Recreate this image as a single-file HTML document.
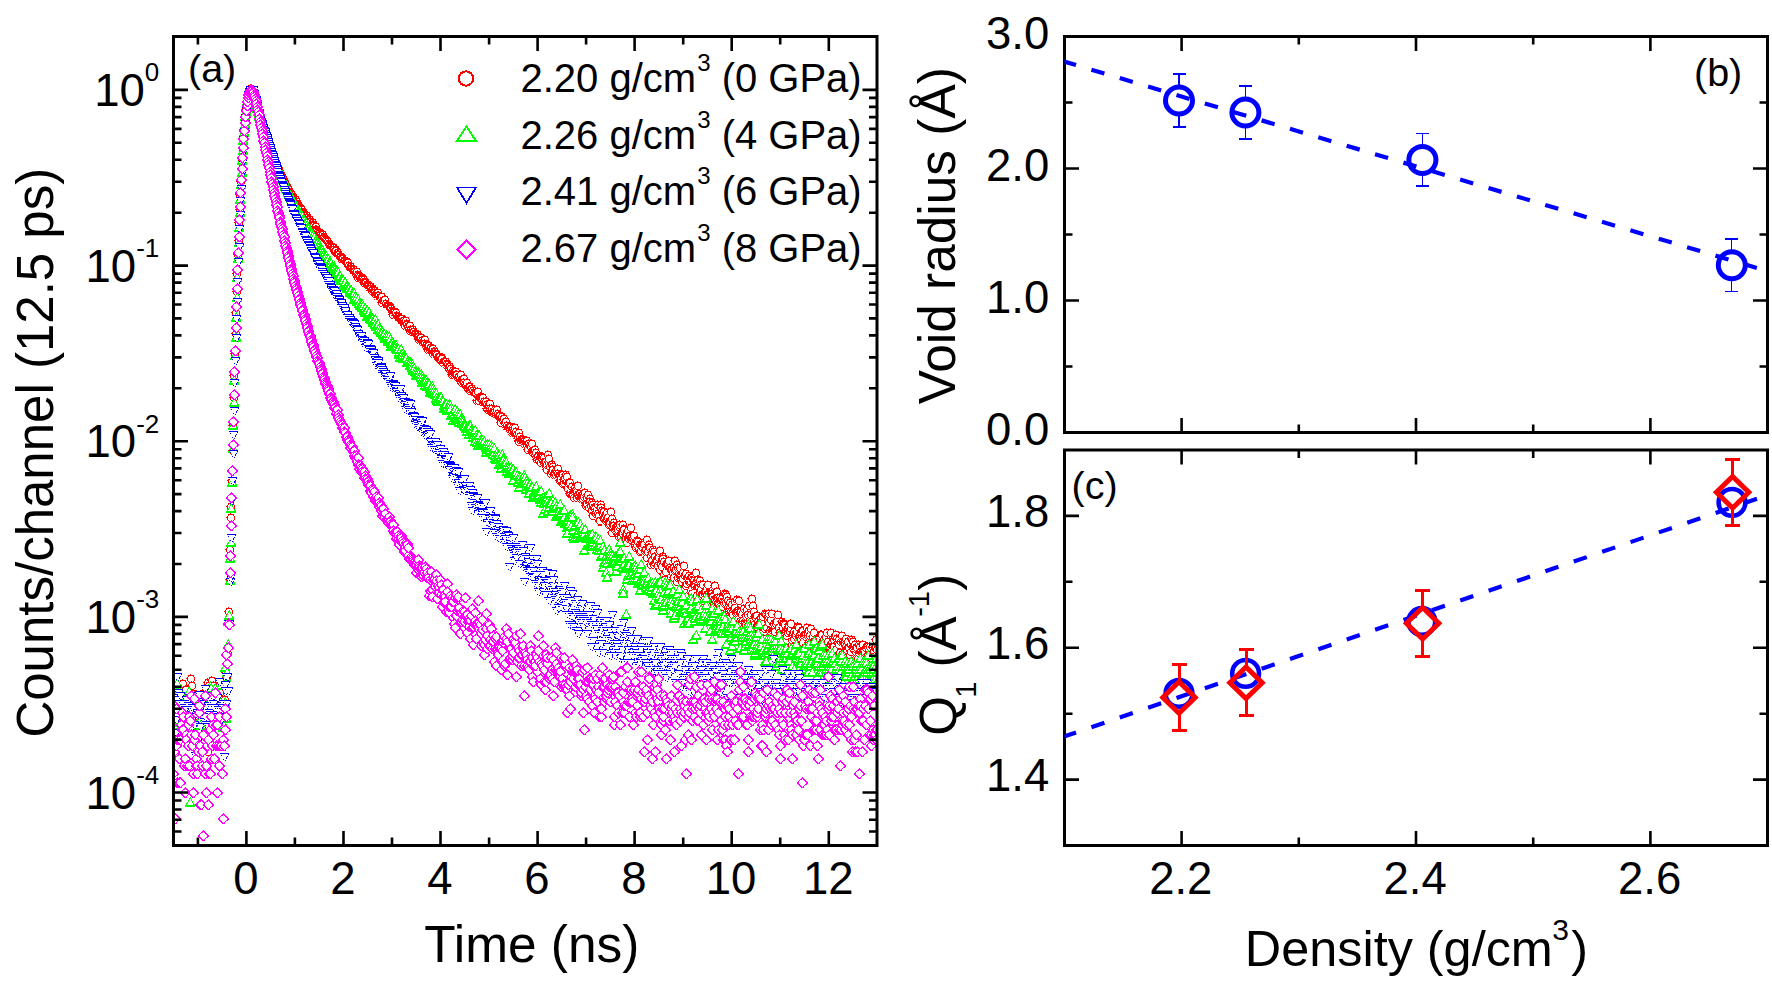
<!DOCTYPE html>
<html><head><meta charset="utf-8"><title>figure</title>
<style>html,body{margin:0;padding:0;background:#fff}svg{display:block}text{font-family:"Liberation Sans", sans-serif;fill:#000}</style>
</head><body>
<svg width="1772" height="983" viewBox="0 0 1772 983">
<defs>
<g id="r"><path fill="#fff" d="M-3-3.5h5l1.5 1.5v4l-1.5 1.5h-5l-1.5-1.5v-4z"/><path d="M-1.5 -5.5h1v1h-1zM-3.5 -4.5h6v1h-6zM-3.5 -3.5h1v1h-1zM1.5 -3.5h1v1h-1zM-4.5 -2.5h1v1h-1zM2.5 -2.5h1v1h-1zM-5.5 -1.5h2v1h-2zM2.5 -1.5h1v1h-1zM-4.5 -0.5h1v1h-1zM2.5 -0.5h1v1h-1zM-4.5 0.5h1v1h-1zM2.5 0.5h1v1h-1zM-3.5 1.5h1v1h-1zM1.5 1.5h1v1h-1zM-2.5 2.5h4v1h-4z"/></g><g id="g"><path fill="#fff" d="M0-4.5L-4.5 3.5h9z"/><path d="M-0.5 -5.5h1v1h-1zM-1.5 -4.5h2v1h-2zM-1.5 -3.5h1v1h-1zM0.5 -3.5h1v1h-1zM-2.5 -2.5h1v1h-1zM0.5 -2.5h1v1h-1zM-2.5 -1.5h1v1h-1zM1.5 -1.5h1v1h-1zM-3.5 -0.5h1v1h-1zM1.5 -0.5h1v1h-1zM-4.5 0.5h2v1h-2zM2.5 0.5h1v1h-1zM-4.5 1.5h1v1h-1zM2.5 1.5h2v1h-2zM-5.5 2.5h10v1h-10zM-5.5 3.5h10v1h-10z"/></g><g id="m"><path fill="#fff" d="M-4.5 0.5L0-4.5L4.5 0.5L0 5z"/><path d="M-0.5 -5.5h1v1h-1zM-1.5 -4.5h3v1h-3zM-2.5 -3.5h2v1h-2zM0.5 -3.5h2v1h-2zM-3.5 -2.5h1v1h-1zM1.5 -2.5h2v1h-2zM-4.5 -1.5h1v1h-1zM2.5 -1.5h2v1h-2zM-5.5 -0.5h2v1h-2zM3.5 -0.5h2v1h-2zM-5.5 0.5h2v1h-2zM3.5 0.5h2v1h-2zM-4.5 1.5h2v1h-2zM2.5 1.5h2v1h-2zM-3.5 2.5h2v1h-2zM1.5 2.5h1v1h-1zM-2.5 3.5h2v1h-2zM0.5 3.5h1v1h-1zM-1.5 4.5h3v1h-3z"/></g><g id="b"><path fill="#fff" d="M-4-3.5h8.5L0.5 3.5z"/><path d="M-4.5 -4.5h9v1h-9zM3.5 -3.5h1v1h-1zM-3.5 -2.5h1v1h-1zM2.5 -1.5h1v1h-1zM1.5 -0.5h1v1h-1zM1.5 0.5h1v1h-1zM-1.5 1.5h1v1h-1zM0.5 2.5h1v1h-1z"/></g>
<clipPath id="clipA"><rect x="173.5" y="36.5" width="703.5" height="809"/></clipPath>
<clipPath id="clipB"><rect x="1064.5" y="36.5" width="703" height="396"/></clipPath>
<clipPath id="clipC"><rect x="1064.5" y="450" width="703" height="395.5"/></clipPath>
</defs>
<rect width="1772" height="983" fill="#fff"/>
<g clip-path="url(#clipA)" stroke="none" shape-rendering="crispEdges"><g fill="#ff0000"><use href="#r" x="173.5" y="705.5"/><use href="#r" x="174.5" y="693.5"/><use href="#r" x="174.5" y="708.5"/><use href="#r" x="175.5" y="707.5"/><use href="#r" x="176.5" y="696.5"/><use href="#r" x="176.5" y="713.5"/><use href="#r" x="177.5" y="703.5"/><use href="#r" x="177.5" y="693.5"/><use href="#r" x="178.5" y="694.5"/><use href="#r" x="179.5" y="712.5"/><use href="#r" x="179.5" y="693.5"/><use href="#r" x="180.5" y="688.5"/><use href="#r" x="180.5" y="694.5"/><use href="#r" x="181.5" y="689.5"/><use href="#r" x="182.5" y="689.5"/><use href="#r" x="182.5" y="703.5"/><use href="#r" x="183.5" y="684.5"/><use href="#r" x="183.5" y="703.5"/><use href="#r" x="184.5" y="697.5"/><use href="#r" x="185.5" y="703.5"/><use href="#r" x="185.5" y="712.5"/><use href="#r" x="186.5" y="705.5"/><use href="#r" x="186.5" y="690.5"/><use href="#r" x="187.5" y="712.5"/><use href="#r" x="188.5" y="700.5"/><use href="#r" x="188.5" y="696.5"/><use href="#r" x="189.5" y="696.5"/><use href="#r" x="189.5" y="705.5"/><use href="#r" x="190.5" y="707.5"/><use href="#r" x="191.5" y="679.5"/><use href="#r" x="191.5" y="725.5"/><use href="#r" x="192.5" y="686.5"/><use href="#r" x="193.5" y="710.5"/><use href="#r" x="193.5" y="702.5"/><use href="#r" x="194.5" y="719.5"/><use href="#r" x="194.5" y="694.5"/><use href="#r" x="195.5" y="696.5"/><use href="#r" x="196.5" y="697.5"/><use href="#r" x="196.5" y="700.5"/><use href="#r" x="197.5" y="702.5"/><use href="#r" x="197.5" y="705.5"/><use href="#r" x="198.5" y="697.5"/><use href="#r" x="199.5" y="697.5"/><use href="#r" x="199.5" y="723.5"/><use href="#r" x="200.5" y="700.5"/><use href="#r" x="200.5" y="705.5"/><use href="#r" x="201.5" y="717.5"/><use href="#r" x="202.5" y="710.5"/><use href="#r" x="202.5" y="723.5"/><use href="#r" x="203.5" y="771.5"/><use href="#r" x="203.5" y="694.5"/><use href="#r" x="204.5" y="703.5"/><use href="#r" x="205.5" y="696.5"/><use href="#r" x="205.5" y="702.5"/><use href="#r" x="206.5" y="700.5"/><use href="#r" x="206.5" y="708.5"/><use href="#r" x="207.5" y="712.5"/><use href="#r" x="208.5" y="752.5"/><use href="#r" x="208.5" y="683.5"/><use href="#r" x="209.5" y="686.5"/><use href="#r" x="210.5" y="729.5"/><use href="#r" x="210.5" y="712.5"/><use href="#r" x="211.5" y="694.5"/><use href="#r" x="211.5" y="689.5"/><use href="#r" x="212.5" y="681.5"/><use href="#r" x="213.5" y="690.5"/><use href="#r" x="213.5" y="697.5"/><use href="#r" x="214.5" y="686.5"/><use href="#r" x="214.5" y="699.5"/><use href="#r" x="215.5" y="705.5"/><use href="#r" x="216.5" y="690.5"/><use href="#r" x="216.5" y="693.5"/><use href="#r" x="217.5" y="707.5"/><use href="#r" x="217.5" y="700.5"/><use href="#r" x="218.5" y="708.5"/><use href="#r" x="219.5" y="715.5"/><use href="#r" x="219.5" y="710.5"/><use href="#r" x="220.5" y="686.5"/><use href="#r" x="220.5" y="693.5"/><use href="#r" x="221.5" y="708.5"/><use href="#r" x="222.5" y="744.5"/><use href="#r" x="222.5" y="715.5"/><use href="#r" x="223.5" y="700.5"/><use href="#r" x="223.5" y="700.5"/><use href="#r" x="224.5" y="684.5"/><use href="#r" x="225.5" y="700.5"/><use href="#r" x="225.5" y="671.5"/><use href="#r" x="226.5" y="680.5"/><use href="#r" x="226.5" y="672.5"/><use href="#r" x="227.5" y="678.5"/><use href="#r" x="228.5" y="654.5"/><use href="#r" x="228.5" y="654.5"/><use href="#r" x="229.5" y="612.5"/><use href="#r" x="230.5" y="580.5"/><use href="#r" x="230.5" y="550.5"/><use href="#r" x="231.5" y="518.5"/><use href="#r" x="231.5" y="507.5"/><use href="#r" x="232.5" y="481.5"/><use href="#r" x="233.5" y="451.5"/><use href="#r" x="233.5" y="426.5"/><use href="#r" x="234.5" y="398.5"/><use href="#r" x="234.5" y="376.5"/><use href="#r" x="235.5" y="354.5"/><use href="#r" x="236.5" y="334.5"/><use href="#r" x="236.5" y="313.5"/><use href="#r" x="237.5" y="292.5"/><use href="#r" x="237.5" y="274.5"/><use href="#r" x="238.5" y="255.5"/><use href="#r" x="239.5" y="241.5"/><use href="#r" x="239.5" y="223.5"/><use href="#r" x="240.5" y="210.5"/><use href="#r" x="240.5" y="195.5"/><use href="#r" x="241.5" y="182.5"/><use href="#r" x="242.5" y="169.5"/><use href="#r" x="242.5" y="159.5"/><use href="#r" x="243.5" y="149.5"/><use href="#r" x="243.5" y="139.5"/><use href="#r" x="244.5" y="130.5"/><use href="#r" x="245.5" y="123.5"/><use href="#r" x="245.5" y="117.5"/><use href="#r" x="246.5" y="110.5"/><use href="#r" x="247.5" y="106.5"/><use href="#r" x="247.5" y="102.5"/><use href="#r" x="248.5" y="98.5"/><use href="#r" x="248.5" y="95.5"/><use href="#r" x="249.5" y="92.5"/><use href="#r" x="250.5" y="91.5"/><use href="#r" x="250.5" y="90.5"/><use href="#r" x="251.5" y="89.5"/><use href="#r" x="251.5" y="90.5"/><use href="#r" x="252.5" y="90.5"/><use href="#r" x="253.5" y="91.5"/><use href="#r" x="253.5" y="93.5"/><use href="#r" x="254.5" y="94.5"/><use href="#r" x="254.5" y="96.5"/><use href="#r" x="255.5" y="99.5"/><use href="#r" x="256.5" y="101.5"/><use href="#r" x="256.5" y="103.5"/><use href="#r" x="257.5" y="106.5"/><use href="#r" x="257.5" y="108.5"/><use href="#r" x="258.5" y="110.5"/><use href="#r" x="259.5" y="113.5"/><use href="#r" x="259.5" y="116.5"/><use href="#r" x="260.5" y="118.5"/><use href="#r" x="260.5" y="120.5"/><use href="#r" x="261.5" y="123.5"/><use href="#r" x="262.5" y="124.5"/><use href="#r" x="262.5" y="126.5"/><use href="#r" x="263.5" y="128.5"/><use href="#r" x="263.5" y="130.5"/><use href="#r" x="264.5" y="131.5"/><use href="#r" x="265.5" y="132.5"/><use href="#r" x="265.5" y="133.5"/><use href="#r" x="266.5" y="135.5"/><use href="#r" x="267.5" y="137.5"/><use href="#r" x="267.5" y="139.5"/><use href="#r" x="268.5" y="140.5"/><use href="#r" x="268.5" y="142.5"/><use href="#r" x="269.5" y="144.5"/><use href="#r" x="270.5" y="146.5"/><use href="#r" x="270.5" y="147.5"/><use href="#r" x="271.5" y="149.5"/><use href="#r" x="271.5" y="151.5"/><use href="#r" x="272.5" y="153.5"/><use href="#r" x="273.5" y="154.5"/><use href="#r" x="273.5" y="156.5"/><use href="#r" x="274.5" y="158.5"/><use href="#r" x="274.5" y="159.5"/><use href="#r" x="275.5" y="160.5"/><use href="#r" x="276.5" y="162.5"/><use href="#r" x="276.5" y="163.5"/><use href="#r" x="277.5" y="165.5"/><use href="#r" x="277.5" y="167.5"/><use href="#r" x="278.5" y="168.5"/><use href="#r" x="279.5" y="169.5"/><use href="#r" x="279.5" y="172.5"/><use href="#r" x="280.5" y="172.5"/><use href="#r" x="280.5" y="173.5"/><use href="#r" x="281.5" y="175.5"/><use href="#r" x="282.5" y="176.5"/><use href="#r" x="282.5" y="178.5"/><use href="#r" x="283.5" y="179.5"/><use href="#r" x="284.5" y="180.5"/><use href="#r" x="284.5" y="181.5"/><use href="#r" x="285.5" y="182.5"/><use href="#r" x="285.5" y="183.5"/><use href="#r" x="286.5" y="186.5"/><use href="#r" x="287.5" y="187.5"/><use href="#r" x="287.5" y="187.5"/><use href="#r" x="288.5" y="188.5"/><use href="#r" x="288.5" y="189.5"/><use href="#r" x="289.5" y="190.5"/><use href="#r" x="290.5" y="192.5"/><use href="#r" x="290.5" y="193.5"/><use href="#r" x="291.5" y="194.5"/><use href="#r" x="291.5" y="194.5"/><use href="#r" x="292.5" y="195.5"/><use href="#r" x="293.5" y="197.5"/><use href="#r" x="293.5" y="197.5"/><use href="#r" x="294.5" y="198.5"/><use href="#r" x="294.5" y="199.5"/><use href="#r" x="295.5" y="200.5"/><use href="#r" x="296.5" y="200.5"/><use href="#r" x="296.5" y="202.5"/><use href="#r" x="297.5" y="202.5"/><use href="#r" x="297.5" y="204.5"/><use href="#r" x="298.5" y="205.5"/><use href="#r" x="299.5" y="206.5"/><use href="#r" x="299.5" y="207.5"/><use href="#r" x="300.5" y="208.5"/><use href="#r" x="300.5" y="208.5"/><use href="#r" x="301.5" y="209.5"/><use href="#r" x="302.5" y="210.5"/><use href="#r" x="302.5" y="212.5"/><use href="#r" x="303.5" y="213.5"/><use href="#r" x="304.5" y="213.5"/><use href="#r" x="304.5" y="214.5"/><use href="#r" x="305.5" y="215.5"/><use href="#r" x="305.5" y="215.5"/><use href="#r" x="306.5" y="216.5"/><use href="#r" x="307.5" y="216.5"/><use href="#r" x="307.5" y="218.5"/><use href="#r" x="308.5" y="218.5"/><use href="#r" x="308.5" y="220.5"/><use href="#r" x="309.5" y="220.5"/><use href="#r" x="310.5" y="220.5"/><use href="#r" x="310.5" y="222.5"/><use href="#r" x="311.5" y="222.5"/><use href="#r" x="311.5" y="222.5"/><use href="#r" x="312.5" y="224.5"/><use href="#r" x="313.5" y="223.5"/><use href="#r" x="313.5" y="225.5"/><use href="#r" x="314.5" y="225.5"/><use href="#r" x="314.5" y="226.5"/><use href="#r" x="315.5" y="228.5"/><use href="#r" x="316.5" y="227.5"/><use href="#r" x="316.5" y="230.5"/><use href="#r" x="317.5" y="230.5"/><use href="#r" x="317.5" y="231.5"/><use href="#r" x="318.5" y="232.5"/><use href="#r" x="319.5" y="233.5"/><use href="#r" x="319.5" y="234.5"/><use href="#r" x="320.5" y="233.5"/><use href="#r" x="321.5" y="234.5"/><use href="#r" x="321.5" y="235.5"/><use href="#r" x="322.5" y="236.5"/><use href="#r" x="322.5" y="236.5"/><use href="#r" x="323.5" y="235.5"/><use href="#r" x="324.5" y="237.5"/><use href="#r" x="324.5" y="238.5"/><use href="#r" x="325.5" y="239.5"/><use href="#r" x="325.5" y="239.5"/><use href="#r" x="326.5" y="240.5"/><use href="#r" x="327.5" y="241.5"/><use href="#r" x="327.5" y="241.5"/><use href="#r" x="328.5" y="243.5"/><use href="#r" x="328.5" y="242.5"/><use href="#r" x="329.5" y="244.5"/><use href="#r" x="330.5" y="245.5"/><use href="#r" x="330.5" y="246.5"/><use href="#r" x="331.5" y="247.5"/><use href="#r" x="331.5" y="247.5"/><use href="#r" x="332.5" y="247.5"/><use href="#r" x="333.5" y="248.5"/><use href="#r" x="333.5" y="248.5"/><use href="#r" x="334.5" y="248.5"/><use href="#r" x="334.5" y="250.5"/><use href="#r" x="335.5" y="252.5"/><use href="#r" x="336.5" y="250.5"/><use href="#r" x="336.5" y="251.5"/><use href="#r" x="337.5" y="254.5"/><use href="#r" x="338.5" y="253.5"/><use href="#r" x="338.5" y="255.5"/><use href="#r" x="339.5" y="255.5"/><use href="#r" x="339.5" y="255.5"/><use href="#r" x="340.5" y="257.5"/><use href="#r" x="341.5" y="258.5"/><use href="#r" x="341.5" y="257.5"/><use href="#r" x="342.5" y="258.5"/><use href="#r" x="342.5" y="260.5"/><use href="#r" x="343.5" y="259.5"/><use href="#r" x="344.5" y="261.5"/><use href="#r" x="344.5" y="261.5"/><use href="#r" x="345.5" y="262.5"/><use href="#r" x="345.5" y="261.5"/><use href="#r" x="346.5" y="262.5"/><use href="#r" x="347.5" y="262.5"/><use href="#r" x="347.5" y="263.5"/><use href="#r" x="348.5" y="265.5"/><use href="#r" x="348.5" y="263.5"/><use href="#r" x="349.5" y="266.5"/><use href="#r" x="350.5" y="268.5"/><use href="#r" x="350.5" y="268.5"/><use href="#r" x="351.5" y="267.5"/><use href="#r" x="351.5" y="269.5"/><use href="#r" x="352.5" y="269.5"/><use href="#r" x="353.5" y="270.5"/><use href="#r" x="353.5" y="270.5"/><use href="#r" x="354.5" y="270.5"/><use href="#r" x="354.5" y="272.5"/><use href="#r" x="355.5" y="272.5"/><use href="#r" x="356.5" y="274.5"/><use href="#r" x="356.5" y="274.5"/><use href="#r" x="357.5" y="272.5"/><use href="#r" x="358.5" y="275.5"/><use href="#r" x="358.5" y="278.5"/><use href="#r" x="359.5" y="277.5"/><use href="#r" x="359.5" y="276.5"/><use href="#r" x="360.5" y="277.5"/><use href="#r" x="361.5" y="279.5"/><use href="#r" x="361.5" y="280.5"/><use href="#r" x="362.5" y="278.5"/><use href="#r" x="362.5" y="280.5"/><use href="#r" x="363.5" y="279.5"/><use href="#r" x="364.5" y="280.5"/><use href="#r" x="364.5" y="283.5"/><use href="#r" x="365.5" y="282.5"/><use href="#r" x="365.5" y="284.5"/><use href="#r" x="366.5" y="283.5"/><use href="#r" x="367.5" y="285.5"/><use href="#r" x="367.5" y="285.5"/><use href="#r" x="368.5" y="285.5"/><use href="#r" x="368.5" y="286.5"/><use href="#r" x="369.5" y="286.5"/><use href="#r" x="370.5" y="289.5"/><use href="#r" x="370.5" y="287.5"/><use href="#r" x="371.5" y="287.5"/><use href="#r" x="371.5" y="289.5"/><use href="#r" x="372.5" y="291.5"/><use href="#r" x="373.5" y="289.5"/><use href="#r" x="373.5" y="290.5"/><use href="#r" x="374.5" y="291.5"/><use href="#r" x="375.5" y="291.5"/><use href="#r" x="375.5" y="293.5"/><use href="#r" x="376.5" y="296.5"/><use href="#r" x="376.5" y="295.5"/><use href="#r" x="377.5" y="293.5"/><use href="#r" x="378.5" y="293.5"/><use href="#r" x="378.5" y="296.5"/><use href="#r" x="379.5" y="297.5"/><use href="#r" x="379.5" y="296.5"/><use href="#r" x="380.5" y="298.5"/><use href="#r" x="381.5" y="299.5"/><use href="#r" x="381.5" y="298.5"/><use href="#r" x="382.5" y="297.5"/><use href="#r" x="382.5" y="303.5"/><use href="#r" x="383.5" y="301.5"/><use href="#r" x="384.5" y="302.5"/><use href="#r" x="384.5" y="302.5"/><use href="#r" x="385.5" y="302.5"/><use href="#r" x="385.5" y="300.5"/><use href="#r" x="386.5" y="304.5"/><use href="#r" x="387.5" y="306.5"/><use href="#r" x="387.5" y="306.5"/><use href="#r" x="388.5" y="307.5"/><use href="#r" x="388.5" y="306.5"/><use href="#r" x="389.5" y="306.5"/><use href="#r" x="390.5" y="307.5"/><use href="#r" x="390.5" y="308.5"/><use href="#r" x="391.5" y="308.5"/><use href="#r" x="391.5" y="309.5"/><use href="#r" x="392.5" y="311.5"/><use href="#r" x="393.5" y="312.5"/><use href="#r" x="393.5" y="315.5"/><use href="#r" x="394.5" y="312.5"/><use href="#r" x="395.5" y="314.5"/><use href="#r" x="395.5" y="312.5"/><use href="#r" x="396.5" y="314.5"/><use href="#r" x="396.5" y="313.5"/><use href="#r" x="397.5" y="316.5"/><use href="#r" x="398.5" y="317.5"/><use href="#r" x="398.5" y="317.5"/><use href="#r" x="399.5" y="317.5"/><use href="#r" x="399.5" y="319.5"/><use href="#r" x="400.5" y="319.5"/><use href="#r" x="401.5" y="319.5"/><use href="#r" x="401.5" y="320.5"/><use href="#r" x="402.5" y="319.5"/><use href="#r" x="402.5" y="322.5"/><use href="#r" x="403.5" y="322.5"/><use href="#r" x="404.5" y="321.5"/><use href="#r" x="404.5" y="324.5"/><use href="#r" x="405.5" y="323.5"/><use href="#r" x="405.5" y="326.5"/><use href="#r" x="406.5" y="321.5"/><use href="#r" x="407.5" y="324.5"/><use href="#r" x="407.5" y="325.5"/><use href="#r" x="408.5" y="327.5"/><use href="#r" x="408.5" y="327.5"/><use href="#r" x="409.5" y="329.5"/><use href="#r" x="410.5" y="326.5"/><use href="#r" x="410.5" y="331.5"/><use href="#r" x="411.5" y="330.5"/><use href="#r" x="412.5" y="331.5"/><use href="#r" x="412.5" y="331.5"/><use href="#r" x="413.5" y="330.5"/><use href="#r" x="413.5" y="333.5"/><use href="#r" x="414.5" y="332.5"/><use href="#r" x="415.5" y="334.5"/><use href="#r" x="415.5" y="334.5"/><use href="#r" x="416.5" y="334.5"/><use href="#r" x="416.5" y="334.5"/><use href="#r" x="417.5" y="335.5"/><use href="#r" x="418.5" y="335.5"/><use href="#r" x="418.5" y="337.5"/><use href="#r" x="419.5" y="337.5"/><use href="#r" x="419.5" y="340.5"/><use href="#r" x="420.5" y="339.5"/><use href="#r" x="421.5" y="338.5"/><use href="#r" x="421.5" y="338.5"/><use href="#r" x="422.5" y="342.5"/><use href="#r" x="422.5" y="341.5"/><use href="#r" x="423.5" y="343.5"/><use href="#r" x="424.5" y="341.5"/><use href="#r" x="424.5" y="342.5"/><use href="#r" x="425.5" y="340.5"/><use href="#r" x="425.5" y="344.5"/><use href="#r" x="426.5" y="346.5"/><use href="#r" x="427.5" y="345.5"/><use href="#r" x="427.5" y="345.5"/><use href="#r" x="428.5" y="346.5"/><use href="#r" x="428.5" y="350.5"/><use href="#r" x="429.5" y="346.5"/><use href="#r" x="430.5" y="349.5"/><use href="#r" x="430.5" y="350.5"/><use href="#r" x="431.5" y="348.5"/><use href="#r" x="432.5" y="350.5"/><use href="#r" x="432.5" y="351.5"/><use href="#r" x="433.5" y="354.5"/><use href="#r" x="433.5" y="349.5"/><use href="#r" x="434.5" y="352.5"/><use href="#r" x="435.5" y="352.5"/><use href="#r" x="435.5" y="354.5"/><use href="#r" x="436.5" y="354.5"/><use href="#r" x="436.5" y="354.5"/><use href="#r" x="437.5" y="355.5"/><use href="#r" x="438.5" y="358.5"/><use href="#r" x="438.5" y="358.5"/><use href="#r" x="439.5" y="357.5"/><use href="#r" x="439.5" y="359.5"/><use href="#r" x="440.5" y="357.5"/><use href="#r" x="441.5" y="360.5"/><use href="#r" x="441.5" y="361.5"/><use href="#r" x="442.5" y="358.5"/><use href="#r" x="442.5" y="359.5"/><use href="#r" x="443.5" y="363.5"/><use href="#r" x="444.5" y="362.5"/><use href="#r" x="444.5" y="362.5"/><use href="#r" x="445.5" y="363.5"/><use href="#r" x="445.5" y="362.5"/><use href="#r" x="446.5" y="362.5"/><use href="#r" x="447.5" y="366.5"/><use href="#r" x="447.5" y="364.5"/><use href="#r" x="448.5" y="365.5"/><use href="#r" x="449.5" y="367.5"/><use href="#r" x="449.5" y="369.5"/><use href="#r" x="450.5" y="370.5"/><use href="#r" x="450.5" y="367.5"/><use href="#r" x="451.5" y="369.5"/><use href="#r" x="452.5" y="373.5"/><use href="#r" x="452.5" y="375.5"/><use href="#r" x="453.5" y="371.5"/><use href="#r" x="453.5" y="374.5"/><use href="#r" x="454.5" y="373.5"/><use href="#r" x="455.5" y="372.5"/><use href="#r" x="455.5" y="374.5"/><use href="#r" x="456.5" y="372.5"/><use href="#r" x="456.5" y="375.5"/><use href="#r" x="457.5" y="375.5"/><use href="#r" x="458.5" y="378.5"/><use href="#r" x="458.5" y="378.5"/><use href="#r" x="459.5" y="377.5"/><use href="#r" x="459.5" y="377.5"/><use href="#r" x="460.5" y="379.5"/><use href="#r" x="461.5" y="375.5"/><use href="#r" x="461.5" y="382.5"/><use href="#r" x="462.5" y="383.5"/><use href="#r" x="462.5" y="380.5"/><use href="#r" x="463.5" y="381.5"/><use href="#r" x="464.5" y="379.5"/><use href="#r" x="464.5" y="383.5"/><use href="#r" x="465.5" y="385.5"/><use href="#r" x="465.5" y="385.5"/><use href="#r" x="466.5" y="386.5"/><use href="#r" x="467.5" y="387.5"/><use href="#r" x="467.5" y="383.5"/><use href="#r" x="468.5" y="389.5"/><use href="#r" x="469.5" y="388.5"/><use href="#r" x="469.5" y="387.5"/><use href="#r" x="470.5" y="387.5"/><use href="#r" x="470.5" y="391.5"/><use href="#r" x="471.5" y="390.5"/><use href="#r" x="472.5" y="389.5"/><use href="#r" x="472.5" y="389.5"/><use href="#r" x="473.5" y="391.5"/><use href="#r" x="473.5" y="391.5"/><use href="#r" x="474.5" y="393.5"/><use href="#r" x="475.5" y="395.5"/><use href="#r" x="475.5" y="394.5"/><use href="#r" x="476.5" y="395.5"/><use href="#r" x="476.5" y="394.5"/><use href="#r" x="477.5" y="401.5"/><use href="#r" x="478.5" y="396.5"/><use href="#r" x="478.5" y="392.5"/><use href="#r" x="479.5" y="398.5"/><use href="#r" x="479.5" y="401.5"/><use href="#r" x="480.5" y="398.5"/><use href="#r" x="481.5" y="397.5"/><use href="#r" x="481.5" y="399.5"/><use href="#r" x="482.5" y="398.5"/><use href="#r" x="482.5" y="400.5"/><use href="#r" x="483.5" y="398.5"/><use href="#r" x="484.5" y="404.5"/><use href="#r" x="484.5" y="402.5"/><use href="#r" x="485.5" y="404.5"/><use href="#r" x="486.5" y="404.5"/><use href="#r" x="486.5" y="402.5"/><use href="#r" x="487.5" y="409.5"/><use href="#r" x="487.5" y="405.5"/><use href="#r" x="488.5" y="407.5"/><use href="#r" x="489.5" y="411.5"/><use href="#r" x="489.5" y="407.5"/><use href="#r" x="490.5" y="404.5"/><use href="#r" x="490.5" y="409.5"/><use href="#r" x="491.5" y="412.5"/><use href="#r" x="492.5" y="413.5"/><use href="#r" x="492.5" y="409.5"/><use href="#r" x="493.5" y="412.5"/><use href="#r" x="493.5" y="414.5"/><use href="#r" x="494.5" y="414.5"/><use href="#r" x="495.5" y="413.5"/><use href="#r" x="495.5" y="410.5"/><use href="#r" x="496.5" y="414.5"/><use href="#r" x="496.5" y="415.5"/><use href="#r" x="497.5" y="410.5"/><use href="#r" x="498.5" y="416.5"/><use href="#r" x="498.5" y="414.5"/><use href="#r" x="499.5" y="416.5"/><use href="#r" x="499.5" y="417.5"/><use href="#r" x="500.5" y="416.5"/><use href="#r" x="501.5" y="419.5"/><use href="#r" x="501.5" y="423.5"/><use href="#r" x="502.5" y="417.5"/><use href="#r" x="503.5" y="421.5"/><use href="#r" x="503.5" y="420.5"/><use href="#r" x="504.5" y="422.5"/><use href="#r" x="504.5" y="419.5"/><use href="#r" x="505.5" y="423.5"/><use href="#r" x="506.5" y="423.5"/><use href="#r" x="506.5" y="422.5"/><use href="#r" x="507.5" y="428.5"/><use href="#r" x="507.5" y="426.5"/><use href="#r" x="508.5" y="428.5"/><use href="#r" x="509.5" y="428.5"/><use href="#r" x="509.5" y="428.5"/><use href="#r" x="510.5" y="429.5"/><use href="#r" x="510.5" y="430.5"/><use href="#r" x="511.5" y="427.5"/><use href="#r" x="512.5" y="433.5"/><use href="#r" x="512.5" y="431.5"/><use href="#r" x="513.5" y="429.5"/><use href="#r" x="513.5" y="428.5"/><use href="#r" x="514.5" y="431.5"/><use href="#r" x="515.5" y="434.5"/><use href="#r" x="515.5" y="428.5"/><use href="#r" x="516.5" y="435.5"/><use href="#r" x="516.5" y="432.5"/><use href="#r" x="517.5" y="435.5"/><use href="#r" x="518.5" y="439.5"/><use href="#r" x="518.5" y="437.5"/><use href="#r" x="519.5" y="442.5"/><use href="#r" x="519.5" y="433.5"/><use href="#r" x="520.5" y="437.5"/><use href="#r" x="521.5" y="440.5"/><use href="#r" x="521.5" y="441.5"/><use href="#r" x="522.5" y="440.5"/><use href="#r" x="523.5" y="440.5"/><use href="#r" x="523.5" y="442.5"/><use href="#r" x="524.5" y="444.5"/><use href="#r" x="524.5" y="442.5"/><use href="#r" x="525.5" y="441.5"/><use href="#r" x="526.5" y="443.5"/><use href="#r" x="526.5" y="442.5"/><use href="#r" x="527.5" y="441.5"/><use href="#r" x="527.5" y="445.5"/><use href="#r" x="528.5" y="450.5"/><use href="#r" x="529.5" y="445.5"/><use href="#r" x="529.5" y="444.5"/><use href="#r" x="530.5" y="447.5"/><use href="#r" x="530.5" y="446.5"/><use href="#r" x="531.5" y="447.5"/><use href="#r" x="532.5" y="444.5"/><use href="#r" x="532.5" y="452.5"/><use href="#r" x="533.5" y="452.5"/><use href="#r" x="533.5" y="453.5"/><use href="#r" x="534.5" y="452.5"/><use href="#r" x="535.5" y="451.5"/><use href="#r" x="535.5" y="450.5"/><use href="#r" x="536.5" y="456.5"/><use href="#r" x="536.5" y="453.5"/><use href="#r" x="537.5" y="460.5"/><use href="#r" x="538.5" y="456.5"/><use href="#r" x="538.5" y="457.5"/><use href="#r" x="539.5" y="461.5"/><use href="#r" x="540.5" y="458.5"/><use href="#r" x="540.5" y="458.5"/><use href="#r" x="541.5" y="463.5"/><use href="#r" x="541.5" y="458.5"/><use href="#r" x="542.5" y="457.5"/><use href="#r" x="543.5" y="460.5"/><use href="#r" x="543.5" y="457.5"/><use href="#r" x="544.5" y="458.5"/><use href="#r" x="544.5" y="463.5"/><use href="#r" x="545.5" y="462.5"/><use href="#r" x="546.5" y="466.5"/><use href="#r" x="546.5" y="462.5"/><use href="#r" x="547.5" y="470.5"/><use href="#r" x="547.5" y="465.5"/><use href="#r" x="548.5" y="455.5"/><use href="#r" x="549.5" y="463.5"/><use href="#r" x="549.5" y="459.5"/><use href="#r" x="550.5" y="467.5"/><use href="#r" x="550.5" y="467.5"/><use href="#r" x="551.5" y="474.5"/><use href="#r" x="552.5" y="472.5"/><use href="#r" x="552.5" y="465.5"/><use href="#r" x="553.5" y="467.5"/><use href="#r" x="553.5" y="470.5"/><use href="#r" x="554.5" y="475.5"/><use href="#r" x="555.5" y="474.5"/><use href="#r" x="555.5" y="474.5"/><use href="#r" x="556.5" y="475.5"/><use href="#r" x="556.5" y="471.5"/><use href="#r" x="557.5" y="472.5"/><use href="#r" x="558.5" y="469.5"/><use href="#r" x="558.5" y="474.5"/><use href="#r" x="559.5" y="476.5"/><use href="#r" x="560.5" y="476.5"/><use href="#r" x="560.5" y="481.5"/><use href="#r" x="561.5" y="478.5"/><use href="#r" x="561.5" y="480.5"/><use href="#r" x="562.5" y="475.5"/><use href="#r" x="563.5" y="475.5"/><use href="#r" x="563.5" y="484.5"/><use href="#r" x="564.5" y="480.5"/><use href="#r" x="564.5" y="483.5"/><use href="#r" x="565.5" y="478.5"/><use href="#r" x="566.5" y="482.5"/><use href="#r" x="566.5" y="475.5"/><use href="#r" x="567.5" y="482.5"/><use href="#r" x="567.5" y="477.5"/><use href="#r" x="568.5" y="489.5"/><use href="#r" x="569.5" y="483.5"/><use href="#r" x="569.5" y="484.5"/><use href="#r" x="570.5" y="483.5"/><use href="#r" x="570.5" y="494.5"/><use href="#r" x="571.5" y="492.5"/><use href="#r" x="572.5" y="496.5"/><use href="#r" x="572.5" y="487.5"/><use href="#r" x="573.5" y="493.5"/><use href="#r" x="573.5" y="496.5"/><use href="#r" x="574.5" y="498.5"/><use href="#r" x="575.5" y="488.5"/><use href="#r" x="575.5" y="492.5"/><use href="#r" x="576.5" y="491.5"/><use href="#r" x="577.5" y="498.5"/><use href="#r" x="577.5" y="492.5"/><use href="#r" x="578.5" y="486.5"/><use href="#r" x="578.5" y="495.5"/><use href="#r" x="579.5" y="497.5"/><use href="#r" x="580.5" y="496.5"/><use href="#r" x="580.5" y="494.5"/><use href="#r" x="581.5" y="496.5"/><use href="#r" x="581.5" y="499.5"/><use href="#r" x="582.5" y="498.5"/><use href="#r" x="583.5" y="495.5"/><use href="#r" x="583.5" y="499.5"/><use href="#r" x="584.5" y="496.5"/><use href="#r" x="584.5" y="497.5"/><use href="#r" x="585.5" y="493.5"/><use href="#r" x="586.5" y="504.5"/><use href="#r" x="586.5" y="506.5"/><use href="#r" x="587.5" y="498.5"/><use href="#r" x="587.5" y="504.5"/><use href="#r" x="588.5" y="495.5"/><use href="#r" x="589.5" y="502.5"/><use href="#r" x="589.5" y="508.5"/><use href="#r" x="590.5" y="499.5"/><use href="#r" x="590.5" y="502.5"/><use href="#r" x="591.5" y="506.5"/><use href="#r" x="592.5" y="503.5"/><use href="#r" x="592.5" y="511.5"/><use href="#r" x="593.5" y="505.5"/><use href="#r" x="593.5" y="516.5"/><use href="#r" x="594.5" y="508.5"/><use href="#r" x="595.5" y="513.5"/><use href="#r" x="595.5" y="509.5"/><use href="#r" x="596.5" y="514.5"/><use href="#r" x="597.5" y="510.5"/><use href="#r" x="597.5" y="510.5"/><use href="#r" x="598.5" y="505.5"/><use href="#r" x="598.5" y="514.5"/><use href="#r" x="599.5" y="516.5"/><use href="#r" x="600.5" y="522.5"/><use href="#r" x="600.5" y="521.5"/><use href="#r" x="601.5" y="505.5"/><use href="#r" x="601.5" y="508.5"/><use href="#r" x="602.5" y="511.5"/><use href="#r" x="603.5" y="513.5"/><use href="#r" x="603.5" y="514.5"/><use href="#r" x="604.5" y="512.5"/><use href="#r" x="604.5" y="519.5"/><use href="#r" x="605.5" y="517.5"/><use href="#r" x="606.5" y="521.5"/><use href="#r" x="606.5" y="515.5"/><use href="#r" x="607.5" y="513.5"/><use href="#r" x="607.5" y="520.5"/><use href="#r" x="608.5" y="518.5"/><use href="#r" x="609.5" y="522.5"/><use href="#r" x="609.5" y="525.5"/><use href="#r" x="610.5" y="522.5"/><use href="#r" x="610.5" y="524.5"/><use href="#r" x="611.5" y="512.5"/><use href="#r" x="612.5" y="533.5"/><use href="#r" x="612.5" y="519.5"/><use href="#r" x="613.5" y="525.5"/><use href="#r" x="614.5" y="523.5"/><use href="#r" x="614.5" y="526.5"/><use href="#r" x="615.5" y="531.5"/><use href="#r" x="615.5" y="530.5"/><use href="#r" x="616.5" y="529.5"/><use href="#r" x="617.5" y="526.5"/><use href="#r" x="617.5" y="527.5"/><use href="#r" x="618.5" y="527.5"/><use href="#r" x="618.5" y="530.5"/><use href="#r" x="619.5" y="537.5"/><use href="#r" x="620.5" y="528.5"/><use href="#r" x="620.5" y="525.5"/><use href="#r" x="621.5" y="534.5"/><use href="#r" x="621.5" y="537.5"/><use href="#r" x="622.5" y="534.5"/><use href="#r" x="623.5" y="534.5"/><use href="#r" x="623.5" y="525.5"/><use href="#r" x="624.5" y="529.5"/><use href="#r" x="624.5" y="530.5"/><use href="#r" x="625.5" y="539.5"/><use href="#r" x="626.5" y="535.5"/><use href="#r" x="626.5" y="539.5"/><use href="#r" x="627.5" y="543.5"/><use href="#r" x="627.5" y="535.5"/><use href="#r" x="628.5" y="531.5"/><use href="#r" x="629.5" y="537.5"/><use href="#r" x="629.5" y="539.5"/><use href="#r" x="630.5" y="536.5"/><use href="#r" x="631.5" y="539.5"/><use href="#r" x="631.5" y="528.5"/><use href="#r" x="632.5" y="537.5"/><use href="#r" x="632.5" y="541.5"/><use href="#r" x="633.5" y="539.5"/><use href="#r" x="634.5" y="540.5"/><use href="#r" x="634.5" y="536.5"/><use href="#r" x="635.5" y="544.5"/><use href="#r" x="635.5" y="545.5"/><use href="#r" x="636.5" y="548.5"/><use href="#r" x="637.5" y="545.5"/><use href="#r" x="637.5" y="541.5"/><use href="#r" x="638.5" y="543.5"/><use href="#r" x="638.5" y="542.5"/><use href="#r" x="639.5" y="550.5"/><use href="#r" x="640.5" y="545.5"/><use href="#r" x="640.5" y="552.5"/><use href="#r" x="641.5" y="551.5"/><use href="#r" x="641.5" y="546.5"/><use href="#r" x="642.5" y="545.5"/><use href="#r" x="643.5" y="548.5"/><use href="#r" x="643.5" y="545.5"/><use href="#r" x="644.5" y="543.5"/><use href="#r" x="644.5" y="545.5"/><use href="#r" x="645.5" y="551.5"/><use href="#r" x="646.5" y="550.5"/><use href="#r" x="646.5" y="550.5"/><use href="#r" x="647.5" y="558.5"/><use href="#r" x="647.5" y="540.5"/><use href="#r" x="648.5" y="552.5"/><use href="#r" x="649.5" y="545.5"/><use href="#r" x="649.5" y="548.5"/><use href="#r" x="650.5" y="548.5"/><use href="#r" x="651.5" y="556.5"/><use href="#r" x="651.5" y="565.5"/><use href="#r" x="652.5" y="553.5"/><use href="#r" x="652.5" y="561.5"/><use href="#r" x="653.5" y="550.5"/><use href="#r" x="654.5" y="565.5"/><use href="#r" x="654.5" y="552.5"/><use href="#r" x="655.5" y="563.5"/><use href="#r" x="655.5" y="557.5"/><use href="#r" x="656.5" y="562.5"/><use href="#r" x="657.5" y="562.5"/><use href="#r" x="657.5" y="561.5"/><use href="#r" x="658.5" y="566.5"/><use href="#r" x="658.5" y="558.5"/><use href="#r" x="659.5" y="558.5"/><use href="#r" x="660.5" y="551.5"/><use href="#r" x="660.5" y="570.5"/><use href="#r" x="661.5" y="563.5"/><use href="#r" x="661.5" y="565.5"/><use href="#r" x="662.5" y="567.5"/><use href="#r" x="663.5" y="557.5"/><use href="#r" x="663.5" y="559.5"/><use href="#r" x="664.5" y="562.5"/><use href="#r" x="664.5" y="575.5"/><use href="#r" x="665.5" y="580.5"/><use href="#r" x="666.5" y="565.5"/><use href="#r" x="666.5" y="572.5"/><use href="#r" x="667.5" y="565.5"/><use href="#r" x="668.5" y="566.5"/><use href="#r" x="668.5" y="565.5"/><use href="#r" x="669.5" y="568.5"/><use href="#r" x="669.5" y="561.5"/><use href="#r" x="670.5" y="568.5"/><use href="#r" x="671.5" y="577.5"/><use href="#r" x="671.5" y="570.5"/><use href="#r" x="672.5" y="570.5"/><use href="#r" x="672.5" y="583.5"/><use href="#r" x="673.5" y="573.5"/><use href="#r" x="674.5" y="568.5"/><use href="#r" x="674.5" y="578.5"/><use href="#r" x="675.5" y="561.5"/><use href="#r" x="675.5" y="571.5"/><use href="#r" x="676.5" y="570.5"/><use href="#r" x="677.5" y="565.5"/><use href="#r" x="677.5" y="582.5"/><use href="#r" x="678.5" y="578.5"/><use href="#r" x="678.5" y="568.5"/><use href="#r" x="679.5" y="574.5"/><use href="#r" x="680.5" y="568.5"/><use href="#r" x="680.5" y="576.5"/><use href="#r" x="681.5" y="577.5"/><use href="#r" x="681.5" y="580.5"/><use href="#r" x="682.5" y="582.5"/><use href="#r" x="683.5" y="573.5"/><use href="#r" x="683.5" y="579.5"/><use href="#r" x="684.5" y="590.5"/><use href="#r" x="684.5" y="566.5"/><use href="#r" x="685.5" y="576.5"/><use href="#r" x="686.5" y="574.5"/><use href="#r" x="686.5" y="586.5"/><use href="#r" x="687.5" y="584.5"/><use href="#r" x="688.5" y="579.5"/><use href="#r" x="688.5" y="578.5"/><use href="#r" x="689.5" y="576.5"/><use href="#r" x="689.5" y="582.5"/><use href="#r" x="690.5" y="583.5"/><use href="#r" x="691.5" y="582.5"/><use href="#r" x="691.5" y="578.5"/><use href="#r" x="692.5" y="578.5"/><use href="#r" x="692.5" y="594.5"/><use href="#r" x="693.5" y="580.5"/><use href="#r" x="694.5" y="581.5"/><use href="#r" x="694.5" y="585.5"/><use href="#r" x="695.5" y="585.5"/><use href="#r" x="695.5" y="587.5"/><use href="#r" x="696.5" y="573.5"/><use href="#r" x="697.5" y="596.5"/><use href="#r" x="697.5" y="588.5"/><use href="#r" x="698.5" y="588.5"/><use href="#r" x="698.5" y="580.5"/><use href="#r" x="699.5" y="588.5"/><use href="#r" x="700.5" y="581.5"/><use href="#r" x="700.5" y="593.5"/><use href="#r" x="701.5" y="585.5"/><use href="#r" x="701.5" y="590.5"/><use href="#r" x="702.5" y="595.5"/><use href="#r" x="703.5" y="585.5"/><use href="#r" x="703.5" y="595.5"/><use href="#r" x="704.5" y="601.5"/><use href="#r" x="705.5" y="593.5"/><use href="#r" x="705.5" y="594.5"/><use href="#r" x="706.5" y="591.5"/><use href="#r" x="706.5" y="592.5"/><use href="#r" x="707.5" y="595.5"/><use href="#r" x="708.5" y="586.5"/><use href="#r" x="708.5" y="585.5"/><use href="#r" x="709.5" y="603.5"/><use href="#r" x="709.5" y="594.5"/><use href="#r" x="710.5" y="595.5"/><use href="#r" x="711.5" y="595.5"/><use href="#r" x="711.5" y="596.5"/><use href="#r" x="712.5" y="594.5"/><use href="#r" x="712.5" y="597.5"/><use href="#r" x="713.5" y="597.5"/><use href="#r" x="714.5" y="604.5"/><use href="#r" x="714.5" y="600.5"/><use href="#r" x="715.5" y="586.5"/><use href="#r" x="715.5" y="601.5"/><use href="#r" x="716.5" y="603.5"/><use href="#r" x="717.5" y="592.5"/><use href="#r" x="717.5" y="599.5"/><use href="#r" x="718.5" y="598.5"/><use href="#r" x="718.5" y="604.5"/><use href="#r" x="719.5" y="605.5"/><use href="#r" x="720.5" y="607.5"/><use href="#r" x="720.5" y="598.5"/><use href="#r" x="721.5" y="601.5"/><use href="#r" x="721.5" y="609.5"/><use href="#r" x="722.5" y="599.5"/><use href="#r" x="723.5" y="602.5"/><use href="#r" x="723.5" y="607.5"/><use href="#r" x="724.5" y="603.5"/><use href="#r" x="725.5" y="616.5"/><use href="#r" x="725.5" y="594.5"/><use href="#r" x="726.5" y="595.5"/><use href="#r" x="726.5" y="603.5"/><use href="#r" x="727.5" y="597.5"/><use href="#r" x="728.5" y="601.5"/><use href="#r" x="728.5" y="608.5"/><use href="#r" x="729.5" y="610.5"/><use href="#r" x="729.5" y="612.5"/><use href="#r" x="730.5" y="603.5"/><use href="#r" x="731.5" y="614.5"/><use href="#r" x="731.5" y="612.5"/><use href="#r" x="732.5" y="614.5"/><use href="#r" x="732.5" y="605.5"/><use href="#r" x="733.5" y="615.5"/><use href="#r" x="734.5" y="609.5"/><use href="#r" x="734.5" y="609.5"/><use href="#r" x="735.5" y="602.5"/><use href="#r" x="735.5" y="608.5"/><use href="#r" x="736.5" y="613.5"/><use href="#r" x="737.5" y="600.5"/><use href="#r" x="737.5" y="612.5"/><use href="#r" x="738.5" y="611.5"/><use href="#r" x="738.5" y="613.5"/><use href="#r" x="739.5" y="601.5"/><use href="#r" x="740.5" y="613.5"/><use href="#r" x="740.5" y="622.5"/><use href="#r" x="741.5" y="612.5"/><use href="#r" x="742.5" y="615.5"/><use href="#r" x="742.5" y="623.5"/><use href="#r" x="743.5" y="622.5"/><use href="#r" x="743.5" y="621.5"/><use href="#r" x="744.5" y="609.5"/><use href="#r" x="745.5" y="622.5"/><use href="#r" x="745.5" y="624.5"/><use href="#r" x="746.5" y="616.5"/><use href="#r" x="746.5" y="625.5"/><use href="#r" x="747.5" y="610.5"/><use href="#r" x="748.5" y="621.5"/><use href="#r" x="748.5" y="615.5"/><use href="#r" x="749.5" y="606.5"/><use href="#r" x="749.5" y="625.5"/><use href="#r" x="750.5" y="621.5"/><use href="#r" x="751.5" y="615.5"/><use href="#r" x="751.5" y="625.5"/><use href="#r" x="752.5" y="599.5"/><use href="#r" x="752.5" y="633.5"/><use href="#r" x="753.5" y="606.5"/><use href="#r" x="754.5" y="612.5"/><use href="#r" x="754.5" y="622.5"/><use href="#r" x="755.5" y="617.5"/><use href="#r" x="755.5" y="624.5"/><use href="#r" x="756.5" y="618.5"/><use href="#r" x="757.5" y="627.5"/><use href="#r" x="757.5" y="616.5"/><use href="#r" x="758.5" y="625.5"/><use href="#r" x="758.5" y="622.5"/><use href="#r" x="759.5" y="625.5"/><use href="#r" x="760.5" y="623.5"/><use href="#r" x="760.5" y="624.5"/><use href="#r" x="761.5" y="618.5"/><use href="#r" x="762.5" y="621.5"/><use href="#r" x="762.5" y="622.5"/><use href="#r" x="763.5" y="617.5"/><use href="#r" x="763.5" y="633.5"/><use href="#r" x="764.5" y="639.5"/><use href="#r" x="765.5" y="629.5"/><use href="#r" x="765.5" y="614.5"/><use href="#r" x="766.5" y="616.5"/><use href="#r" x="766.5" y="615.5"/><use href="#r" x="767.5" y="628.5"/><use href="#r" x="768.5" y="617.5"/><use href="#r" x="768.5" y="621.5"/><use href="#r" x="769.5" y="623.5"/><use href="#r" x="769.5" y="614.5"/><use href="#r" x="770.5" y="631.5"/><use href="#r" x="771.5" y="621.5"/><use href="#r" x="771.5" y="620.5"/><use href="#r" x="772.5" y="614.5"/><use href="#r" x="772.5" y="631.5"/><use href="#r" x="773.5" y="631.5"/><use href="#r" x="774.5" y="629.5"/><use href="#r" x="774.5" y="624.5"/><use href="#r" x="775.5" y="628.5"/><use href="#r" x="775.5" y="632.5"/><use href="#r" x="776.5" y="624.5"/><use href="#r" x="777.5" y="623.5"/><use href="#r" x="777.5" y="622.5"/><use href="#r" x="778.5" y="615.5"/><use href="#r" x="779.5" y="629.5"/><use href="#r" x="779.5" y="628.5"/><use href="#r" x="780.5" y="647.5"/><use href="#r" x="780.5" y="633.5"/><use href="#r" x="781.5" y="635.5"/><use href="#r" x="782.5" y="633.5"/><use href="#r" x="782.5" y="622.5"/><use href="#r" x="783.5" y="628.5"/><use href="#r" x="783.5" y="624.5"/><use href="#r" x="784.5" y="624.5"/><use href="#r" x="785.5" y="625.5"/><use href="#r" x="785.5" y="632.5"/><use href="#r" x="786.5" y="636.5"/><use href="#r" x="786.5" y="632.5"/><use href="#r" x="787.5" y="636.5"/><use href="#r" x="788.5" y="631.5"/><use href="#r" x="788.5" y="633.5"/><use href="#r" x="789.5" y="625.5"/><use href="#r" x="789.5" y="627.5"/><use href="#r" x="790.5" y="632.5"/><use href="#r" x="791.5" y="629.5"/><use href="#r" x="791.5" y="624.5"/><use href="#r" x="792.5" y="645.5"/><use href="#r" x="792.5" y="640.5"/><use href="#r" x="793.5" y="635.5"/><use href="#r" x="794.5" y="639.5"/><use href="#r" x="794.5" y="632.5"/><use href="#r" x="795.5" y="636.5"/><use href="#r" x="796.5" y="637.5"/><use href="#r" x="796.5" y="636.5"/><use href="#r" x="797.5" y="633.5"/><use href="#r" x="797.5" y="632.5"/><use href="#r" x="798.5" y="627.5"/><use href="#r" x="799.5" y="637.5"/><use href="#r" x="799.5" y="628.5"/><use href="#r" x="800.5" y="639.5"/><use href="#r" x="800.5" y="636.5"/><use href="#r" x="801.5" y="639.5"/><use href="#r" x="802.5" y="636.5"/><use href="#r" x="802.5" y="631.5"/><use href="#r" x="803.5" y="631.5"/><use href="#r" x="803.5" y="643.5"/><use href="#r" x="804.5" y="636.5"/><use href="#r" x="805.5" y="635.5"/><use href="#r" x="805.5" y="648.5"/><use href="#r" x="806.5" y="637.5"/><use href="#r" x="806.5" y="635.5"/><use href="#r" x="807.5" y="628.5"/><use href="#r" x="808.5" y="632.5"/><use href="#r" x="808.5" y="636.5"/><use href="#r" x="809.5" y="631.5"/><use href="#r" x="809.5" y="643.5"/><use href="#r" x="810.5" y="636.5"/><use href="#r" x="811.5" y="643.5"/><use href="#r" x="811.5" y="629.5"/><use href="#r" x="812.5" y="653.5"/><use href="#r" x="812.5" y="643.5"/><use href="#r" x="813.5" y="637.5"/><use href="#r" x="814.5" y="642.5"/><use href="#r" x="814.5" y="633.5"/><use href="#r" x="815.5" y="642.5"/><use href="#r" x="816.5" y="643.5"/><use href="#r" x="816.5" y="640.5"/><use href="#r" x="817.5" y="639.5"/><use href="#r" x="817.5" y="640.5"/><use href="#r" x="818.5" y="640.5"/><use href="#r" x="819.5" y="643.5"/><use href="#r" x="819.5" y="643.5"/><use href="#r" x="820.5" y="645.5"/><use href="#r" x="820.5" y="640.5"/><use href="#r" x="821.5" y="635.5"/><use href="#r" x="822.5" y="635.5"/><use href="#r" x="822.5" y="643.5"/><use href="#r" x="823.5" y="643.5"/><use href="#r" x="823.5" y="642.5"/><use href="#r" x="824.5" y="640.5"/><use href="#r" x="825.5" y="645.5"/><use href="#r" x="825.5" y="643.5"/><use href="#r" x="826.5" y="637.5"/><use href="#r" x="826.5" y="648.5"/><use href="#r" x="827.5" y="633.5"/><use href="#r" x="828.5" y="642.5"/><use href="#r" x="828.5" y="652.5"/><use href="#r" x="829.5" y="648.5"/><use href="#r" x="829.5" y="653.5"/><use href="#r" x="830.5" y="653.5"/><use href="#r" x="831.5" y="633.5"/><use href="#r" x="831.5" y="645.5"/><use href="#r" x="832.5" y="643.5"/><use href="#r" x="833.5" y="645.5"/><use href="#r" x="833.5" y="647.5"/><use href="#r" x="834.5" y="640.5"/><use href="#r" x="834.5" y="647.5"/><use href="#r" x="835.5" y="637.5"/><use href="#r" x="836.5" y="650.5"/><use href="#r" x="836.5" y="635.5"/><use href="#r" x="837.5" y="639.5"/><use href="#r" x="837.5" y="639.5"/><use href="#r" x="838.5" y="643.5"/><use href="#r" x="839.5" y="645.5"/><use href="#r" x="839.5" y="640.5"/><use href="#r" x="840.5" y="655.5"/><use href="#r" x="840.5" y="653.5"/><use href="#r" x="841.5" y="642.5"/><use href="#r" x="842.5" y="655.5"/><use href="#r" x="842.5" y="636.5"/><use href="#r" x="843.5" y="657.5"/><use href="#r" x="843.5" y="642.5"/><use href="#r" x="844.5" y="643.5"/><use href="#r" x="845.5" y="642.5"/><use href="#r" x="845.5" y="645.5"/><use href="#r" x="846.5" y="639.5"/><use href="#r" x="846.5" y="647.5"/><use href="#r" x="847.5" y="650.5"/><use href="#r" x="848.5" y="642.5"/><use href="#r" x="848.5" y="648.5"/><use href="#r" x="849.5" y="659.5"/><use href="#r" x="849.5" y="648.5"/><use href="#r" x="850.5" y="655.5"/><use href="#r" x="851.5" y="652.5"/><use href="#r" x="851.5" y="645.5"/><use href="#r" x="852.5" y="640.5"/><use href="#r" x="853.5" y="642.5"/><use href="#r" x="853.5" y="647.5"/><use href="#r" x="854.5" y="650.5"/><use href="#r" x="854.5" y="647.5"/><use href="#r" x="855.5" y="645.5"/><use href="#r" x="856.5" y="652.5"/><use href="#r" x="856.5" y="648.5"/><use href="#r" x="857.5" y="650.5"/><use href="#r" x="857.5" y="648.5"/><use href="#r" x="858.5" y="659.5"/><use href="#r" x="859.5" y="645.5"/><use href="#r" x="859.5" y="653.5"/><use href="#r" x="860.5" y="652.5"/><use href="#r" x="860.5" y="647.5"/><use href="#r" x="861.5" y="652.5"/><use href="#r" x="862.5" y="653.5"/><use href="#r" x="862.5" y="659.5"/><use href="#r" x="863.5" y="645.5"/><use href="#r" x="863.5" y="652.5"/><use href="#r" x="864.5" y="652.5"/><use href="#r" x="865.5" y="653.5"/><use href="#r" x="865.5" y="653.5"/><use href="#r" x="866.5" y="648.5"/><use href="#r" x="866.5" y="648.5"/><use href="#r" x="867.5" y="647.5"/><use href="#r" x="868.5" y="655.5"/><use href="#r" x="868.5" y="647.5"/><use href="#r" x="869.5" y="652.5"/><use href="#r" x="870.5" y="653.5"/><use href="#r" x="870.5" y="647.5"/><use href="#r" x="871.5" y="655.5"/><use href="#r" x="871.5" y="657.5"/><use href="#r" x="872.5" y="659.5"/><use href="#r" x="873.5" y="648.5"/><use href="#r" x="873.5" y="647.5"/><use href="#r" x="874.5" y="652.5"/><use href="#r" x="874.5" y="657.5"/><use href="#r" x="875.5" y="648.5"/><use href="#r" x="876.5" y="640.5"/><use href="#r" x="876.5" y="647.5"/><use href="#r" x="877.5" y="650.5"/></g><g fill="#00ff00"><use href="#g" x="173.5" y="725.5"/><use href="#g" x="174.5" y="725.5"/><use href="#g" x="174.5" y="713.5"/><use href="#g" x="175.5" y="713.5"/><use href="#g" x="176.5" y="733.5"/><use href="#g" x="176.5" y="685.5"/><use href="#g" x="177.5" y="683.5"/><use href="#g" x="177.5" y="683.5"/><use href="#g" x="178.5" y="722.5"/><use href="#g" x="179.5" y="691.5"/><use href="#g" x="179.5" y="722.5"/><use href="#g" x="180.5" y="717.5"/><use href="#g" x="180.5" y="700.5"/><use href="#g" x="181.5" y="706.5"/><use href="#g" x="182.5" y="696.5"/><use href="#g" x="182.5" y="725.5"/><use href="#g" x="183.5" y="708.5"/><use href="#g" x="183.5" y="704.5"/><use href="#g" x="184.5" y="706.5"/><use href="#g" x="185.5" y="710.5"/><use href="#g" x="185.5" y="700.5"/><use href="#g" x="186.5" y="722.5"/><use href="#g" x="186.5" y="710.5"/><use href="#g" x="187.5" y="710.5"/><use href="#g" x="188.5" y="700.5"/><use href="#g" x="188.5" y="693.5"/><use href="#g" x="189.5" y="691.5"/><use href="#g" x="189.5" y="698.5"/><use href="#g" x="190.5" y="802.5"/><use href="#g" x="191.5" y="700.5"/><use href="#g" x="191.5" y="733.5"/><use href="#g" x="192.5" y="713.5"/><use href="#g" x="193.5" y="727.5"/><use href="#g" x="193.5" y="702.5"/><use href="#g" x="194.5" y="708.5"/><use href="#g" x="194.5" y="702.5"/><use href="#g" x="195.5" y="725.5"/><use href="#g" x="196.5" y="702.5"/><use href="#g" x="196.5" y="725.5"/><use href="#g" x="197.5" y="706.5"/><use href="#g" x="197.5" y="710.5"/><use href="#g" x="198.5" y="710.5"/><use href="#g" x="199.5" y="720.5"/><use href="#g" x="199.5" y="706.5"/><use href="#g" x="200.5" y="720.5"/><use href="#g" x="200.5" y="706.5"/><use href="#g" x="201.5" y="706.5"/><use href="#g" x="202.5" y="710.5"/><use href="#g" x="202.5" y="722.5"/><use href="#g" x="203.5" y="704.5"/><use href="#g" x="203.5" y="704.5"/><use href="#g" x="204.5" y="722.5"/><use href="#g" x="205.5" y="702.5"/><use href="#g" x="205.5" y="695.5"/><use href="#g" x="206.5" y="733.5"/><use href="#g" x="206.5" y="710.5"/><use href="#g" x="207.5" y="725.5"/><use href="#g" x="208.5" y="730.5"/><use href="#g" x="208.5" y="720.5"/><use href="#g" x="209.5" y="698.5"/><use href="#g" x="210.5" y="686.5"/><use href="#g" x="210.5" y="706.5"/><use href="#g" x="211.5" y="710.5"/><use href="#g" x="211.5" y="688.5"/><use href="#g" x="212.5" y="702.5"/><use href="#g" x="213.5" y="710.5"/><use href="#g" x="213.5" y="698.5"/><use href="#g" x="214.5" y="706.5"/><use href="#g" x="214.5" y="708.5"/><use href="#g" x="215.5" y="688.5"/><use href="#g" x="216.5" y="706.5"/><use href="#g" x="216.5" y="715.5"/><use href="#g" x="217.5" y="704.5"/><use href="#g" x="217.5" y="713.5"/><use href="#g" x="218.5" y="715.5"/><use href="#g" x="219.5" y="704.5"/><use href="#g" x="219.5" y="700.5"/><use href="#g" x="220.5" y="702.5"/><use href="#g" x="220.5" y="713.5"/><use href="#g" x="221.5" y="685.5"/><use href="#g" x="222.5" y="710.5"/><use href="#g" x="222.5" y="708.5"/><use href="#g" x="223.5" y="713.5"/><use href="#g" x="223.5" y="727.5"/><use href="#g" x="224.5" y="725.5"/><use href="#g" x="225.5" y="702.5"/><use href="#g" x="225.5" y="667.5"/><use href="#g" x="226.5" y="718.5"/><use href="#g" x="226.5" y="677.5"/><use href="#g" x="227.5" y="672.5"/><use href="#g" x="228.5" y="644.5"/><use href="#g" x="228.5" y="621.5"/><use href="#g" x="229.5" y="615.5"/><use href="#g" x="230.5" y="580.5"/><use href="#g" x="230.5" y="558.5"/><use href="#g" x="231.5" y="542.5"/><use href="#g" x="231.5" y="508.5"/><use href="#g" x="232.5" y="482.5"/><use href="#g" x="233.5" y="448.5"/><use href="#g" x="233.5" y="425.5"/><use href="#g" x="234.5" y="402.5"/><use href="#g" x="234.5" y="380.5"/><use href="#g" x="235.5" y="355.5"/><use href="#g" x="236.5" y="337.5"/><use href="#g" x="236.5" y="317.5"/><use href="#g" x="237.5" y="297.5"/><use href="#g" x="237.5" y="277.5"/><use href="#g" x="238.5" y="258.5"/><use href="#g" x="239.5" y="242.5"/><use href="#g" x="239.5" y="227.5"/><use href="#g" x="240.5" y="212.5"/><use href="#g" x="240.5" y="199.5"/><use href="#g" x="241.5" y="184.5"/><use href="#g" x="242.5" y="172.5"/><use href="#g" x="242.5" y="160.5"/><use href="#g" x="243.5" y="150.5"/><use href="#g" x="243.5" y="140.5"/><use href="#g" x="244.5" y="132.5"/><use href="#g" x="245.5" y="124.5"/><use href="#g" x="245.5" y="116.5"/><use href="#g" x="246.5" y="111.5"/><use href="#g" x="247.5" y="106.5"/><use href="#g" x="247.5" y="101.5"/><use href="#g" x="248.5" y="97.5"/><use href="#g" x="248.5" y="94.5"/><use href="#g" x="249.5" y="92.5"/><use href="#g" x="250.5" y="91.5"/><use href="#g" x="250.5" y="90.5"/><use href="#g" x="251.5" y="90.5"/><use href="#g" x="251.5" y="90.5"/><use href="#g" x="252.5" y="90.5"/><use href="#g" x="253.5" y="91.5"/><use href="#g" x="253.5" y="92.5"/><use href="#g" x="254.5" y="94.5"/><use href="#g" x="254.5" y="96.5"/><use href="#g" x="255.5" y="98.5"/><use href="#g" x="256.5" y="100.5"/><use href="#g" x="256.5" y="103.5"/><use href="#g" x="257.5" y="105.5"/><use href="#g" x="257.5" y="108.5"/><use href="#g" x="258.5" y="111.5"/><use href="#g" x="259.5" y="113.5"/><use href="#g" x="259.5" y="116.5"/><use href="#g" x="260.5" y="118.5"/><use href="#g" x="260.5" y="121.5"/><use href="#g" x="261.5" y="122.5"/><use href="#g" x="262.5" y="123.5"/><use href="#g" x="262.5" y="126.5"/><use href="#g" x="263.5" y="127.5"/><use href="#g" x="263.5" y="129.5"/><use href="#g" x="264.5" y="130.5"/><use href="#g" x="265.5" y="132.5"/><use href="#g" x="265.5" y="133.5"/><use href="#g" x="266.5" y="135.5"/><use href="#g" x="267.5" y="136.5"/><use href="#g" x="267.5" y="138.5"/><use href="#g" x="268.5" y="140.5"/><use href="#g" x="268.5" y="141.5"/><use href="#g" x="269.5" y="143.5"/><use href="#g" x="270.5" y="145.5"/><use href="#g" x="270.5" y="147.5"/><use href="#g" x="271.5" y="149.5"/><use href="#g" x="271.5" y="151.5"/><use href="#g" x="272.5" y="152.5"/><use href="#g" x="273.5" y="153.5"/><use href="#g" x="273.5" y="156.5"/><use href="#g" x="274.5" y="157.5"/><use href="#g" x="274.5" y="158.5"/><use href="#g" x="275.5" y="160.5"/><use href="#g" x="276.5" y="161.5"/><use href="#g" x="276.5" y="163.5"/><use href="#g" x="277.5" y="165.5"/><use href="#g" x="277.5" y="167.5"/><use href="#g" x="278.5" y="168.5"/><use href="#g" x="279.5" y="169.5"/><use href="#g" x="279.5" y="172.5"/><use href="#g" x="280.5" y="173.5"/><use href="#g" x="280.5" y="173.5"/><use href="#g" x="281.5" y="175.5"/><use href="#g" x="282.5" y="178.5"/><use href="#g" x="282.5" y="179.5"/><use href="#g" x="283.5" y="179.5"/><use href="#g" x="284.5" y="181.5"/><use href="#g" x="284.5" y="182.5"/><use href="#g" x="285.5" y="184.5"/><use href="#g" x="285.5" y="186.5"/><use href="#g" x="286.5" y="188.5"/><use href="#g" x="287.5" y="189.5"/><use href="#g" x="287.5" y="189.5"/><use href="#g" x="288.5" y="191.5"/><use href="#g" x="288.5" y="192.5"/><use href="#g" x="289.5" y="193.5"/><use href="#g" x="290.5" y="195.5"/><use href="#g" x="290.5" y="196.5"/><use href="#g" x="291.5" y="197.5"/><use href="#g" x="291.5" y="198.5"/><use href="#g" x="292.5" y="200.5"/><use href="#g" x="293.5" y="200.5"/><use href="#g" x="293.5" y="202.5"/><use href="#g" x="294.5" y="203.5"/><use href="#g" x="294.5" y="205.5"/><use href="#g" x="295.5" y="206.5"/><use href="#g" x="296.5" y="207.5"/><use href="#g" x="296.5" y="207.5"/><use href="#g" x="297.5" y="210.5"/><use href="#g" x="297.5" y="210.5"/><use href="#g" x="298.5" y="211.5"/><use href="#g" x="299.5" y="211.5"/><use href="#g" x="299.5" y="213.5"/><use href="#g" x="300.5" y="214.5"/><use href="#g" x="300.5" y="215.5"/><use href="#g" x="301.5" y="215.5"/><use href="#g" x="302.5" y="216.5"/><use href="#g" x="302.5" y="220.5"/><use href="#g" x="303.5" y="220.5"/><use href="#g" x="304.5" y="222.5"/><use href="#g" x="304.5" y="221.5"/><use href="#g" x="305.5" y="224.5"/><use href="#g" x="305.5" y="223.5"/><use href="#g" x="306.5" y="223.5"/><use href="#g" x="307.5" y="225.5"/><use href="#g" x="307.5" y="228.5"/><use href="#g" x="308.5" y="227.5"/><use href="#g" x="308.5" y="229.5"/><use href="#g" x="309.5" y="231.5"/><use href="#g" x="310.5" y="231.5"/><use href="#g" x="310.5" y="232.5"/><use href="#g" x="311.5" y="232.5"/><use href="#g" x="311.5" y="234.5"/><use href="#g" x="312.5" y="236.5"/><use href="#g" x="313.5" y="235.5"/><use href="#g" x="313.5" y="239.5"/><use href="#g" x="314.5" y="238.5"/><use href="#g" x="314.5" y="237.5"/><use href="#g" x="315.5" y="241.5"/><use href="#g" x="316.5" y="240.5"/><use href="#g" x="316.5" y="243.5"/><use href="#g" x="317.5" y="241.5"/><use href="#g" x="317.5" y="243.5"/><use href="#g" x="318.5" y="245.5"/><use href="#g" x="319.5" y="244.5"/><use href="#g" x="319.5" y="247.5"/><use href="#g" x="320.5" y="248.5"/><use href="#g" x="321.5" y="248.5"/><use href="#g" x="321.5" y="250.5"/><use href="#g" x="322.5" y="250.5"/><use href="#g" x="322.5" y="253.5"/><use href="#g" x="323.5" y="252.5"/><use href="#g" x="324.5" y="253.5"/><use href="#g" x="324.5" y="254.5"/><use href="#g" x="325.5" y="255.5"/><use href="#g" x="325.5" y="257.5"/><use href="#g" x="326.5" y="256.5"/><use href="#g" x="327.5" y="258.5"/><use href="#g" x="327.5" y="258.5"/><use href="#g" x="328.5" y="260.5"/><use href="#g" x="328.5" y="259.5"/><use href="#g" x="329.5" y="262.5"/><use href="#g" x="330.5" y="261.5"/><use href="#g" x="330.5" y="262.5"/><use href="#g" x="331.5" y="263.5"/><use href="#g" x="331.5" y="267.5"/><use href="#g" x="332.5" y="267.5"/><use href="#g" x="333.5" y="267.5"/><use href="#g" x="333.5" y="267.5"/><use href="#g" x="334.5" y="266.5"/><use href="#g" x="334.5" y="268.5"/><use href="#g" x="335.5" y="269.5"/><use href="#g" x="336.5" y="270.5"/><use href="#g" x="336.5" y="272.5"/><use href="#g" x="337.5" y="271.5"/><use href="#g" x="338.5" y="274.5"/><use href="#g" x="338.5" y="272.5"/><use href="#g" x="339.5" y="276.5"/><use href="#g" x="339.5" y="278.5"/><use href="#g" x="340.5" y="276.5"/><use href="#g" x="341.5" y="279.5"/><use href="#g" x="341.5" y="280.5"/><use href="#g" x="342.5" y="279.5"/><use href="#g" x="342.5" y="280.5"/><use href="#g" x="343.5" y="280.5"/><use href="#g" x="344.5" y="283.5"/><use href="#g" x="344.5" y="285.5"/><use href="#g" x="345.5" y="283.5"/><use href="#g" x="345.5" y="282.5"/><use href="#g" x="346.5" y="286.5"/><use href="#g" x="347.5" y="288.5"/><use href="#g" x="347.5" y="286.5"/><use href="#g" x="348.5" y="287.5"/><use href="#g" x="348.5" y="288.5"/><use href="#g" x="349.5" y="288.5"/><use href="#g" x="350.5" y="290.5"/><use href="#g" x="350.5" y="292.5"/><use href="#g" x="351.5" y="290.5"/><use href="#g" x="351.5" y="290.5"/><use href="#g" x="352.5" y="293.5"/><use href="#g" x="353.5" y="294.5"/><use href="#g" x="353.5" y="293.5"/><use href="#g" x="354.5" y="293.5"/><use href="#g" x="354.5" y="299.5"/><use href="#g" x="355.5" y="296.5"/><use href="#g" x="356.5" y="299.5"/><use href="#g" x="356.5" y="298.5"/><use href="#g" x="357.5" y="301.5"/><use href="#g" x="358.5" y="300.5"/><use href="#g" x="358.5" y="299.5"/><use href="#g" x="359.5" y="303.5"/><use href="#g" x="359.5" y="303.5"/><use href="#g" x="360.5" y="305.5"/><use href="#g" x="361.5" y="304.5"/><use href="#g" x="361.5" y="305.5"/><use href="#g" x="362.5" y="304.5"/><use href="#g" x="362.5" y="307.5"/><use href="#g" x="363.5" y="306.5"/><use href="#g" x="364.5" y="309.5"/><use href="#g" x="364.5" y="310.5"/><use href="#g" x="365.5" y="308.5"/><use href="#g" x="365.5" y="312.5"/><use href="#g" x="366.5" y="312.5"/><use href="#g" x="367.5" y="310.5"/><use href="#g" x="367.5" y="316.5"/><use href="#g" x="368.5" y="313.5"/><use href="#g" x="368.5" y="314.5"/><use href="#g" x="369.5" y="312.5"/><use href="#g" x="370.5" y="316.5"/><use href="#g" x="370.5" y="318.5"/><use href="#g" x="371.5" y="318.5"/><use href="#g" x="371.5" y="319.5"/><use href="#g" x="372.5" y="319.5"/><use href="#g" x="373.5" y="321.5"/><use href="#g" x="373.5" y="322.5"/><use href="#g" x="374.5" y="321.5"/><use href="#g" x="375.5" y="319.5"/><use href="#g" x="375.5" y="324.5"/><use href="#g" x="376.5" y="326.5"/><use href="#g" x="376.5" y="326.5"/><use href="#g" x="377.5" y="325.5"/><use href="#g" x="378.5" y="324.5"/><use href="#g" x="378.5" y="329.5"/><use href="#g" x="379.5" y="328.5"/><use href="#g" x="379.5" y="328.5"/><use href="#g" x="380.5" y="330.5"/><use href="#g" x="381.5" y="332.5"/><use href="#g" x="381.5" y="332.5"/><use href="#g" x="382.5" y="331.5"/><use href="#g" x="382.5" y="332.5"/><use href="#g" x="383.5" y="334.5"/><use href="#g" x="384.5" y="335.5"/><use href="#g" x="384.5" y="334.5"/><use href="#g" x="385.5" y="337.5"/><use href="#g" x="385.5" y="338.5"/><use href="#g" x="386.5" y="335.5"/><use href="#g" x="387.5" y="336.5"/><use href="#g" x="387.5" y="336.5"/><use href="#g" x="388.5" y="339.5"/><use href="#g" x="388.5" y="341.5"/><use href="#g" x="389.5" y="336.5"/><use href="#g" x="390.5" y="339.5"/><use href="#g" x="390.5" y="339.5"/><use href="#g" x="391.5" y="346.5"/><use href="#g" x="391.5" y="343.5"/><use href="#g" x="392.5" y="343.5"/><use href="#g" x="393.5" y="345.5"/><use href="#g" x="393.5" y="345.5"/><use href="#g" x="394.5" y="345.5"/><use href="#g" x="395.5" y="345.5"/><use href="#g" x="395.5" y="346.5"/><use href="#g" x="396.5" y="345.5"/><use href="#g" x="396.5" y="348.5"/><use href="#g" x="397.5" y="349.5"/><use href="#g" x="398.5" y="349.5"/><use href="#g" x="398.5" y="349.5"/><use href="#g" x="399.5" y="354.5"/><use href="#g" x="399.5" y="352.5"/><use href="#g" x="400.5" y="357.5"/><use href="#g" x="401.5" y="349.5"/><use href="#g" x="401.5" y="354.5"/><use href="#g" x="402.5" y="354.5"/><use href="#g" x="402.5" y="357.5"/><use href="#g" x="403.5" y="358.5"/><use href="#g" x="404.5" y="357.5"/><use href="#g" x="404.5" y="357.5"/><use href="#g" x="405.5" y="358.5"/><use href="#g" x="405.5" y="358.5"/><use href="#g" x="406.5" y="358.5"/><use href="#g" x="407.5" y="362.5"/><use href="#g" x="407.5" y="362.5"/><use href="#g" x="408.5" y="362.5"/><use href="#g" x="408.5" y="361.5"/><use href="#g" x="409.5" y="362.5"/><use href="#g" x="410.5" y="365.5"/><use href="#g" x="410.5" y="362.5"/><use href="#g" x="411.5" y="363.5"/><use href="#g" x="412.5" y="364.5"/><use href="#g" x="412.5" y="367.5"/><use href="#g" x="413.5" y="370.5"/><use href="#g" x="413.5" y="369.5"/><use href="#g" x="414.5" y="368.5"/><use href="#g" x="415.5" y="371.5"/><use href="#g" x="415.5" y="371.5"/><use href="#g" x="416.5" y="375.5"/><use href="#g" x="416.5" y="372.5"/><use href="#g" x="417.5" y="373.5"/><use href="#g" x="418.5" y="372.5"/><use href="#g" x="418.5" y="375.5"/><use href="#g" x="419.5" y="375.5"/><use href="#g" x="419.5" y="373.5"/><use href="#g" x="420.5" y="375.5"/><use href="#g" x="421.5" y="374.5"/><use href="#g" x="421.5" y="377.5"/><use href="#g" x="422.5" y="379.5"/><use href="#g" x="422.5" y="382.5"/><use href="#g" x="423.5" y="382.5"/><use href="#g" x="424.5" y="379.5"/><use href="#g" x="424.5" y="381.5"/><use href="#g" x="425.5" y="380.5"/><use href="#g" x="425.5" y="385.5"/><use href="#g" x="426.5" y="380.5"/><use href="#g" x="427.5" y="382.5"/><use href="#g" x="427.5" y="386.5"/><use href="#g" x="428.5" y="383.5"/><use href="#g" x="428.5" y="385.5"/><use href="#g" x="429.5" y="384.5"/><use href="#g" x="430.5" y="392.5"/><use href="#g" x="430.5" y="388.5"/><use href="#g" x="431.5" y="390.5"/><use href="#g" x="432.5" y="386.5"/><use href="#g" x="432.5" y="392.5"/><use href="#g" x="433.5" y="393.5"/><use href="#g" x="433.5" y="388.5"/><use href="#g" x="434.5" y="390.5"/><use href="#g" x="435.5" y="394.5"/><use href="#g" x="435.5" y="392.5"/><use href="#g" x="436.5" y="393.5"/><use href="#g" x="436.5" y="398.5"/><use href="#g" x="437.5" y="400.5"/><use href="#g" x="438.5" y="398.5"/><use href="#g" x="438.5" y="401.5"/><use href="#g" x="439.5" y="398.5"/><use href="#g" x="439.5" y="398.5"/><use href="#g" x="440.5" y="397.5"/><use href="#g" x="441.5" y="400.5"/><use href="#g" x="441.5" y="397.5"/><use href="#g" x="442.5" y="401.5"/><use href="#g" x="442.5" y="400.5"/><use href="#g" x="443.5" y="401.5"/><use href="#g" x="444.5" y="408.5"/><use href="#g" x="444.5" y="405.5"/><use href="#g" x="445.5" y="407.5"/><use href="#g" x="445.5" y="405.5"/><use href="#g" x="446.5" y="404.5"/><use href="#g" x="447.5" y="407.5"/><use href="#g" x="447.5" y="410.5"/><use href="#g" x="448.5" y="409.5"/><use href="#g" x="449.5" y="404.5"/><use href="#g" x="449.5" y="404.5"/><use href="#g" x="450.5" y="405.5"/><use href="#g" x="450.5" y="409.5"/><use href="#g" x="451.5" y="415.5"/><use href="#g" x="452.5" y="415.5"/><use href="#g" x="452.5" y="413.5"/><use href="#g" x="453.5" y="420.5"/><use href="#g" x="453.5" y="415.5"/><use href="#g" x="454.5" y="414.5"/><use href="#g" x="455.5" y="409.5"/><use href="#g" x="455.5" y="417.5"/><use href="#g" x="456.5" y="418.5"/><use href="#g" x="456.5" y="417.5"/><use href="#g" x="457.5" y="411.5"/><use href="#g" x="458.5" y="417.5"/><use href="#g" x="458.5" y="414.5"/><use href="#g" x="459.5" y="416.5"/><use href="#g" x="459.5" y="422.5"/><use href="#g" x="460.5" y="414.5"/><use href="#g" x="461.5" y="418.5"/><use href="#g" x="461.5" y="419.5"/><use href="#g" x="462.5" y="423.5"/><use href="#g" x="462.5" y="420.5"/><use href="#g" x="463.5" y="421.5"/><use href="#g" x="464.5" y="423.5"/><use href="#g" x="464.5" y="425.5"/><use href="#g" x="465.5" y="424.5"/><use href="#g" x="465.5" y="426.5"/><use href="#g" x="466.5" y="428.5"/><use href="#g" x="467.5" y="431.5"/><use href="#g" x="467.5" y="428.5"/><use href="#g" x="468.5" y="428.5"/><use href="#g" x="469.5" y="434.5"/><use href="#g" x="469.5" y="425.5"/><use href="#g" x="470.5" y="425.5"/><use href="#g" x="470.5" y="426.5"/><use href="#g" x="471.5" y="430.5"/><use href="#g" x="472.5" y="431.5"/><use href="#g" x="472.5" y="431.5"/><use href="#g" x="473.5" y="432.5"/><use href="#g" x="473.5" y="437.5"/><use href="#g" x="474.5" y="432.5"/><use href="#g" x="475.5" y="430.5"/><use href="#g" x="475.5" y="441.5"/><use href="#g" x="476.5" y="435.5"/><use href="#g" x="476.5" y="435.5"/><use href="#g" x="477.5" y="442.5"/><use href="#g" x="478.5" y="445.5"/><use href="#g" x="478.5" y="435.5"/><use href="#g" x="479.5" y="442.5"/><use href="#g" x="479.5" y="435.5"/><use href="#g" x="480.5" y="440.5"/><use href="#g" x="481.5" y="441.5"/><use href="#g" x="481.5" y="443.5"/><use href="#g" x="482.5" y="441.5"/><use href="#g" x="482.5" y="440.5"/><use href="#g" x="483.5" y="442.5"/><use href="#g" x="484.5" y="441.5"/><use href="#g" x="484.5" y="441.5"/><use href="#g" x="485.5" y="445.5"/><use href="#g" x="486.5" y="447.5"/><use href="#g" x="486.5" y="452.5"/><use href="#g" x="487.5" y="444.5"/><use href="#g" x="487.5" y="448.5"/><use href="#g" x="488.5" y="448.5"/><use href="#g" x="489.5" y="444.5"/><use href="#g" x="489.5" y="449.5"/><use href="#g" x="490.5" y="451.5"/><use href="#g" x="490.5" y="450.5"/><use href="#g" x="491.5" y="445.5"/><use href="#g" x="492.5" y="447.5"/><use href="#g" x="492.5" y="452.5"/><use href="#g" x="493.5" y="450.5"/><use href="#g" x="493.5" y="454.5"/><use href="#g" x="494.5" y="448.5"/><use href="#g" x="495.5" y="455.5"/><use href="#g" x="495.5" y="458.5"/><use href="#g" x="496.5" y="459.5"/><use href="#g" x="496.5" y="457.5"/><use href="#g" x="497.5" y="452.5"/><use href="#g" x="498.5" y="454.5"/><use href="#g" x="498.5" y="459.5"/><use href="#g" x="499.5" y="455.5"/><use href="#g" x="499.5" y="464.5"/><use href="#g" x="500.5" y="462.5"/><use href="#g" x="501.5" y="468.5"/><use href="#g" x="501.5" y="457.5"/><use href="#g" x="502.5" y="454.5"/><use href="#g" x="503.5" y="458.5"/><use href="#g" x="503.5" y="460.5"/><use href="#g" x="504.5" y="464.5"/><use href="#g" x="504.5" y="463.5"/><use href="#g" x="505.5" y="461.5"/><use href="#g" x="506.5" y="462.5"/><use href="#g" x="506.5" y="467.5"/><use href="#g" x="507.5" y="471.5"/><use href="#g" x="507.5" y="468.5"/><use href="#g" x="508.5" y="467.5"/><use href="#g" x="509.5" y="468.5"/><use href="#g" x="509.5" y="473.5"/><use href="#g" x="510.5" y="471.5"/><use href="#g" x="510.5" y="469.5"/><use href="#g" x="511.5" y="467.5"/><use href="#g" x="512.5" y="469.5"/><use href="#g" x="512.5" y="471.5"/><use href="#g" x="513.5" y="469.5"/><use href="#g" x="513.5" y="480.5"/><use href="#g" x="514.5" y="473.5"/><use href="#g" x="515.5" y="472.5"/><use href="#g" x="515.5" y="475.5"/><use href="#g" x="516.5" y="475.5"/><use href="#g" x="516.5" y="472.5"/><use href="#g" x="517.5" y="475.5"/><use href="#g" x="518.5" y="481.5"/><use href="#g" x="518.5" y="482.5"/><use href="#g" x="519.5" y="476.5"/><use href="#g" x="519.5" y="487.5"/><use href="#g" x="520.5" y="477.5"/><use href="#g" x="521.5" y="483.5"/><use href="#g" x="521.5" y="479.5"/><use href="#g" x="522.5" y="481.5"/><use href="#g" x="523.5" y="482.5"/><use href="#g" x="523.5" y="479.5"/><use href="#g" x="524.5" y="482.5"/><use href="#g" x="524.5" y="475.5"/><use href="#g" x="525.5" y="477.5"/><use href="#g" x="526.5" y="481.5"/><use href="#g" x="526.5" y="489.5"/><use href="#g" x="527.5" y="483.5"/><use href="#g" x="527.5" y="483.5"/><use href="#g" x="528.5" y="486.5"/><use href="#g" x="529.5" y="486.5"/><use href="#g" x="529.5" y="493.5"/><use href="#g" x="530.5" y="487.5"/><use href="#g" x="530.5" y="484.5"/><use href="#g" x="531.5" y="487.5"/><use href="#g" x="532.5" y="487.5"/><use href="#g" x="532.5" y="487.5"/><use href="#g" x="533.5" y="497.5"/><use href="#g" x="533.5" y="493.5"/><use href="#g" x="534.5" y="493.5"/><use href="#g" x="535.5" y="493.5"/><use href="#g" x="535.5" y="495.5"/><use href="#g" x="536.5" y="497.5"/><use href="#g" x="536.5" y="486.5"/><use href="#g" x="537.5" y="495.5"/><use href="#g" x="538.5" y="492.5"/><use href="#g" x="538.5" y="494.5"/><use href="#g" x="539.5" y="495.5"/><use href="#g" x="540.5" y="499.5"/><use href="#g" x="540.5" y="499.5"/><use href="#g" x="541.5" y="502.5"/><use href="#g" x="541.5" y="491.5"/><use href="#g" x="542.5" y="498.5"/><use href="#g" x="543.5" y="513.5"/><use href="#g" x="543.5" y="499.5"/><use href="#g" x="544.5" y="503.5"/><use href="#g" x="544.5" y="497.5"/><use href="#g" x="545.5" y="509.5"/><use href="#g" x="546.5" y="500.5"/><use href="#g" x="546.5" y="496.5"/><use href="#g" x="547.5" y="497.5"/><use href="#g" x="547.5" y="502.5"/><use href="#g" x="548.5" y="511.5"/><use href="#g" x="549.5" y="507.5"/><use href="#g" x="549.5" y="493.5"/><use href="#g" x="550.5" y="501.5"/><use href="#g" x="550.5" y="503.5"/><use href="#g" x="551.5" y="503.5"/><use href="#g" x="552.5" y="509.5"/><use href="#g" x="552.5" y="511.5"/><use href="#g" x="553.5" y="507.5"/><use href="#g" x="553.5" y="508.5"/><use href="#g" x="554.5" y="505.5"/><use href="#g" x="555.5" y="507.5"/><use href="#g" x="555.5" y="502.5"/><use href="#g" x="556.5" y="506.5"/><use href="#g" x="556.5" y="516.5"/><use href="#g" x="557.5" y="516.5"/><use href="#g" x="558.5" y="515.5"/><use href="#g" x="558.5" y="515.5"/><use href="#g" x="559.5" y="511.5"/><use href="#g" x="560.5" y="504.5"/><use href="#g" x="560.5" y="513.5"/><use href="#g" x="561.5" y="513.5"/><use href="#g" x="561.5" y="521.5"/><use href="#g" x="562.5" y="520.5"/><use href="#g" x="563.5" y="519.5"/><use href="#g" x="563.5" y="519.5"/><use href="#g" x="564.5" y="517.5"/><use href="#g" x="564.5" y="510.5"/><use href="#g" x="565.5" y="523.5"/><use href="#g" x="566.5" y="520.5"/><use href="#g" x="566.5" y="521.5"/><use href="#g" x="567.5" y="527.5"/><use href="#g" x="567.5" y="533.5"/><use href="#g" x="568.5" y="520.5"/><use href="#g" x="569.5" y="525.5"/><use href="#g" x="569.5" y="524.5"/><use href="#g" x="570.5" y="515.5"/><use href="#g" x="570.5" y="517.5"/><use href="#g" x="571.5" y="526.5"/><use href="#g" x="572.5" y="514.5"/><use href="#g" x="572.5" y="517.5"/><use href="#g" x="573.5" y="536.5"/><use href="#g" x="573.5" y="530.5"/><use href="#g" x="574.5" y="538.5"/><use href="#g" x="575.5" y="526.5"/><use href="#g" x="575.5" y="525.5"/><use href="#g" x="576.5" y="534.5"/><use href="#g" x="577.5" y="533.5"/><use href="#g" x="577.5" y="537.5"/><use href="#g" x="578.5" y="533.5"/><use href="#g" x="578.5" y="522.5"/><use href="#g" x="579.5" y="530.5"/><use href="#g" x="580.5" y="536.5"/><use href="#g" x="580.5" y="524.5"/><use href="#g" x="581.5" y="535.5"/><use href="#g" x="581.5" y="535.5"/><use href="#g" x="582.5" y="528.5"/><use href="#g" x="583.5" y="533.5"/><use href="#g" x="583.5" y="532.5"/><use href="#g" x="584.5" y="534.5"/><use href="#g" x="584.5" y="550.5"/><use href="#g" x="585.5" y="529.5"/><use href="#g" x="586.5" y="538.5"/><use href="#g" x="586.5" y="538.5"/><use href="#g" x="587.5" y="535.5"/><use href="#g" x="587.5" y="536.5"/><use href="#g" x="588.5" y="545.5"/><use href="#g" x="589.5" y="535.5"/><use href="#g" x="589.5" y="537.5"/><use href="#g" x="590.5" y="535.5"/><use href="#g" x="590.5" y="544.5"/><use href="#g" x="591.5" y="543.5"/><use href="#g" x="592.5" y="534.5"/><use href="#g" x="592.5" y="546.5"/><use href="#g" x="593.5" y="542.5"/><use href="#g" x="593.5" y="542.5"/><use href="#g" x="594.5" y="539.5"/><use href="#g" x="595.5" y="545.5"/><use href="#g" x="595.5" y="536.5"/><use href="#g" x="596.5" y="537.5"/><use href="#g" x="597.5" y="549.5"/><use href="#g" x="597.5" y="546.5"/><use href="#g" x="598.5" y="546.5"/><use href="#g" x="598.5" y="539.5"/><use href="#g" x="599.5" y="550.5"/><use href="#g" x="600.5" y="545.5"/><use href="#g" x="600.5" y="540.5"/><use href="#g" x="601.5" y="550.5"/><use href="#g" x="601.5" y="556.5"/><use href="#g" x="602.5" y="555.5"/><use href="#g" x="603.5" y="546.5"/><use href="#g" x="603.5" y="567.5"/><use href="#g" x="604.5" y="562.5"/><use href="#g" x="604.5" y="550.5"/><use href="#g" x="605.5" y="562.5"/><use href="#g" x="606.5" y="556.5"/><use href="#g" x="606.5" y="572.5"/><use href="#g" x="607.5" y="577.5"/><use href="#g" x="607.5" y="563.5"/><use href="#g" x="608.5" y="551.5"/><use href="#g" x="609.5" y="555.5"/><use href="#g" x="609.5" y="549.5"/><use href="#g" x="610.5" y="553.5"/><use href="#g" x="610.5" y="556.5"/><use href="#g" x="611.5" y="559.5"/><use href="#g" x="612.5" y="562.5"/><use href="#g" x="612.5" y="556.5"/><use href="#g" x="613.5" y="559.5"/><use href="#g" x="614.5" y="561.5"/><use href="#g" x="614.5" y="557.5"/><use href="#g" x="615.5" y="561.5"/><use href="#g" x="615.5" y="556.5"/><use href="#g" x="616.5" y="571.5"/><use href="#g" x="617.5" y="564.5"/><use href="#g" x="617.5" y="566.5"/><use href="#g" x="618.5" y="553.5"/><use href="#g" x="618.5" y="560.5"/><use href="#g" x="619.5" y="560.5"/><use href="#g" x="620.5" y="542.5"/><use href="#g" x="620.5" y="551.5"/><use href="#g" x="621.5" y="559.5"/><use href="#g" x="621.5" y="561.5"/><use href="#g" x="622.5" y="567.5"/><use href="#g" x="623.5" y="589.5"/><use href="#g" x="623.5" y="593.5"/><use href="#g" x="624.5" y="564.5"/><use href="#g" x="624.5" y="558.5"/><use href="#g" x="625.5" y="568.5"/><use href="#g" x="626.5" y="567.5"/><use href="#g" x="626.5" y="614.5"/><use href="#g" x="627.5" y="579.5"/><use href="#g" x="627.5" y="567.5"/><use href="#g" x="628.5" y="575.5"/><use href="#g" x="629.5" y="565.5"/><use href="#g" x="629.5" y="556.5"/><use href="#g" x="630.5" y="575.5"/><use href="#g" x="631.5" y="568.5"/><use href="#g" x="631.5" y="575.5"/><use href="#g" x="632.5" y="568.5"/><use href="#g" x="632.5" y="580.5"/><use href="#g" x="633.5" y="567.5"/><use href="#g" x="634.5" y="580.5"/><use href="#g" x="634.5" y="574.5"/><use href="#g" x="635.5" y="574.5"/><use href="#g" x="635.5" y="565.5"/><use href="#g" x="636.5" y="567.5"/><use href="#g" x="637.5" y="570.5"/><use href="#g" x="637.5" y="578.5"/><use href="#g" x="638.5" y="583.5"/><use href="#g" x="638.5" y="573.5"/><use href="#g" x="639.5" y="583.5"/><use href="#g" x="640.5" y="569.5"/><use href="#g" x="640.5" y="590.5"/><use href="#g" x="641.5" y="582.5"/><use href="#g" x="641.5" y="564.5"/><use href="#g" x="642.5" y="585.5"/><use href="#g" x="643.5" y="580.5"/><use href="#g" x="643.5" y="584.5"/><use href="#g" x="644.5" y="581.5"/><use href="#g" x="644.5" y="572.5"/><use href="#g" x="645.5" y="585.5"/><use href="#g" x="646.5" y="590.5"/><use href="#g" x="646.5" y="587.5"/><use href="#g" x="647.5" y="583.5"/><use href="#g" x="647.5" y="590.5"/><use href="#g" x="648.5" y="578.5"/><use href="#g" x="649.5" y="589.5"/><use href="#g" x="649.5" y="584.5"/><use href="#g" x="650.5" y="584.5"/><use href="#g" x="651.5" y="591.5"/><use href="#g" x="651.5" y="590.5"/><use href="#g" x="652.5" y="587.5"/><use href="#g" x="652.5" y="583.5"/><use href="#g" x="653.5" y="593.5"/><use href="#g" x="654.5" y="600.5"/><use href="#g" x="654.5" y="592.5"/><use href="#g" x="655.5" y="582.5"/><use href="#g" x="655.5" y="605.5"/><use href="#g" x="656.5" y="590.5"/><use href="#g" x="657.5" y="604.5"/><use href="#g" x="657.5" y="583.5"/><use href="#g" x="658.5" y="593.5"/><use href="#g" x="658.5" y="583.5"/><use href="#g" x="659.5" y="596.5"/><use href="#g" x="660.5" y="581.5"/><use href="#g" x="660.5" y="582.5"/><use href="#g" x="661.5" y="598.5"/><use href="#g" x="661.5" y="599.5"/><use href="#g" x="662.5" y="604.5"/><use href="#g" x="663.5" y="610.5"/><use href="#g" x="663.5" y="606.5"/><use href="#g" x="664.5" y="605.5"/><use href="#g" x="664.5" y="592.5"/><use href="#g" x="665.5" y="582.5"/><use href="#g" x="666.5" y="602.5"/><use href="#g" x="666.5" y="585.5"/><use href="#g" x="667.5" y="593.5"/><use href="#g" x="668.5" y="586.5"/><use href="#g" x="668.5" y="591.5"/><use href="#g" x="669.5" y="605.5"/><use href="#g" x="669.5" y="602.5"/><use href="#g" x="670.5" y="585.5"/><use href="#g" x="671.5" y="601.5"/><use href="#g" x="671.5" y="613.5"/><use href="#g" x="672.5" y="592.5"/><use href="#g" x="672.5" y="604.5"/><use href="#g" x="673.5" y="591.5"/><use href="#g" x="674.5" y="616.5"/><use href="#g" x="674.5" y="618.5"/><use href="#g" x="675.5" y="606.5"/><use href="#g" x="675.5" y="615.5"/><use href="#g" x="676.5" y="606.5"/><use href="#g" x="677.5" y="600.5"/><use href="#g" x="677.5" y="594.5"/><use href="#g" x="678.5" y="606.5"/><use href="#g" x="678.5" y="601.5"/><use href="#g" x="679.5" y="589.5"/><use href="#g" x="680.5" y="606.5"/><use href="#g" x="680.5" y="612.5"/><use href="#g" x="681.5" y="601.5"/><use href="#g" x="681.5" y="612.5"/><use href="#g" x="682.5" y="602.5"/><use href="#g" x="683.5" y="596.5"/><use href="#g" x="683.5" y="610.5"/><use href="#g" x="684.5" y="623.5"/><use href="#g" x="684.5" y="612.5"/><use href="#g" x="685.5" y="609.5"/><use href="#g" x="686.5" y="605.5"/><use href="#g" x="686.5" y="613.5"/><use href="#g" x="687.5" y="619.5"/><use href="#g" x="688.5" y="621.5"/><use href="#g" x="688.5" y="618.5"/><use href="#g" x="689.5" y="599.5"/><use href="#g" x="689.5" y="623.5"/><use href="#g" x="690.5" y="609.5"/><use href="#g" x="691.5" y="608.5"/><use href="#g" x="691.5" y="598.5"/><use href="#g" x="692.5" y="613.5"/><use href="#g" x="692.5" y="601.5"/><use href="#g" x="693.5" y="639.5"/><use href="#g" x="694.5" y="613.5"/><use href="#g" x="694.5" y="612.5"/><use href="#g" x="695.5" y="621.5"/><use href="#g" x="695.5" y="618.5"/><use href="#g" x="696.5" y="635.5"/><use href="#g" x="697.5" y="609.5"/><use href="#g" x="697.5" y="599.5"/><use href="#g" x="698.5" y="608.5"/><use href="#g" x="698.5" y="606.5"/><use href="#g" x="699.5" y="616.5"/><use href="#g" x="700.5" y="615.5"/><use href="#g" x="700.5" y="615.5"/><use href="#g" x="701.5" y="619.5"/><use href="#g" x="701.5" y="609.5"/><use href="#g" x="702.5" y="621.5"/><use href="#g" x="703.5" y="619.5"/><use href="#g" x="703.5" y="615.5"/><use href="#g" x="704.5" y="613.5"/><use href="#g" x="705.5" y="616.5"/><use href="#g" x="705.5" y="628.5"/><use href="#g" x="706.5" y="605.5"/><use href="#g" x="706.5" y="598.5"/><use href="#g" x="707.5" y="619.5"/><use href="#g" x="708.5" y="616.5"/><use href="#g" x="708.5" y="616.5"/><use href="#g" x="709.5" y="618.5"/><use href="#g" x="709.5" y="618.5"/><use href="#g" x="710.5" y="631.5"/><use href="#g" x="711.5" y="621.5"/><use href="#g" x="711.5" y="616.5"/><use href="#g" x="712.5" y="608.5"/><use href="#g" x="712.5" y="639.5"/><use href="#g" x="713.5" y="616.5"/><use href="#g" x="714.5" y="613.5"/><use href="#g" x="714.5" y="624.5"/><use href="#g" x="715.5" y="623.5"/><use href="#g" x="715.5" y="630.5"/><use href="#g" x="716.5" y="628.5"/><use href="#g" x="717.5" y="630.5"/><use href="#g" x="717.5" y="621.5"/><use href="#g" x="718.5" y="610.5"/><use href="#g" x="718.5" y="628.5"/><use href="#g" x="719.5" y="628.5"/><use href="#g" x="720.5" y="619.5"/><use href="#g" x="720.5" y="631.5"/><use href="#g" x="721.5" y="621.5"/><use href="#g" x="721.5" y="631.5"/><use href="#g" x="722.5" y="633.5"/><use href="#g" x="723.5" y="626.5"/><use href="#g" x="723.5" y="626.5"/><use href="#g" x="724.5" y="616.5"/><use href="#g" x="725.5" y="619.5"/><use href="#g" x="725.5" y="633.5"/><use href="#g" x="726.5" y="644.5"/><use href="#g" x="726.5" y="630.5"/><use href="#g" x="727.5" y="626.5"/><use href="#g" x="728.5" y="624.5"/><use href="#g" x="728.5" y="630.5"/><use href="#g" x="729.5" y="626.5"/><use href="#g" x="729.5" y="631.5"/><use href="#g" x="730.5" y="650.5"/><use href="#g" x="731.5" y="626.5"/><use href="#g" x="731.5" y="637.5"/><use href="#g" x="732.5" y="646.5"/><use href="#g" x="732.5" y="628.5"/><use href="#g" x="733.5" y="621.5"/><use href="#g" x="734.5" y="639.5"/><use href="#g" x="734.5" y="641.5"/><use href="#g" x="735.5" y="633.5"/><use href="#g" x="735.5" y="641.5"/><use href="#g" x="736.5" y="631.5"/><use href="#g" x="737.5" y="637.5"/><use href="#g" x="737.5" y="626.5"/><use href="#g" x="738.5" y="633.5"/><use href="#g" x="738.5" y="633.5"/><use href="#g" x="739.5" y="631.5"/><use href="#g" x="740.5" y="648.5"/><use href="#g" x="740.5" y="633.5"/><use href="#g" x="741.5" y="637.5"/><use href="#g" x="742.5" y="637.5"/><use href="#g" x="742.5" y="635.5"/><use href="#g" x="743.5" y="631.5"/><use href="#g" x="743.5" y="637.5"/><use href="#g" x="744.5" y="650.5"/><use href="#g" x="745.5" y="637.5"/><use href="#g" x="745.5" y="646.5"/><use href="#g" x="746.5" y="639.5"/><use href="#g" x="746.5" y="641.5"/><use href="#g" x="747.5" y="631.5"/><use href="#g" x="748.5" y="637.5"/><use href="#g" x="748.5" y="624.5"/><use href="#g" x="749.5" y="626.5"/><use href="#g" x="749.5" y="644.5"/><use href="#g" x="750.5" y="628.5"/><use href="#g" x="751.5" y="635.5"/><use href="#g" x="751.5" y="639.5"/><use href="#g" x="752.5" y="641.5"/><use href="#g" x="752.5" y="644.5"/><use href="#g" x="753.5" y="644.5"/><use href="#g" x="754.5" y="650.5"/><use href="#g" x="754.5" y="644.5"/><use href="#g" x="755.5" y="655.5"/><use href="#g" x="755.5" y="653.5"/><use href="#g" x="756.5" y="637.5"/><use href="#g" x="757.5" y="644.5"/><use href="#g" x="757.5" y="648.5"/><use href="#g" x="758.5" y="633.5"/><use href="#g" x="758.5" y="650.5"/><use href="#g" x="759.5" y="624.5"/><use href="#g" x="760.5" y="650.5"/><use href="#g" x="760.5" y="648.5"/><use href="#g" x="761.5" y="646.5"/><use href="#g" x="762.5" y="653.5"/><use href="#g" x="762.5" y="639.5"/><use href="#g" x="763.5" y="653.5"/><use href="#g" x="763.5" y="650.5"/><use href="#g" x="764.5" y="653.5"/><use href="#g" x="765.5" y="655.5"/><use href="#g" x="765.5" y="661.5"/><use href="#g" x="766.5" y="661.5"/><use href="#g" x="766.5" y="650.5"/><use href="#g" x="767.5" y="639.5"/><use href="#g" x="768.5" y="648.5"/><use href="#g" x="768.5" y="653.5"/><use href="#g" x="769.5" y="639.5"/><use href="#g" x="769.5" y="644.5"/><use href="#g" x="770.5" y="650.5"/><use href="#g" x="771.5" y="639.5"/><use href="#g" x="771.5" y="650.5"/><use href="#g" x="772.5" y="650.5"/><use href="#g" x="772.5" y="653.5"/><use href="#g" x="773.5" y="641.5"/><use href="#g" x="774.5" y="653.5"/><use href="#g" x="774.5" y="666.5"/><use href="#g" x="775.5" y="641.5"/><use href="#g" x="775.5" y="655.5"/><use href="#g" x="776.5" y="666.5"/><use href="#g" x="777.5" y="655.5"/><use href="#g" x="777.5" y="648.5"/><use href="#g" x="778.5" y="650.5"/><use href="#g" x="779.5" y="663.5"/><use href="#g" x="779.5" y="635.5"/><use href="#g" x="780.5" y="658.5"/><use href="#g" x="780.5" y="648.5"/><use href="#g" x="781.5" y="641.5"/><use href="#g" x="782.5" y="669.5"/><use href="#g" x="782.5" y="650.5"/><use href="#g" x="783.5" y="658.5"/><use href="#g" x="783.5" y="661.5"/><use href="#g" x="784.5" y="653.5"/><use href="#g" x="785.5" y="650.5"/><use href="#g" x="785.5" y="653.5"/><use href="#g" x="786.5" y="648.5"/><use href="#g" x="786.5" y="658.5"/><use href="#g" x="787.5" y="653.5"/><use href="#g" x="788.5" y="666.5"/><use href="#g" x="788.5" y="661.5"/><use href="#g" x="789.5" y="672.5"/><use href="#g" x="789.5" y="661.5"/><use href="#g" x="790.5" y="655.5"/><use href="#g" x="791.5" y="648.5"/><use href="#g" x="791.5" y="655.5"/><use href="#g" x="792.5" y="653.5"/><use href="#g" x="792.5" y="666.5"/><use href="#g" x="793.5" y="653.5"/><use href="#g" x="794.5" y="650.5"/><use href="#g" x="794.5" y="669.5"/><use href="#g" x="795.5" y="655.5"/><use href="#g" x="796.5" y="658.5"/><use href="#g" x="796.5" y="644.5"/><use href="#g" x="797.5" y="653.5"/><use href="#g" x="797.5" y="655.5"/><use href="#g" x="798.5" y="661.5"/><use href="#g" x="799.5" y="653.5"/><use href="#g" x="799.5" y="653.5"/><use href="#g" x="800.5" y="661.5"/><use href="#g" x="800.5" y="663.5"/><use href="#g" x="801.5" y="663.5"/><use href="#g" x="802.5" y="658.5"/><use href="#g" x="802.5" y="669.5"/><use href="#g" x="803.5" y="655.5"/><use href="#g" x="803.5" y="655.5"/><use href="#g" x="804.5" y="648.5"/><use href="#g" x="805.5" y="666.5"/><use href="#g" x="805.5" y="658.5"/><use href="#g" x="806.5" y="661.5"/><use href="#g" x="806.5" y="666.5"/><use href="#g" x="807.5" y="663.5"/><use href="#g" x="808.5" y="666.5"/><use href="#g" x="808.5" y="672.5"/><use href="#g" x="809.5" y="644.5"/><use href="#g" x="809.5" y="653.5"/><use href="#g" x="810.5" y="666.5"/><use href="#g" x="811.5" y="666.5"/><use href="#g" x="811.5" y="663.5"/><use href="#g" x="812.5" y="653.5"/><use href="#g" x="812.5" y="672.5"/><use href="#g" x="813.5" y="655.5"/><use href="#g" x="814.5" y="655.5"/><use href="#g" x="814.5" y="641.5"/><use href="#g" x="815.5" y="661.5"/><use href="#g" x="816.5" y="661.5"/><use href="#g" x="816.5" y="648.5"/><use href="#g" x="817.5" y="663.5"/><use href="#g" x="817.5" y="676.5"/><use href="#g" x="818.5" y="658.5"/><use href="#g" x="819.5" y="650.5"/><use href="#g" x="819.5" y="666.5"/><use href="#g" x="820.5" y="646.5"/><use href="#g" x="820.5" y="672.5"/><use href="#g" x="821.5" y="666.5"/><use href="#g" x="822.5" y="672.5"/><use href="#g" x="822.5" y="644.5"/><use href="#g" x="823.5" y="655.5"/><use href="#g" x="823.5" y="666.5"/><use href="#g" x="824.5" y="663.5"/><use href="#g" x="825.5" y="655.5"/><use href="#g" x="825.5" y="679.5"/><use href="#g" x="826.5" y="672.5"/><use href="#g" x="826.5" y="669.5"/><use href="#g" x="827.5" y="661.5"/><use href="#g" x="828.5" y="655.5"/><use href="#g" x="828.5" y="655.5"/><use href="#g" x="829.5" y="666.5"/><use href="#g" x="829.5" y="669.5"/><use href="#g" x="830.5" y="661.5"/><use href="#g" x="831.5" y="663.5"/><use href="#g" x="831.5" y="669.5"/><use href="#g" x="832.5" y="653.5"/><use href="#g" x="833.5" y="663.5"/><use href="#g" x="833.5" y="661.5"/><use href="#g" x="834.5" y="658.5"/><use href="#g" x="834.5" y="658.5"/><use href="#g" x="835.5" y="663.5"/><use href="#g" x="836.5" y="669.5"/><use href="#g" x="836.5" y="679.5"/><use href="#g" x="837.5" y="666.5"/><use href="#g" x="837.5" y="679.5"/><use href="#g" x="838.5" y="658.5"/><use href="#g" x="839.5" y="658.5"/><use href="#g" x="839.5" y="669.5"/><use href="#g" x="840.5" y="672.5"/><use href="#g" x="840.5" y="672.5"/><use href="#g" x="841.5" y="661.5"/><use href="#g" x="842.5" y="655.5"/><use href="#g" x="842.5" y="676.5"/><use href="#g" x="843.5" y="683.5"/><use href="#g" x="843.5" y="666.5"/><use href="#g" x="844.5" y="676.5"/><use href="#g" x="845.5" y="661.5"/><use href="#g" x="845.5" y="666.5"/><use href="#g" x="846.5" y="672.5"/><use href="#g" x="846.5" y="676.5"/><use href="#g" x="847.5" y="663.5"/><use href="#g" x="848.5" y="666.5"/><use href="#g" x="848.5" y="666.5"/><use href="#g" x="849.5" y="672.5"/><use href="#g" x="849.5" y="669.5"/><use href="#g" x="850.5" y="663.5"/><use href="#g" x="851.5" y="676.5"/><use href="#g" x="851.5" y="661.5"/><use href="#g" x="852.5" y="679.5"/><use href="#g" x="853.5" y="663.5"/><use href="#g" x="853.5" y="666.5"/><use href="#g" x="854.5" y="679.5"/><use href="#g" x="854.5" y="676.5"/><use href="#g" x="855.5" y="676.5"/><use href="#g" x="856.5" y="669.5"/><use href="#g" x="856.5" y="666.5"/><use href="#g" x="857.5" y="663.5"/><use href="#g" x="857.5" y="672.5"/><use href="#g" x="858.5" y="676.5"/><use href="#g" x="859.5" y="672.5"/><use href="#g" x="859.5" y="679.5"/><use href="#g" x="860.5" y="658.5"/><use href="#g" x="860.5" y="666.5"/><use href="#g" x="861.5" y="669.5"/><use href="#g" x="862.5" y="663.5"/><use href="#g" x="862.5" y="676.5"/><use href="#g" x="863.5" y="679.5"/><use href="#g" x="863.5" y="676.5"/><use href="#g" x="864.5" y="663.5"/><use href="#g" x="865.5" y="669.5"/><use href="#g" x="865.5" y="679.5"/><use href="#g" x="866.5" y="663.5"/><use href="#g" x="866.5" y="669.5"/><use href="#g" x="867.5" y="672.5"/><use href="#g" x="868.5" y="669.5"/><use href="#g" x="868.5" y="655.5"/><use href="#g" x="869.5" y="676.5"/><use href="#g" x="870.5" y="666.5"/><use href="#g" x="870.5" y="669.5"/><use href="#g" x="871.5" y="676.5"/><use href="#g" x="871.5" y="672.5"/><use href="#g" x="872.5" y="676.5"/><use href="#g" x="873.5" y="666.5"/><use href="#g" x="873.5" y="672.5"/><use href="#g" x="874.5" y="669.5"/><use href="#g" x="874.5" y="676.5"/><use href="#g" x="875.5" y="679.5"/><use href="#g" x="876.5" y="683.5"/><use href="#g" x="876.5" y="658.5"/><use href="#g" x="877.5" y="672.5"/></g><g fill="#0000ff"><use href="#b" x="173.5" y="710.5"/><use href="#b" x="174.5" y="698.5"/><use href="#b" x="174.5" y="736.5"/><use href="#b" x="175.5" y="706.5"/><use href="#b" x="176.5" y="720.5"/><use href="#b" x="176.5" y="733.5"/><use href="#b" x="177.5" y="700.5"/><use href="#b" x="177.5" y="677.5"/><use href="#b" x="178.5" y="693.5"/><use href="#b" x="179.5" y="715.5"/><use href="#b" x="179.5" y="704.5"/><use href="#b" x="180.5" y="696.5"/><use href="#b" x="180.5" y="715.5"/><use href="#b" x="181.5" y="715.5"/><use href="#b" x="182.5" y="720.5"/><use href="#b" x="182.5" y="704.5"/><use href="#b" x="183.5" y="722.5"/><use href="#b" x="183.5" y="717.5"/><use href="#b" x="184.5" y="708.5"/><use href="#b" x="185.5" y="727.5"/><use href="#b" x="185.5" y="710.5"/><use href="#b" x="186.5" y="715.5"/><use href="#b" x="186.5" y="700.5"/><use href="#b" x="187.5" y="704.5"/><use href="#b" x="188.5" y="722.5"/><use href="#b" x="188.5" y="706.5"/><use href="#b" x="189.5" y="733.5"/><use href="#b" x="189.5" y="698.5"/><use href="#b" x="190.5" y="730.5"/><use href="#b" x="191.5" y="710.5"/><use href="#b" x="191.5" y="722.5"/><use href="#b" x="192.5" y="708.5"/><use href="#b" x="193.5" y="717.5"/><use href="#b" x="193.5" y="710.5"/><use href="#b" x="194.5" y="725.5"/><use href="#b" x="194.5" y="708.5"/><use href="#b" x="195.5" y="756.5"/><use href="#b" x="196.5" y="748.5"/><use href="#b" x="196.5" y="696.5"/><use href="#b" x="197.5" y="715.5"/><use href="#b" x="197.5" y="713.5"/><use href="#b" x="198.5" y="702.5"/><use href="#b" x="199.5" y="695.5"/><use href="#b" x="199.5" y="739.5"/><use href="#b" x="200.5" y="727.5"/><use href="#b" x="200.5" y="715.5"/><use href="#b" x="201.5" y="704.5"/><use href="#b" x="202.5" y="710.5"/><use href="#b" x="202.5" y="717.5"/><use href="#b" x="203.5" y="713.5"/><use href="#b" x="203.5" y="713.5"/><use href="#b" x="204.5" y="722.5"/><use href="#b" x="205.5" y="717.5"/><use href="#b" x="205.5" y="689.5"/><use href="#b" x="206.5" y="710.5"/><use href="#b" x="206.5" y="725.5"/><use href="#b" x="207.5" y="708.5"/><use href="#b" x="208.5" y="727.5"/><use href="#b" x="208.5" y="706.5"/><use href="#b" x="209.5" y="713.5"/><use href="#b" x="210.5" y="702.5"/><use href="#b" x="210.5" y="715.5"/><use href="#b" x="211.5" y="700.5"/><use href="#b" x="211.5" y="708.5"/><use href="#b" x="212.5" y="696.5"/><use href="#b" x="213.5" y="704.5"/><use href="#b" x="213.5" y="713.5"/><use href="#b" x="214.5" y="720.5"/><use href="#b" x="214.5" y="708.5"/><use href="#b" x="215.5" y="715.5"/><use href="#b" x="216.5" y="717.5"/><use href="#b" x="216.5" y="720.5"/><use href="#b" x="217.5" y="698.5"/><use href="#b" x="217.5" y="715.5"/><use href="#b" x="218.5" y="710.5"/><use href="#b" x="219.5" y="717.5"/><use href="#b" x="219.5" y="682.5"/><use href="#b" x="220.5" y="722.5"/><use href="#b" x="220.5" y="710.5"/><use href="#b" x="221.5" y="706.5"/><use href="#b" x="222.5" y="746.5"/><use href="#b" x="222.5" y="710.5"/><use href="#b" x="223.5" y="704.5"/><use href="#b" x="223.5" y="708.5"/><use href="#b" x="224.5" y="757.5"/><use href="#b" x="225.5" y="691.5"/><use href="#b" x="225.5" y="685.5"/><use href="#b" x="226.5" y="704.5"/><use href="#b" x="226.5" y="677.5"/><use href="#b" x="227.5" y="677.5"/><use href="#b" x="228.5" y="691.5"/><use href="#b" x="228.5" y="624.5"/><use href="#b" x="229.5" y="624.5"/><use href="#b" x="230.5" y="582.5"/><use href="#b" x="230.5" y="578.5"/><use href="#b" x="231.5" y="538.5"/><use href="#b" x="231.5" y="501.5"/><use href="#b" x="232.5" y="481.5"/><use href="#b" x="233.5" y="454.5"/><use href="#b" x="233.5" y="435.5"/><use href="#b" x="234.5" y="411.5"/><use href="#b" x="234.5" y="383.5"/><use href="#b" x="235.5" y="361.5"/><use href="#b" x="236.5" y="338.5"/><use href="#b" x="236.5" y="319.5"/><use href="#b" x="237.5" y="302.5"/><use href="#b" x="237.5" y="282.5"/><use href="#b" x="238.5" y="262.5"/><use href="#b" x="239.5" y="247.5"/><use href="#b" x="239.5" y="229.5"/><use href="#b" x="240.5" y="215.5"/><use href="#b" x="240.5" y="201.5"/><use href="#b" x="241.5" y="189.5"/><use href="#b" x="242.5" y="173.5"/><use href="#b" x="242.5" y="163.5"/><use href="#b" x="243.5" y="152.5"/><use href="#b" x="243.5" y="140.5"/><use href="#b" x="244.5" y="132.5"/><use href="#b" x="245.5" y="124.5"/><use href="#b" x="245.5" y="118.5"/><use href="#b" x="246.5" y="111.5"/><use href="#b" x="247.5" y="106.5"/><use href="#b" x="247.5" y="101.5"/><use href="#b" x="248.5" y="97.5"/><use href="#b" x="248.5" y="95.5"/><use href="#b" x="249.5" y="92.5"/><use href="#b" x="250.5" y="91.5"/><use href="#b" x="250.5" y="90.5"/><use href="#b" x="251.5" y="90.5"/><use href="#b" x="251.5" y="90.5"/><use href="#b" x="252.5" y="90.5"/><use href="#b" x="253.5" y="90.5"/><use href="#b" x="253.5" y="93.5"/><use href="#b" x="254.5" y="94.5"/><use href="#b" x="254.5" y="95.5"/><use href="#b" x="255.5" y="98.5"/><use href="#b" x="256.5" y="100.5"/><use href="#b" x="256.5" y="104.5"/><use href="#b" x="257.5" y="106.5"/><use href="#b" x="257.5" y="108.5"/><use href="#b" x="258.5" y="110.5"/><use href="#b" x="259.5" y="113.5"/><use href="#b" x="259.5" y="116.5"/><use href="#b" x="260.5" y="118.5"/><use href="#b" x="260.5" y="120.5"/><use href="#b" x="261.5" y="122.5"/><use href="#b" x="262.5" y="124.5"/><use href="#b" x="262.5" y="126.5"/><use href="#b" x="263.5" y="128.5"/><use href="#b" x="263.5" y="130.5"/><use href="#b" x="264.5" y="131.5"/><use href="#b" x="265.5" y="132.5"/><use href="#b" x="265.5" y="134.5"/><use href="#b" x="266.5" y="136.5"/><use href="#b" x="267.5" y="138.5"/><use href="#b" x="267.5" y="140.5"/><use href="#b" x="268.5" y="142.5"/><use href="#b" x="268.5" y="144.5"/><use href="#b" x="269.5" y="146.5"/><use href="#b" x="270.5" y="148.5"/><use href="#b" x="270.5" y="150.5"/><use href="#b" x="271.5" y="152.5"/><use href="#b" x="271.5" y="154.5"/><use href="#b" x="272.5" y="155.5"/><use href="#b" x="273.5" y="157.5"/><use href="#b" x="273.5" y="159.5"/><use href="#b" x="274.5" y="161.5"/><use href="#b" x="274.5" y="163.5"/><use href="#b" x="275.5" y="165.5"/><use href="#b" x="276.5" y="166.5"/><use href="#b" x="276.5" y="168.5"/><use href="#b" x="277.5" y="170.5"/><use href="#b" x="277.5" y="172.5"/><use href="#b" x="278.5" y="175.5"/><use href="#b" x="279.5" y="176.5"/><use href="#b" x="279.5" y="177.5"/><use href="#b" x="280.5" y="179.5"/><use href="#b" x="280.5" y="181.5"/><use href="#b" x="281.5" y="182.5"/><use href="#b" x="282.5" y="185.5"/><use href="#b" x="282.5" y="186.5"/><use href="#b" x="283.5" y="187.5"/><use href="#b" x="284.5" y="190.5"/><use href="#b" x="284.5" y="190.5"/><use href="#b" x="285.5" y="192.5"/><use href="#b" x="285.5" y="194.5"/><use href="#b" x="286.5" y="196.5"/><use href="#b" x="287.5" y="197.5"/><use href="#b" x="287.5" y="198.5"/><use href="#b" x="288.5" y="200.5"/><use href="#b" x="288.5" y="202.5"/><use href="#b" x="289.5" y="203.5"/><use href="#b" x="290.5" y="204.5"/><use href="#b" x="290.5" y="205.5"/><use href="#b" x="291.5" y="208.5"/><use href="#b" x="291.5" y="209.5"/><use href="#b" x="292.5" y="209.5"/><use href="#b" x="293.5" y="214.5"/><use href="#b" x="293.5" y="215.5"/><use href="#b" x="294.5" y="214.5"/><use href="#b" x="294.5" y="215.5"/><use href="#b" x="295.5" y="218.5"/><use href="#b" x="296.5" y="219.5"/><use href="#b" x="296.5" y="219.5"/><use href="#b" x="297.5" y="222.5"/><use href="#b" x="297.5" y="221.5"/><use href="#b" x="298.5" y="223.5"/><use href="#b" x="299.5" y="224.5"/><use href="#b" x="299.5" y="227.5"/><use href="#b" x="300.5" y="228.5"/><use href="#b" x="300.5" y="228.5"/><use href="#b" x="301.5" y="228.5"/><use href="#b" x="302.5" y="232.5"/><use href="#b" x="302.5" y="233.5"/><use href="#b" x="303.5" y="235.5"/><use href="#b" x="304.5" y="235.5"/><use href="#b" x="304.5" y="238.5"/><use href="#b" x="305.5" y="236.5"/><use href="#b" x="305.5" y="240.5"/><use href="#b" x="306.5" y="241.5"/><use href="#b" x="307.5" y="241.5"/><use href="#b" x="307.5" y="241.5"/><use href="#b" x="308.5" y="243.5"/><use href="#b" x="308.5" y="245.5"/><use href="#b" x="309.5" y="246.5"/><use href="#b" x="310.5" y="248.5"/><use href="#b" x="310.5" y="249.5"/><use href="#b" x="311.5" y="252.5"/><use href="#b" x="311.5" y="251.5"/><use href="#b" x="312.5" y="253.5"/><use href="#b" x="313.5" y="254.5"/><use href="#b" x="313.5" y="253.5"/><use href="#b" x="314.5" y="258.5"/><use href="#b" x="314.5" y="257.5"/><use href="#b" x="315.5" y="258.5"/><use href="#b" x="316.5" y="261.5"/><use href="#b" x="316.5" y="261.5"/><use href="#b" x="317.5" y="262.5"/><use href="#b" x="317.5" y="265.5"/><use href="#b" x="318.5" y="265.5"/><use href="#b" x="319.5" y="264.5"/><use href="#b" x="319.5" y="268.5"/><use href="#b" x="320.5" y="267.5"/><use href="#b" x="321.5" y="268.5"/><use href="#b" x="321.5" y="269.5"/><use href="#b" x="322.5" y="272.5"/><use href="#b" x="322.5" y="272.5"/><use href="#b" x="323.5" y="274.5"/><use href="#b" x="324.5" y="276.5"/><use href="#b" x="324.5" y="276.5"/><use href="#b" x="325.5" y="277.5"/><use href="#b" x="325.5" y="276.5"/><use href="#b" x="326.5" y="279.5"/><use href="#b" x="327.5" y="281.5"/><use href="#b" x="327.5" y="278.5"/><use href="#b" x="328.5" y="285.5"/><use href="#b" x="328.5" y="283.5"/><use href="#b" x="329.5" y="281.5"/><use href="#b" x="330.5" y="285.5"/><use href="#b" x="330.5" y="287.5"/><use href="#b" x="331.5" y="288.5"/><use href="#b" x="331.5" y="290.5"/><use href="#b" x="332.5" y="292.5"/><use href="#b" x="333.5" y="291.5"/><use href="#b" x="333.5" y="290.5"/><use href="#b" x="334.5" y="291.5"/><use href="#b" x="334.5" y="295.5"/><use href="#b" x="335.5" y="296.5"/><use href="#b" x="336.5" y="297.5"/><use href="#b" x="336.5" y="294.5"/><use href="#b" x="337.5" y="297.5"/><use href="#b" x="338.5" y="299.5"/><use href="#b" x="338.5" y="302.5"/><use href="#b" x="339.5" y="300.5"/><use href="#b" x="339.5" y="302.5"/><use href="#b" x="340.5" y="304.5"/><use href="#b" x="341.5" y="305.5"/><use href="#b" x="341.5" y="303.5"/><use href="#b" x="342.5" y="306.5"/><use href="#b" x="342.5" y="308.5"/><use href="#b" x="343.5" y="310.5"/><use href="#b" x="344.5" y="310.5"/><use href="#b" x="344.5" y="308.5"/><use href="#b" x="345.5" y="313.5"/><use href="#b" x="345.5" y="311.5"/><use href="#b" x="346.5" y="316.5"/><use href="#b" x="347.5" y="316.5"/><use href="#b" x="347.5" y="315.5"/><use href="#b" x="348.5" y="318.5"/><use href="#b" x="348.5" y="318.5"/><use href="#b" x="349.5" y="318.5"/><use href="#b" x="350.5" y="322.5"/><use href="#b" x="350.5" y="320.5"/><use href="#b" x="351.5" y="322.5"/><use href="#b" x="351.5" y="323.5"/><use href="#b" x="352.5" y="322.5"/><use href="#b" x="353.5" y="323.5"/><use href="#b" x="353.5" y="324.5"/><use href="#b" x="354.5" y="324.5"/><use href="#b" x="354.5" y="328.5"/><use href="#b" x="355.5" y="327.5"/><use href="#b" x="356.5" y="331.5"/><use href="#b" x="356.5" y="329.5"/><use href="#b" x="357.5" y="330.5"/><use href="#b" x="358.5" y="335.5"/><use href="#b" x="358.5" y="334.5"/><use href="#b" x="359.5" y="338.5"/><use href="#b" x="359.5" y="337.5"/><use href="#b" x="360.5" y="336.5"/><use href="#b" x="361.5" y="339.5"/><use href="#b" x="361.5" y="336.5"/><use href="#b" x="362.5" y="340.5"/><use href="#b" x="362.5" y="340.5"/><use href="#b" x="363.5" y="343.5"/><use href="#b" x="364.5" y="343.5"/><use href="#b" x="364.5" y="341.5"/><use href="#b" x="365.5" y="345.5"/><use href="#b" x="365.5" y="348.5"/><use href="#b" x="366.5" y="345.5"/><use href="#b" x="367.5" y="343.5"/><use href="#b" x="367.5" y="344.5"/><use href="#b" x="368.5" y="344.5"/><use href="#b" x="368.5" y="349.5"/><use href="#b" x="369.5" y="350.5"/><use href="#b" x="370.5" y="349.5"/><use href="#b" x="370.5" y="350.5"/><use href="#b" x="371.5" y="350.5"/><use href="#b" x="371.5" y="352.5"/><use href="#b" x="372.5" y="355.5"/><use href="#b" x="373.5" y="356.5"/><use href="#b" x="373.5" y="353.5"/><use href="#b" x="374.5" y="358.5"/><use href="#b" x="375.5" y="361.5"/><use href="#b" x="375.5" y="360.5"/><use href="#b" x="376.5" y="366.5"/><use href="#b" x="376.5" y="360.5"/><use href="#b" x="377.5" y="363.5"/><use href="#b" x="378.5" y="361.5"/><use href="#b" x="378.5" y="363.5"/><use href="#b" x="379.5" y="368.5"/><use href="#b" x="379.5" y="370.5"/><use href="#b" x="380.5" y="369.5"/><use href="#b" x="381.5" y="367.5"/><use href="#b" x="381.5" y="368.5"/><use href="#b" x="382.5" y="374.5"/><use href="#b" x="382.5" y="370.5"/><use href="#b" x="383.5" y="372.5"/><use href="#b" x="384.5" y="375.5"/><use href="#b" x="384.5" y="376.5"/><use href="#b" x="385.5" y="374.5"/><use href="#b" x="385.5" y="377.5"/><use href="#b" x="386.5" y="377.5"/><use href="#b" x="387.5" y="377.5"/><use href="#b" x="387.5" y="380.5"/><use href="#b" x="388.5" y="380.5"/><use href="#b" x="388.5" y="380.5"/><use href="#b" x="389.5" y="380.5"/><use href="#b" x="390.5" y="376.5"/><use href="#b" x="390.5" y="384.5"/><use href="#b" x="391.5" y="388.5"/><use href="#b" x="391.5" y="386.5"/><use href="#b" x="392.5" y="384.5"/><use href="#b" x="393.5" y="384.5"/><use href="#b" x="393.5" y="385.5"/><use href="#b" x="394.5" y="388.5"/><use href="#b" x="395.5" y="389.5"/><use href="#b" x="395.5" y="386.5"/><use href="#b" x="396.5" y="392.5"/><use href="#b" x="396.5" y="389.5"/><use href="#b" x="397.5" y="389.5"/><use href="#b" x="398.5" y="392.5"/><use href="#b" x="398.5" y="395.5"/><use href="#b" x="399.5" y="394.5"/><use href="#b" x="399.5" y="399.5"/><use href="#b" x="400.5" y="389.5"/><use href="#b" x="401.5" y="397.5"/><use href="#b" x="401.5" y="396.5"/><use href="#b" x="402.5" y="401.5"/><use href="#b" x="402.5" y="399.5"/><use href="#b" x="403.5" y="398.5"/><use href="#b" x="404.5" y="403.5"/><use href="#b" x="404.5" y="402.5"/><use href="#b" x="405.5" y="402.5"/><use href="#b" x="405.5" y="410.5"/><use href="#b" x="406.5" y="405.5"/><use href="#b" x="407.5" y="409.5"/><use href="#b" x="407.5" y="405.5"/><use href="#b" x="408.5" y="403.5"/><use href="#b" x="408.5" y="408.5"/><use href="#b" x="409.5" y="412.5"/><use href="#b" x="410.5" y="410.5"/><use href="#b" x="410.5" y="404.5"/><use href="#b" x="411.5" y="412.5"/><use href="#b" x="412.5" y="417.5"/><use href="#b" x="412.5" y="418.5"/><use href="#b" x="413.5" y="416.5"/><use href="#b" x="413.5" y="416.5"/><use href="#b" x="414.5" y="417.5"/><use href="#b" x="415.5" y="425.5"/><use href="#b" x="415.5" y="420.5"/><use href="#b" x="416.5" y="420.5"/><use href="#b" x="416.5" y="423.5"/><use href="#b" x="417.5" y="424.5"/><use href="#b" x="418.5" y="424.5"/><use href="#b" x="418.5" y="428.5"/><use href="#b" x="419.5" y="420.5"/><use href="#b" x="419.5" y="428.5"/><use href="#b" x="420.5" y="426.5"/><use href="#b" x="421.5" y="421.5"/><use href="#b" x="421.5" y="425.5"/><use href="#b" x="422.5" y="421.5"/><use href="#b" x="422.5" y="433.5"/><use href="#b" x="423.5" y="431.5"/><use href="#b" x="424.5" y="432.5"/><use href="#b" x="424.5" y="429.5"/><use href="#b" x="425.5" y="436.5"/><use href="#b" x="425.5" y="436.5"/><use href="#b" x="426.5" y="430.5"/><use href="#b" x="427.5" y="437.5"/><use href="#b" x="427.5" y="436.5"/><use href="#b" x="428.5" y="435.5"/><use href="#b" x="428.5" y="432.5"/><use href="#b" x="429.5" y="435.5"/><use href="#b" x="430.5" y="434.5"/><use href="#b" x="430.5" y="442.5"/><use href="#b" x="431.5" y="448.5"/><use href="#b" x="432.5" y="445.5"/><use href="#b" x="432.5" y="446.5"/><use href="#b" x="433.5" y="445.5"/><use href="#b" x="433.5" y="448.5"/><use href="#b" x="434.5" y="450.5"/><use href="#b" x="435.5" y="442.5"/><use href="#b" x="435.5" y="446.5"/><use href="#b" x="436.5" y="450.5"/><use href="#b" x="436.5" y="450.5"/><use href="#b" x="437.5" y="445.5"/><use href="#b" x="438.5" y="455.5"/><use href="#b" x="438.5" y="450.5"/><use href="#b" x="439.5" y="455.5"/><use href="#b" x="439.5" y="453.5"/><use href="#b" x="440.5" y="449.5"/><use href="#b" x="441.5" y="458.5"/><use href="#b" x="441.5" y="459.5"/><use href="#b" x="442.5" y="455.5"/><use href="#b" x="442.5" y="464.5"/><use href="#b" x="443.5" y="452.5"/><use href="#b" x="444.5" y="455.5"/><use href="#b" x="444.5" y="464.5"/><use href="#b" x="445.5" y="460.5"/><use href="#b" x="445.5" y="459.5"/><use href="#b" x="446.5" y="460.5"/><use href="#b" x="447.5" y="460.5"/><use href="#b" x="447.5" y="466.5"/><use href="#b" x="448.5" y="457.5"/><use href="#b" x="449.5" y="465.5"/><use href="#b" x="449.5" y="470.5"/><use href="#b" x="450.5" y="466.5"/><use href="#b" x="450.5" y="467.5"/><use href="#b" x="451.5" y="468.5"/><use href="#b" x="452.5" y="476.5"/><use href="#b" x="452.5" y="479.5"/><use href="#b" x="453.5" y="470.5"/><use href="#b" x="453.5" y="477.5"/><use href="#b" x="454.5" y="468.5"/><use href="#b" x="455.5" y="475.5"/><use href="#b" x="455.5" y="472.5"/><use href="#b" x="456.5" y="471.5"/><use href="#b" x="456.5" y="478.5"/><use href="#b" x="457.5" y="486.5"/><use href="#b" x="458.5" y="472.5"/><use href="#b" x="458.5" y="483.5"/><use href="#b" x="459.5" y="491.5"/><use href="#b" x="459.5" y="479.5"/><use href="#b" x="460.5" y="479.5"/><use href="#b" x="461.5" y="480.5"/><use href="#b" x="461.5" y="483.5"/><use href="#b" x="462.5" y="486.5"/><use href="#b" x="462.5" y="481.5"/><use href="#b" x="463.5" y="490.5"/><use href="#b" x="464.5" y="491.5"/><use href="#b" x="464.5" y="479.5"/><use href="#b" x="465.5" y="487.5"/><use href="#b" x="465.5" y="486.5"/><use href="#b" x="466.5" y="490.5"/><use href="#b" x="467.5" y="491.5"/><use href="#b" x="467.5" y="489.5"/><use href="#b" x="468.5" y="489.5"/><use href="#b" x="469.5" y="496.5"/><use href="#b" x="469.5" y="486.5"/><use href="#b" x="470.5" y="490.5"/><use href="#b" x="470.5" y="496.5"/><use href="#b" x="471.5" y="506.5"/><use href="#b" x="472.5" y="511.5"/><use href="#b" x="472.5" y="493.5"/><use href="#b" x="473.5" y="496.5"/><use href="#b" x="473.5" y="497.5"/><use href="#b" x="474.5" y="499.5"/><use href="#b" x="475.5" y="508.5"/><use href="#b" x="475.5" y="508.5"/><use href="#b" x="476.5" y="508.5"/><use href="#b" x="476.5" y="503.5"/><use href="#b" x="477.5" y="498.5"/><use href="#b" x="478.5" y="505.5"/><use href="#b" x="478.5" y="512.5"/><use href="#b" x="479.5" y="512.5"/><use href="#b" x="479.5" y="511.5"/><use href="#b" x="480.5" y="506.5"/><use href="#b" x="481.5" y="513.5"/><use href="#b" x="481.5" y="512.5"/><use href="#b" x="482.5" y="518.5"/><use href="#b" x="482.5" y="513.5"/><use href="#b" x="483.5" y="507.5"/><use href="#b" x="484.5" y="513.5"/><use href="#b" x="484.5" y="518.5"/><use href="#b" x="485.5" y="503.5"/><use href="#b" x="486.5" y="532.5"/><use href="#b" x="486.5" y="512.5"/><use href="#b" x="487.5" y="523.5"/><use href="#b" x="487.5" y="513.5"/><use href="#b" x="488.5" y="523.5"/><use href="#b" x="489.5" y="518.5"/><use href="#b" x="489.5" y="519.5"/><use href="#b" x="490.5" y="516.5"/><use href="#b" x="490.5" y="511.5"/><use href="#b" x="491.5" y="519.5"/><use href="#b" x="492.5" y="525.5"/><use href="#b" x="492.5" y="518.5"/><use href="#b" x="493.5" y="523.5"/><use href="#b" x="493.5" y="526.5"/><use href="#b" x="494.5" y="533.5"/><use href="#b" x="495.5" y="518.5"/><use href="#b" x="495.5" y="519.5"/><use href="#b" x="496.5" y="524.5"/><use href="#b" x="496.5" y="537.5"/><use href="#b" x="497.5" y="530.5"/><use href="#b" x="498.5" y="527.5"/><use href="#b" x="498.5" y="533.5"/><use href="#b" x="499.5" y="539.5"/><use href="#b" x="499.5" y="533.5"/><use href="#b" x="500.5" y="531.5"/><use href="#b" x="501.5" y="531.5"/><use href="#b" x="501.5" y="534.5"/><use href="#b" x="502.5" y="533.5"/><use href="#b" x="503.5" y="532.5"/><use href="#b" x="503.5" y="530.5"/><use href="#b" x="504.5" y="543.5"/><use href="#b" x="504.5" y="537.5"/><use href="#b" x="505.5" y="539.5"/><use href="#b" x="506.5" y="547.5"/><use href="#b" x="506.5" y="531.5"/><use href="#b" x="507.5" y="537.5"/><use href="#b" x="507.5" y="535.5"/><use href="#b" x="508.5" y="536.5"/><use href="#b" x="509.5" y="539.5"/><use href="#b" x="509.5" y="567.5"/><use href="#b" x="510.5" y="544.5"/><use href="#b" x="510.5" y="547.5"/><use href="#b" x="511.5" y="539.5"/><use href="#b" x="512.5" y="549.5"/><use href="#b" x="512.5" y="551.5"/><use href="#b" x="513.5" y="538.5"/><use href="#b" x="513.5" y="554.5"/><use href="#b" x="514.5" y="561.5"/><use href="#b" x="515.5" y="556.5"/><use href="#b" x="515.5" y="553.5"/><use href="#b" x="516.5" y="550.5"/><use href="#b" x="516.5" y="558.5"/><use href="#b" x="517.5" y="547.5"/><use href="#b" x="518.5" y="551.5"/><use href="#b" x="518.5" y="547.5"/><use href="#b" x="519.5" y="564.5"/><use href="#b" x="519.5" y="553.5"/><use href="#b" x="520.5" y="549.5"/><use href="#b" x="521.5" y="553.5"/><use href="#b" x="521.5" y="553.5"/><use href="#b" x="522.5" y="545.5"/><use href="#b" x="523.5" y="558.5"/><use href="#b" x="523.5" y="551.5"/><use href="#b" x="524.5" y="582.5"/><use href="#b" x="524.5" y="568.5"/><use href="#b" x="525.5" y="557.5"/><use href="#b" x="526.5" y="566.5"/><use href="#b" x="526.5" y="569.5"/><use href="#b" x="527.5" y="559.5"/><use href="#b" x="527.5" y="571.5"/><use href="#b" x="528.5" y="562.5"/><use href="#b" x="529.5" y="573.5"/><use href="#b" x="529.5" y="570.5"/><use href="#b" x="530.5" y="548.5"/><use href="#b" x="530.5" y="571.5"/><use href="#b" x="531.5" y="577.5"/><use href="#b" x="532.5" y="559.5"/><use href="#b" x="532.5" y="567.5"/><use href="#b" x="533.5" y="571.5"/><use href="#b" x="533.5" y="578.5"/><use href="#b" x="534.5" y="563.5"/><use href="#b" x="535.5" y="575.5"/><use href="#b" x="535.5" y="584.5"/><use href="#b" x="536.5" y="559.5"/><use href="#b" x="536.5" y="575.5"/><use href="#b" x="537.5" y="564.5"/><use href="#b" x="538.5" y="592.5"/><use href="#b" x="538.5" y="586.5"/><use href="#b" x="539.5" y="580.5"/><use href="#b" x="540.5" y="584.5"/><use href="#b" x="540.5" y="582.5"/><use href="#b" x="541.5" y="581.5"/><use href="#b" x="541.5" y="580.5"/><use href="#b" x="542.5" y="571.5"/><use href="#b" x="543.5" y="575.5"/><use href="#b" x="543.5" y="592.5"/><use href="#b" x="544.5" y="581.5"/><use href="#b" x="544.5" y="586.5"/><use href="#b" x="545.5" y="595.5"/><use href="#b" x="546.5" y="583.5"/><use href="#b" x="546.5" y="584.5"/><use href="#b" x="547.5" y="573.5"/><use href="#b" x="547.5" y="583.5"/><use href="#b" x="548.5" y="586.5"/><use href="#b" x="549.5" y="581.5"/><use href="#b" x="549.5" y="601.5"/><use href="#b" x="550.5" y="580.5"/><use href="#b" x="550.5" y="581.5"/><use href="#b" x="551.5" y="595.5"/><use href="#b" x="552.5" y="590.5"/><use href="#b" x="552.5" y="574.5"/><use href="#b" x="553.5" y="586.5"/><use href="#b" x="553.5" y="580.5"/><use href="#b" x="554.5" y="598.5"/><use href="#b" x="555.5" y="592.5"/><use href="#b" x="555.5" y="595.5"/><use href="#b" x="556.5" y="611.5"/><use href="#b" x="556.5" y="600.5"/><use href="#b" x="557.5" y="600.5"/><use href="#b" x="558.5" y="608.5"/><use href="#b" x="558.5" y="598.5"/><use href="#b" x="559.5" y="597.5"/><use href="#b" x="560.5" y="595.5"/><use href="#b" x="560.5" y="590.5"/><use href="#b" x="561.5" y="594.5"/><use href="#b" x="561.5" y="608.5"/><use href="#b" x="562.5" y="608.5"/><use href="#b" x="563.5" y="598.5"/><use href="#b" x="563.5" y="592.5"/><use href="#b" x="564.5" y="606.5"/><use href="#b" x="564.5" y="586.5"/><use href="#b" x="565.5" y="603.5"/><use href="#b" x="566.5" y="598.5"/><use href="#b" x="566.5" y="609.5"/><use href="#b" x="567.5" y="603.5"/><use href="#b" x="567.5" y="603.5"/><use href="#b" x="568.5" y="615.5"/><use href="#b" x="569.5" y="625.5"/><use href="#b" x="569.5" y="601.5"/><use href="#b" x="570.5" y="601.5"/><use href="#b" x="570.5" y="591.5"/><use href="#b" x="571.5" y="625.5"/><use href="#b" x="572.5" y="617.5"/><use href="#b" x="572.5" y="594.5"/><use href="#b" x="573.5" y="627.5"/><use href="#b" x="573.5" y="617.5"/><use href="#b" x="574.5" y="673.5"/><use href="#b" x="575.5" y="613.5"/><use href="#b" x="575.5" y="604.5"/><use href="#b" x="576.5" y="631.5"/><use href="#b" x="577.5" y="631.5"/><use href="#b" x="577.5" y="600.5"/><use href="#b" x="578.5" y="615.5"/><use href="#b" x="578.5" y="634.5"/><use href="#b" x="579.5" y="617.5"/><use href="#b" x="580.5" y="621.5"/><use href="#b" x="580.5" y="619.5"/><use href="#b" x="581.5" y="609.5"/><use href="#b" x="581.5" y="623.5"/><use href="#b" x="582.5" y="604.5"/><use href="#b" x="583.5" y="627.5"/><use href="#b" x="583.5" y="621.5"/><use href="#b" x="584.5" y="615.5"/><use href="#b" x="584.5" y="617.5"/><use href="#b" x="585.5" y="617.5"/><use href="#b" x="586.5" y="623.5"/><use href="#b" x="586.5" y="617.5"/><use href="#b" x="587.5" y="621.5"/><use href="#b" x="587.5" y="634.5"/><use href="#b" x="588.5" y="619.5"/><use href="#b" x="589.5" y="621.5"/><use href="#b" x="589.5" y="615.5"/><use href="#b" x="590.5" y="623.5"/><use href="#b" x="590.5" y="606.5"/><use href="#b" x="591.5" y="647.5"/><use href="#b" x="592.5" y="625.5"/><use href="#b" x="592.5" y="625.5"/><use href="#b" x="593.5" y="619.5"/><use href="#b" x="593.5" y="641.5"/><use href="#b" x="594.5" y="619.5"/><use href="#b" x="595.5" y="625.5"/><use href="#b" x="595.5" y="609.5"/><use href="#b" x="596.5" y="629.5"/><use href="#b" x="597.5" y="647.5"/><use href="#b" x="597.5" y="613.5"/><use href="#b" x="598.5" y="653.5"/><use href="#b" x="598.5" y="634.5"/><use href="#b" x="599.5" y="625.5"/><use href="#b" x="600.5" y="621.5"/><use href="#b" x="600.5" y="634.5"/><use href="#b" x="601.5" y="644.5"/><use href="#b" x="601.5" y="634.5"/><use href="#b" x="602.5" y="631.5"/><use href="#b" x="603.5" y="629.5"/><use href="#b" x="603.5" y="653.5"/><use href="#b" x="604.5" y="625.5"/><use href="#b" x="604.5" y="623.5"/><use href="#b" x="605.5" y="627.5"/><use href="#b" x="606.5" y="621.5"/><use href="#b" x="606.5" y="631.5"/><use href="#b" x="607.5" y="647.5"/><use href="#b" x="607.5" y="634.5"/><use href="#b" x="608.5" y="639.5"/><use href="#b" x="609.5" y="627.5"/><use href="#b" x="609.5" y="625.5"/><use href="#b" x="610.5" y="631.5"/><use href="#b" x="610.5" y="656.5"/><use href="#b" x="611.5" y="641.5"/><use href="#b" x="612.5" y="636.5"/><use href="#b" x="612.5" y="615.5"/><use href="#b" x="613.5" y="653.5"/><use href="#b" x="614.5" y="644.5"/><use href="#b" x="614.5" y="631.5"/><use href="#b" x="615.5" y="650.5"/><use href="#b" x="615.5" y="656.5"/><use href="#b" x="616.5" y="644.5"/><use href="#b" x="617.5" y="636.5"/><use href="#b" x="617.5" y="647.5"/><use href="#b" x="618.5" y="636.5"/><use href="#b" x="618.5" y="653.5"/><use href="#b" x="619.5" y="631.5"/><use href="#b" x="620.5" y="659.5"/><use href="#b" x="620.5" y="656.5"/><use href="#b" x="621.5" y="629.5"/><use href="#b" x="621.5" y="656.5"/><use href="#b" x="622.5" y="650.5"/><use href="#b" x="623.5" y="623.5"/><use href="#b" x="623.5" y="644.5"/><use href="#b" x="624.5" y="663.5"/><use href="#b" x="624.5" y="670.5"/><use href="#b" x="625.5" y="644.5"/><use href="#b" x="626.5" y="641.5"/><use href="#b" x="626.5" y="636.5"/><use href="#b" x="627.5" y="634.5"/><use href="#b" x="627.5" y="663.5"/><use href="#b" x="628.5" y="650.5"/><use href="#b" x="629.5" y="636.5"/><use href="#b" x="629.5" y="644.5"/><use href="#b" x="630.5" y="663.5"/><use href="#b" x="631.5" y="631.5"/><use href="#b" x="631.5" y="639.5"/><use href="#b" x="632.5" y="653.5"/><use href="#b" x="632.5" y="656.5"/><use href="#b" x="633.5" y="650.5"/><use href="#b" x="634.5" y="650.5"/><use href="#b" x="634.5" y="647.5"/><use href="#b" x="635.5" y="650.5"/><use href="#b" x="635.5" y="656.5"/><use href="#b" x="636.5" y="653.5"/><use href="#b" x="637.5" y="639.5"/><use href="#b" x="637.5" y="656.5"/><use href="#b" x="638.5" y="666.5"/><use href="#b" x="638.5" y="656.5"/><use href="#b" x="639.5" y="666.5"/><use href="#b" x="640.5" y="663.5"/><use href="#b" x="640.5" y="647.5"/><use href="#b" x="641.5" y="650.5"/><use href="#b" x="641.5" y="659.5"/><use href="#b" x="642.5" y="656.5"/><use href="#b" x="643.5" y="656.5"/><use href="#b" x="643.5" y="659.5"/><use href="#b" x="644.5" y="641.5"/><use href="#b" x="644.5" y="659.5"/><use href="#b" x="645.5" y="663.5"/><use href="#b" x="646.5" y="641.5"/><use href="#b" x="646.5" y="650.5"/><use href="#b" x="647.5" y="653.5"/><use href="#b" x="647.5" y="666.5"/><use href="#b" x="648.5" y="641.5"/><use href="#b" x="649.5" y="670.5"/><use href="#b" x="649.5" y="670.5"/><use href="#b" x="650.5" y="650.5"/><use href="#b" x="651.5" y="678.5"/><use href="#b" x="651.5" y="656.5"/><use href="#b" x="652.5" y="656.5"/><use href="#b" x="652.5" y="666.5"/><use href="#b" x="653.5" y="653.5"/><use href="#b" x="654.5" y="647.5"/><use href="#b" x="654.5" y="663.5"/><use href="#b" x="655.5" y="666.5"/><use href="#b" x="655.5" y="663.5"/><use href="#b" x="656.5" y="670.5"/><use href="#b" x="657.5" y="670.5"/><use href="#b" x="657.5" y="674.5"/><use href="#b" x="658.5" y="656.5"/><use href="#b" x="658.5" y="683.5"/><use href="#b" x="659.5" y="650.5"/><use href="#b" x="660.5" y="647.5"/><use href="#b" x="660.5" y="670.5"/><use href="#b" x="661.5" y="659.5"/><use href="#b" x="661.5" y="674.5"/><use href="#b" x="662.5" y="670.5"/><use href="#b" x="663.5" y="670.5"/><use href="#b" x="663.5" y="666.5"/><use href="#b" x="664.5" y="674.5"/><use href="#b" x="664.5" y="659.5"/><use href="#b" x="665.5" y="663.5"/><use href="#b" x="666.5" y="678.5"/><use href="#b" x="666.5" y="656.5"/><use href="#b" x="667.5" y="650.5"/><use href="#b" x="668.5" y="663.5"/><use href="#b" x="668.5" y="656.5"/><use href="#b" x="669.5" y="674.5"/><use href="#b" x="669.5" y="650.5"/><use href="#b" x="670.5" y="653.5"/><use href="#b" x="671.5" y="666.5"/><use href="#b" x="671.5" y="659.5"/><use href="#b" x="672.5" y="670.5"/><use href="#b" x="672.5" y="653.5"/><use href="#b" x="673.5" y="666.5"/><use href="#b" x="674.5" y="659.5"/><use href="#b" x="674.5" y="663.5"/><use href="#b" x="675.5" y="683.5"/><use href="#b" x="675.5" y="666.5"/><use href="#b" x="676.5" y="659.5"/><use href="#b" x="677.5" y="653.5"/><use href="#b" x="677.5" y="653.5"/><use href="#b" x="678.5" y="674.5"/><use href="#b" x="678.5" y="683.5"/><use href="#b" x="679.5" y="659.5"/><use href="#b" x="680.5" y="653.5"/><use href="#b" x="680.5" y="663.5"/><use href="#b" x="681.5" y="656.5"/><use href="#b" x="681.5" y="687.5"/><use href="#b" x="682.5" y="683.5"/><use href="#b" x="683.5" y="678.5"/><use href="#b" x="683.5" y="678.5"/><use href="#b" x="684.5" y="678.5"/><use href="#b" x="684.5" y="683.5"/><use href="#b" x="685.5" y="670.5"/><use href="#b" x="686.5" y="663.5"/><use href="#b" x="686.5" y="678.5"/><use href="#b" x="687.5" y="659.5"/><use href="#b" x="688.5" y="687.5"/><use href="#b" x="688.5" y="678.5"/><use href="#b" x="689.5" y="674.5"/><use href="#b" x="689.5" y="692.5"/><use href="#b" x="690.5" y="674.5"/><use href="#b" x="691.5" y="674.5"/><use href="#b" x="691.5" y="670.5"/><use href="#b" x="692.5" y="670.5"/><use href="#b" x="692.5" y="674.5"/><use href="#b" x="693.5" y="692.5"/><use href="#b" x="694.5" y="666.5"/><use href="#b" x="694.5" y="678.5"/><use href="#b" x="695.5" y="687.5"/><use href="#b" x="695.5" y="678.5"/><use href="#b" x="696.5" y="659.5"/><use href="#b" x="697.5" y="674.5"/><use href="#b" x="697.5" y="674.5"/><use href="#b" x="698.5" y="678.5"/><use href="#b" x="698.5" y="674.5"/><use href="#b" x="699.5" y="674.5"/><use href="#b" x="700.5" y="670.5"/><use href="#b" x="700.5" y="678.5"/><use href="#b" x="701.5" y="674.5"/><use href="#b" x="701.5" y="670.5"/><use href="#b" x="702.5" y="663.5"/><use href="#b" x="703.5" y="659.5"/><use href="#b" x="703.5" y="678.5"/><use href="#b" x="704.5" y="674.5"/><use href="#b" x="705.5" y="674.5"/><use href="#b" x="705.5" y="678.5"/><use href="#b" x="706.5" y="666.5"/><use href="#b" x="706.5" y="663.5"/><use href="#b" x="707.5" y="683.5"/><use href="#b" x="708.5" y="678.5"/><use href="#b" x="708.5" y="678.5"/><use href="#b" x="709.5" y="670.5"/><use href="#b" x="709.5" y="692.5"/><use href="#b" x="710.5" y="666.5"/><use href="#b" x="711.5" y="666.5"/><use href="#b" x="711.5" y="674.5"/><use href="#b" x="712.5" y="666.5"/><use href="#b" x="712.5" y="666.5"/><use href="#b" x="713.5" y="683.5"/><use href="#b" x="714.5" y="670.5"/><use href="#b" x="714.5" y="692.5"/><use href="#b" x="715.5" y="683.5"/><use href="#b" x="715.5" y="670.5"/><use href="#b" x="716.5" y="670.5"/><use href="#b" x="717.5" y="687.5"/><use href="#b" x="717.5" y="659.5"/><use href="#b" x="718.5" y="670.5"/><use href="#b" x="718.5" y="653.5"/><use href="#b" x="719.5" y="670.5"/><use href="#b" x="720.5" y="692.5"/><use href="#b" x="720.5" y="683.5"/><use href="#b" x="721.5" y="666.5"/><use href="#b" x="721.5" y="683.5"/><use href="#b" x="722.5" y="674.5"/><use href="#b" x="723.5" y="670.5"/><use href="#b" x="723.5" y="674.5"/><use href="#b" x="724.5" y="683.5"/><use href="#b" x="725.5" y="678.5"/><use href="#b" x="725.5" y="663.5"/><use href="#b" x="726.5" y="666.5"/><use href="#b" x="726.5" y="678.5"/><use href="#b" x="727.5" y="698.5"/><use href="#b" x="728.5" y="678.5"/><use href="#b" x="728.5" y="683.5"/><use href="#b" x="729.5" y="698.5"/><use href="#b" x="729.5" y="666.5"/><use href="#b" x="730.5" y="683.5"/><use href="#b" x="731.5" y="659.5"/><use href="#b" x="731.5" y="703.5"/><use href="#b" x="732.5" y="678.5"/><use href="#b" x="732.5" y="670.5"/><use href="#b" x="733.5" y="670.5"/><use href="#b" x="734.5" y="678.5"/><use href="#b" x="734.5" y="678.5"/><use href="#b" x="735.5" y="687.5"/><use href="#b" x="735.5" y="674.5"/><use href="#b" x="736.5" y="683.5"/><use href="#b" x="737.5" y="678.5"/><use href="#b" x="737.5" y="674.5"/><use href="#b" x="738.5" y="698.5"/><use href="#b" x="738.5" y="666.5"/><use href="#b" x="739.5" y="692.5"/><use href="#b" x="740.5" y="692.5"/><use href="#b" x="740.5" y="678.5"/><use href="#b" x="741.5" y="683.5"/><use href="#b" x="742.5" y="687.5"/><use href="#b" x="742.5" y="678.5"/><use href="#b" x="743.5" y="678.5"/><use href="#b" x="743.5" y="674.5"/><use href="#b" x="744.5" y="674.5"/><use href="#b" x="745.5" y="687.5"/><use href="#b" x="745.5" y="678.5"/><use href="#b" x="746.5" y="698.5"/><use href="#b" x="746.5" y="692.5"/><use href="#b" x="747.5" y="683.5"/><use href="#b" x="748.5" y="670.5"/><use href="#b" x="748.5" y="683.5"/><use href="#b" x="749.5" y="683.5"/><use href="#b" x="749.5" y="683.5"/><use href="#b" x="750.5" y="687.5"/><use href="#b" x="751.5" y="678.5"/><use href="#b" x="751.5" y="683.5"/><use href="#b" x="752.5" y="683.5"/><use href="#b" x="752.5" y="687.5"/><use href="#b" x="753.5" y="678.5"/><use href="#b" x="754.5" y="678.5"/><use href="#b" x="754.5" y="674.5"/><use href="#b" x="755.5" y="674.5"/><use href="#b" x="755.5" y="678.5"/><use href="#b" x="756.5" y="683.5"/><use href="#b" x="757.5" y="678.5"/><use href="#b" x="757.5" y="692.5"/><use href="#b" x="758.5" y="698.5"/><use href="#b" x="758.5" y="692.5"/><use href="#b" x="759.5" y="687.5"/><use href="#b" x="760.5" y="674.5"/><use href="#b" x="760.5" y="703.5"/><use href="#b" x="761.5" y="692.5"/><use href="#b" x="762.5" y="692.5"/><use href="#b" x="762.5" y="683.5"/><use href="#b" x="763.5" y="692.5"/><use href="#b" x="763.5" y="698.5"/><use href="#b" x="764.5" y="698.5"/><use href="#b" x="765.5" y="683.5"/><use href="#b" x="765.5" y="670.5"/><use href="#b" x="766.5" y="698.5"/><use href="#b" x="766.5" y="692.5"/><use href="#b" x="767.5" y="692.5"/><use href="#b" x="768.5" y="687.5"/><use href="#b" x="768.5" y="670.5"/><use href="#b" x="769.5" y="692.5"/><use href="#b" x="769.5" y="687.5"/><use href="#b" x="770.5" y="687.5"/><use href="#b" x="771.5" y="683.5"/><use href="#b" x="771.5" y="674.5"/><use href="#b" x="772.5" y="692.5"/><use href="#b" x="772.5" y="692.5"/><use href="#b" x="773.5" y="659.5"/><use href="#b" x="774.5" y="683.5"/><use href="#b" x="774.5" y="692.5"/><use href="#b" x="775.5" y="692.5"/><use href="#b" x="775.5" y="687.5"/><use href="#b" x="776.5" y="683.5"/><use href="#b" x="777.5" y="692.5"/><use href="#b" x="777.5" y="692.5"/><use href="#b" x="778.5" y="687.5"/><use href="#b" x="779.5" y="692.5"/><use href="#b" x="779.5" y="692.5"/><use href="#b" x="780.5" y="692.5"/><use href="#b" x="780.5" y="698.5"/><use href="#b" x="781.5" y="698.5"/><use href="#b" x="782.5" y="687.5"/><use href="#b" x="782.5" y="670.5"/><use href="#b" x="783.5" y="687.5"/><use href="#b" x="783.5" y="687.5"/><use href="#b" x="784.5" y="678.5"/><use href="#b" x="785.5" y="692.5"/><use href="#b" x="785.5" y="687.5"/><use href="#b" x="786.5" y="703.5"/><use href="#b" x="786.5" y="687.5"/><use href="#b" x="787.5" y="674.5"/><use href="#b" x="788.5" y="687.5"/><use href="#b" x="788.5" y="687.5"/><use href="#b" x="789.5" y="687.5"/><use href="#b" x="789.5" y="683.5"/><use href="#b" x="790.5" y="683.5"/><use href="#b" x="791.5" y="687.5"/><use href="#b" x="791.5" y="698.5"/><use href="#b" x="792.5" y="692.5"/><use href="#b" x="792.5" y="678.5"/><use href="#b" x="793.5" y="674.5"/><use href="#b" x="794.5" y="683.5"/><use href="#b" x="794.5" y="692.5"/><use href="#b" x="795.5" y="683.5"/><use href="#b" x="796.5" y="683.5"/><use href="#b" x="796.5" y="687.5"/><use href="#b" x="797.5" y="683.5"/><use href="#b" x="797.5" y="674.5"/><use href="#b" x="798.5" y="674.5"/><use href="#b" x="799.5" y="678.5"/><use href="#b" x="799.5" y="692.5"/><use href="#b" x="800.5" y="703.5"/><use href="#b" x="800.5" y="698.5"/><use href="#b" x="801.5" y="683.5"/><use href="#b" x="802.5" y="687.5"/><use href="#b" x="802.5" y="687.5"/><use href="#b" x="803.5" y="683.5"/><use href="#b" x="803.5" y="687.5"/><use href="#b" x="804.5" y="692.5"/><use href="#b" x="805.5" y="687.5"/><use href="#b" x="805.5" y="683.5"/><use href="#b" x="806.5" y="698.5"/><use href="#b" x="806.5" y="692.5"/><use href="#b" x="807.5" y="683.5"/><use href="#b" x="808.5" y="683.5"/><use href="#b" x="808.5" y="683.5"/><use href="#b" x="809.5" y="687.5"/><use href="#b" x="809.5" y="687.5"/><use href="#b" x="810.5" y="692.5"/><use href="#b" x="811.5" y="692.5"/><use href="#b" x="811.5" y="692.5"/><use href="#b" x="812.5" y="692.5"/><use href="#b" x="812.5" y="687.5"/><use href="#b" x="813.5" y="698.5"/><use href="#b" x="814.5" y="698.5"/><use href="#b" x="814.5" y="692.5"/><use href="#b" x="815.5" y="683.5"/><use href="#b" x="816.5" y="683.5"/><use href="#b" x="816.5" y="698.5"/><use href="#b" x="817.5" y="692.5"/><use href="#b" x="817.5" y="692.5"/><use href="#b" x="818.5" y="692.5"/><use href="#b" x="819.5" y="687.5"/><use href="#b" x="819.5" y="687.5"/><use href="#b" x="820.5" y="687.5"/><use href="#b" x="820.5" y="687.5"/><use href="#b" x="821.5" y="683.5"/><use href="#b" x="822.5" y="683.5"/><use href="#b" x="822.5" y="698.5"/><use href="#b" x="823.5" y="698.5"/><use href="#b" x="823.5" y="698.5"/><use href="#b" x="824.5" y="692.5"/><use href="#b" x="825.5" y="698.5"/><use href="#b" x="825.5" y="692.5"/><use href="#b" x="826.5" y="692.5"/><use href="#b" x="826.5" y="687.5"/><use href="#b" x="827.5" y="692.5"/><use href="#b" x="828.5" y="678.5"/><use href="#b" x="828.5" y="687.5"/><use href="#b" x="829.5" y="692.5"/><use href="#b" x="829.5" y="687.5"/><use href="#b" x="830.5" y="698.5"/><use href="#b" x="831.5" y="683.5"/><use href="#b" x="831.5" y="698.5"/><use href="#b" x="832.5" y="687.5"/><use href="#b" x="833.5" y="692.5"/><use href="#b" x="833.5" y="692.5"/><use href="#b" x="834.5" y="692.5"/><use href="#b" x="834.5" y="683.5"/><use href="#b" x="835.5" y="698.5"/><use href="#b" x="836.5" y="703.5"/><use href="#b" x="836.5" y="678.5"/><use href="#b" x="837.5" y="683.5"/><use href="#b" x="837.5" y="678.5"/><use href="#b" x="838.5" y="698.5"/><use href="#b" x="839.5" y="698.5"/><use href="#b" x="839.5" y="692.5"/><use href="#b" x="840.5" y="687.5"/><use href="#b" x="840.5" y="698.5"/><use href="#b" x="841.5" y="687.5"/><use href="#b" x="842.5" y="687.5"/><use href="#b" x="842.5" y="703.5"/><use href="#b" x="843.5" y="687.5"/><use href="#b" x="843.5" y="692.5"/><use href="#b" x="844.5" y="692.5"/><use href="#b" x="845.5" y="698.5"/><use href="#b" x="845.5" y="692.5"/><use href="#b" x="846.5" y="692.5"/><use href="#b" x="846.5" y="692.5"/><use href="#b" x="847.5" y="698.5"/><use href="#b" x="848.5" y="692.5"/><use href="#b" x="848.5" y="703.5"/><use href="#b" x="849.5" y="692.5"/><use href="#b" x="849.5" y="692.5"/><use href="#b" x="850.5" y="698.5"/><use href="#b" x="851.5" y="692.5"/><use href="#b" x="851.5" y="698.5"/><use href="#b" x="852.5" y="703.5"/><use href="#b" x="853.5" y="692.5"/><use href="#b" x="853.5" y="698.5"/><use href="#b" x="854.5" y="687.5"/><use href="#b" x="854.5" y="698.5"/><use href="#b" x="855.5" y="692.5"/><use href="#b" x="856.5" y="698.5"/><use href="#b" x="856.5" y="703.5"/><use href="#b" x="857.5" y="703.5"/><use href="#b" x="857.5" y="692.5"/><use href="#b" x="858.5" y="698.5"/><use href="#b" x="859.5" y="687.5"/><use href="#b" x="859.5" y="692.5"/><use href="#b" x="860.5" y="692.5"/><use href="#b" x="860.5" y="703.5"/><use href="#b" x="861.5" y="683.5"/><use href="#b" x="862.5" y="692.5"/><use href="#b" x="862.5" y="692.5"/><use href="#b" x="863.5" y="698.5"/><use href="#b" x="863.5" y="692.5"/><use href="#b" x="864.5" y="692.5"/><use href="#b" x="865.5" y="698.5"/><use href="#b" x="865.5" y="698.5"/><use href="#b" x="866.5" y="687.5"/><use href="#b" x="866.5" y="683.5"/><use href="#b" x="867.5" y="692.5"/><use href="#b" x="868.5" y="692.5"/><use href="#b" x="868.5" y="692.5"/><use href="#b" x="869.5" y="687.5"/><use href="#b" x="870.5" y="703.5"/><use href="#b" x="870.5" y="698.5"/><use href="#b" x="871.5" y="687.5"/><use href="#b" x="871.5" y="692.5"/><use href="#b" x="872.5" y="692.5"/><use href="#b" x="873.5" y="698.5"/><use href="#b" x="873.5" y="698.5"/><use href="#b" x="874.5" y="692.5"/><use href="#b" x="874.5" y="703.5"/><use href="#b" x="875.5" y="692.5"/><use href="#b" x="876.5" y="692.5"/><use href="#b" x="876.5" y="703.5"/><use href="#b" x="877.5" y="687.5"/></g><g fill="#ff00ff"><use href="#m" x="173.5" y="773.5"/><use href="#m" x="174.5" y="705.5"/><use href="#m" x="174.5" y="751.5"/><use href="#m" x="175.5" y="818.5"/><use href="#m" x="176.5" y="745.5"/><use href="#m" x="176.5" y="708.5"/><use href="#m" x="177.5" y="739.5"/><use href="#m" x="177.5" y="782.5"/><use href="#m" x="178.5" y="739.5"/><use href="#m" x="179.5" y="758.5"/><use href="#m" x="179.5" y="782.5"/><use href="#m" x="180.5" y="739.5"/><use href="#m" x="180.5" y="782.5"/><use href="#m" x="181.5" y="724.5"/><use href="#m" x="182.5" y="712.5"/><use href="#m" x="182.5" y="729.5"/><use href="#m" x="183.5" y="716.5"/><use href="#m" x="183.5" y="729.5"/><use href="#m" x="184.5" y="765.5"/><use href="#m" x="185.5" y="792.5"/><use href="#m" x="185.5" y="758.5"/><use href="#m" x="186.5" y="734.5"/><use href="#m" x="186.5" y="739.5"/><use href="#m" x="187.5" y="765.5"/><use href="#m" x="188.5" y="745.5"/><use href="#m" x="188.5" y="724.5"/><use href="#m" x="189.5" y="716.5"/><use href="#m" x="189.5" y="765.5"/><use href="#m" x="190.5" y="720.5"/><use href="#m" x="191.5" y="695.5"/><use href="#m" x="191.5" y="734.5"/><use href="#m" x="192.5" y="745.5"/><use href="#m" x="193.5" y="773.5"/><use href="#m" x="193.5" y="792.5"/><use href="#m" x="194.5" y="698.5"/><use href="#m" x="194.5" y="739.5"/><use href="#m" x="195.5" y="734.5"/><use href="#m" x="196.5" y="765.5"/><use href="#m" x="196.5" y="758.5"/><use href="#m" x="197.5" y="765.5"/><use href="#m" x="197.5" y="773.5"/><use href="#m" x="198.5" y="751.5"/><use href="#m" x="199.5" y="712.5"/><use href="#m" x="199.5" y="705.5"/><use href="#m" x="200.5" y="804.5"/><use href="#m" x="200.5" y="745.5"/><use href="#m" x="201.5" y="804.5"/><use href="#m" x="202.5" y="765.5"/><use href="#m" x="202.5" y="751.5"/><use href="#m" x="203.5" y="734.5"/><use href="#m" x="203.5" y="835.5"/><use href="#m" x="205.5" y="773.5"/><use href="#m" x="205.5" y="695.5"/><use href="#m" x="206.5" y="765.5"/><use href="#m" x="206.5" y="792.5"/><use href="#m" x="207.5" y="745.5"/><use href="#m" x="208.5" y="739.5"/><use href="#m" x="208.5" y="804.5"/><use href="#m" x="209.5" y="773.5"/><use href="#m" x="210.5" y="729.5"/><use href="#m" x="210.5" y="773.5"/><use href="#m" x="211.5" y="716.5"/><use href="#m" x="211.5" y="758.5"/><use href="#m" x="212.5" y="745.5"/><use href="#m" x="213.5" y="734.5"/><use href="#m" x="213.5" y="724.5"/><use href="#m" x="214.5" y="758.5"/><use href="#m" x="214.5" y="758.5"/><use href="#m" x="215.5" y="692.5"/><use href="#m" x="216.5" y="745.5"/><use href="#m" x="216.5" y="724.5"/><use href="#m" x="217.5" y="792.5"/><use href="#m" x="217.5" y="724.5"/><use href="#m" x="218.5" y="745.5"/><use href="#m" x="219.5" y="765.5"/><use href="#m" x="219.5" y="716.5"/><use href="#m" x="220.5" y="745.5"/><use href="#m" x="220.5" y="745.5"/><use href="#m" x="221.5" y="745.5"/><use href="#m" x="222.5" y="773.5"/><use href="#m" x="222.5" y="773.5"/><use href="#m" x="223.5" y="818.5"/><use href="#m" x="223.5" y="739.5"/><use href="#m" x="224.5" y="745.5"/><use href="#m" x="225.5" y="729.5"/><use href="#m" x="225.5" y="708.5"/><use href="#m" x="226.5" y="716.5"/><use href="#m" x="226.5" y="654.5"/><use href="#m" x="227.5" y="663.5"/><use href="#m" x="228.5" y="647.5"/><use href="#m" x="228.5" y="623.5"/><use href="#m" x="229.5" y="624.5"/><use href="#m" x="230.5" y="572.5"/><use href="#m" x="230.5" y="555.5"/><use href="#m" x="231.5" y="525.5"/><use href="#m" x="231.5" y="497.5"/><use href="#m" x="232.5" y="470.5"/><use href="#m" x="233.5" y="444.5"/><use href="#m" x="233.5" y="421.5"/><use href="#m" x="234.5" y="394.5"/><use href="#m" x="234.5" y="371.5"/><use href="#m" x="235.5" y="350.5"/><use href="#m" x="236.5" y="327.5"/><use href="#m" x="236.5" y="306.5"/><use href="#m" x="237.5" y="288.5"/><use href="#m" x="237.5" y="269.5"/><use href="#m" x="238.5" y="252.5"/><use href="#m" x="239.5" y="236.5"/><use href="#m" x="239.5" y="219.5"/><use href="#m" x="240.5" y="206.5"/><use href="#m" x="240.5" y="192.5"/><use href="#m" x="241.5" y="179.5"/><use href="#m" x="242.5" y="168.5"/><use href="#m" x="242.5" y="157.5"/><use href="#m" x="243.5" y="147.5"/><use href="#m" x="243.5" y="138.5"/><use href="#m" x="244.5" y="130.5"/><use href="#m" x="245.5" y="122.5"/><use href="#m" x="245.5" y="116.5"/><use href="#m" x="246.5" y="110.5"/><use href="#m" x="247.5" y="105.5"/><use href="#m" x="247.5" y="101.5"/><use href="#m" x="248.5" y="97.5"/><use href="#m" x="248.5" y="94.5"/><use href="#m" x="249.5" y="92.5"/><use href="#m" x="250.5" y="91.5"/><use href="#m" x="250.5" y="90.5"/><use href="#m" x="251.5" y="89.5"/><use href="#m" x="251.5" y="90.5"/><use href="#m" x="252.5" y="90.5"/><use href="#m" x="253.5" y="91.5"/><use href="#m" x="253.5" y="92.5"/><use href="#m" x="254.5" y="94.5"/><use href="#m" x="254.5" y="96.5"/><use href="#m" x="255.5" y="98.5"/><use href="#m" x="256.5" y="100.5"/><use href="#m" x="256.5" y="103.5"/><use href="#m" x="257.5" y="106.5"/><use href="#m" x="257.5" y="109.5"/><use href="#m" x="258.5" y="111.5"/><use href="#m" x="259.5" y="114.5"/><use href="#m" x="259.5" y="118.5"/><use href="#m" x="260.5" y="121.5"/><use href="#m" x="260.5" y="124.5"/><use href="#m" x="261.5" y="127.5"/><use href="#m" x="262.5" y="130.5"/><use href="#m" x="262.5" y="133.5"/><use href="#m" x="263.5" y="136.5"/><use href="#m" x="263.5" y="140.5"/><use href="#m" x="264.5" y="142.5"/><use href="#m" x="265.5" y="146.5"/><use href="#m" x="265.5" y="149.5"/><use href="#m" x="266.5" y="152.5"/><use href="#m" x="267.5" y="155.5"/><use href="#m" x="267.5" y="159.5"/><use href="#m" x="268.5" y="161.5"/><use href="#m" x="268.5" y="164.5"/><use href="#m" x="269.5" y="167.5"/><use href="#m" x="270.5" y="171.5"/><use href="#m" x="270.5" y="174.5"/><use href="#m" x="271.5" y="177.5"/><use href="#m" x="271.5" y="181.5"/><use href="#m" x="272.5" y="183.5"/><use href="#m" x="273.5" y="186.5"/><use href="#m" x="273.5" y="189.5"/><use href="#m" x="274.5" y="192.5"/><use href="#m" x="274.5" y="195.5"/><use href="#m" x="275.5" y="198.5"/><use href="#m" x="276.5" y="201.5"/><use href="#m" x="276.5" y="204.5"/><use href="#m" x="277.5" y="206.5"/><use href="#m" x="277.5" y="210.5"/><use href="#m" x="278.5" y="212.5"/><use href="#m" x="279.5" y="215.5"/><use href="#m" x="279.5" y="217.5"/><use href="#m" x="280.5" y="221.5"/><use href="#m" x="280.5" y="223.5"/><use href="#m" x="281.5" y="226.5"/><use href="#m" x="282.5" y="228.5"/><use href="#m" x="282.5" y="231.5"/><use href="#m" x="283.5" y="234.5"/><use href="#m" x="284.5" y="236.5"/><use href="#m" x="284.5" y="240.5"/><use href="#m" x="285.5" y="242.5"/><use href="#m" x="285.5" y="245.5"/><use href="#m" x="286.5" y="247.5"/><use href="#m" x="287.5" y="250.5"/><use href="#m" x="287.5" y="252.5"/><use href="#m" x="288.5" y="255.5"/><use href="#m" x="288.5" y="257.5"/><use href="#m" x="289.5" y="260.5"/><use href="#m" x="290.5" y="263.5"/><use href="#m" x="290.5" y="265.5"/><use href="#m" x="291.5" y="268.5"/><use href="#m" x="291.5" y="270.5"/><use href="#m" x="292.5" y="273.5"/><use href="#m" x="293.5" y="275.5"/><use href="#m" x="293.5" y="278.5"/><use href="#m" x="294.5" y="280.5"/><use href="#m" x="294.5" y="282.5"/><use href="#m" x="295.5" y="285.5"/><use href="#m" x="296.5" y="287.5"/><use href="#m" x="296.5" y="289.5"/><use href="#m" x="297.5" y="291.5"/><use href="#m" x="297.5" y="292.5"/><use href="#m" x="298.5" y="295.5"/><use href="#m" x="299.5" y="298.5"/><use href="#m" x="299.5" y="299.5"/><use href="#m" x="300.5" y="302.5"/><use href="#m" x="300.5" y="304.5"/><use href="#m" x="301.5" y="306.5"/><use href="#m" x="302.5" y="309.5"/><use href="#m" x="302.5" y="310.5"/><use href="#m" x="303.5" y="314.5"/><use href="#m" x="304.5" y="314.5"/><use href="#m" x="304.5" y="316.5"/><use href="#m" x="305.5" y="318.5"/><use href="#m" x="305.5" y="320.5"/><use href="#m" x="306.5" y="323.5"/><use href="#m" x="307.5" y="325.5"/><use href="#m" x="307.5" y="327.5"/><use href="#m" x="308.5" y="330.5"/><use href="#m" x="308.5" y="331.5"/><use href="#m" x="309.5" y="334.5"/><use href="#m" x="310.5" y="335.5"/><use href="#m" x="310.5" y="336.5"/><use href="#m" x="311.5" y="339.5"/><use href="#m" x="311.5" y="341.5"/><use href="#m" x="312.5" y="344.5"/><use href="#m" x="313.5" y="344.5"/><use href="#m" x="313.5" y="346.5"/><use href="#m" x="314.5" y="349.5"/><use href="#m" x="314.5" y="350.5"/><use href="#m" x="315.5" y="352.5"/><use href="#m" x="316.5" y="356.5"/><use href="#m" x="316.5" y="355.5"/><use href="#m" x="317.5" y="357.5"/><use href="#m" x="317.5" y="360.5"/><use href="#m" x="318.5" y="361.5"/><use href="#m" x="319.5" y="362.5"/><use href="#m" x="319.5" y="363.5"/><use href="#m" x="320.5" y="366.5"/><use href="#m" x="321.5" y="368.5"/><use href="#m" x="321.5" y="370.5"/><use href="#m" x="322.5" y="372.5"/><use href="#m" x="322.5" y="373.5"/><use href="#m" x="323.5" y="376.5"/><use href="#m" x="324.5" y="377.5"/><use href="#m" x="324.5" y="379.5"/><use href="#m" x="325.5" y="381.5"/><use href="#m" x="325.5" y="383.5"/><use href="#m" x="326.5" y="384.5"/><use href="#m" x="327.5" y="385.5"/><use href="#m" x="327.5" y="387.5"/><use href="#m" x="328.5" y="388.5"/><use href="#m" x="328.5" y="390.5"/><use href="#m" x="329.5" y="393.5"/><use href="#m" x="330.5" y="393.5"/><use href="#m" x="330.5" y="397.5"/><use href="#m" x="331.5" y="397.5"/><use href="#m" x="331.5" y="399.5"/><use href="#m" x="332.5" y="401.5"/><use href="#m" x="333.5" y="401.5"/><use href="#m" x="333.5" y="403.5"/><use href="#m" x="334.5" y="404.5"/><use href="#m" x="334.5" y="407.5"/><use href="#m" x="335.5" y="407.5"/><use href="#m" x="336.5" y="409.5"/><use href="#m" x="336.5" y="413.5"/><use href="#m" x="337.5" y="409.5"/><use href="#m" x="338.5" y="414.5"/><use href="#m" x="338.5" y="417.5"/><use href="#m" x="339.5" y="419.5"/><use href="#m" x="339.5" y="419.5"/><use href="#m" x="340.5" y="421.5"/><use href="#m" x="341.5" y="423.5"/><use href="#m" x="341.5" y="423.5"/><use href="#m" x="342.5" y="424.5"/><use href="#m" x="342.5" y="427.5"/><use href="#m" x="343.5" y="428.5"/><use href="#m" x="344.5" y="427.5"/><use href="#m" x="344.5" y="431.5"/><use href="#m" x="345.5" y="432.5"/><use href="#m" x="345.5" y="432.5"/><use href="#m" x="346.5" y="436.5"/><use href="#m" x="347.5" y="439.5"/><use href="#m" x="347.5" y="436.5"/><use href="#m" x="348.5" y="439.5"/><use href="#m" x="348.5" y="441.5"/><use href="#m" x="349.5" y="441.5"/><use href="#m" x="350.5" y="447.5"/><use href="#m" x="350.5" y="444.5"/><use href="#m" x="351.5" y="445.5"/><use href="#m" x="351.5" y="445.5"/><use href="#m" x="352.5" y="446.5"/><use href="#m" x="353.5" y="450.5"/><use href="#m" x="353.5" y="451.5"/><use href="#m" x="354.5" y="450.5"/><use href="#m" x="354.5" y="455.5"/><use href="#m" x="355.5" y="457.5"/><use href="#m" x="356.5" y="455.5"/><use href="#m" x="356.5" y="458.5"/><use href="#m" x="357.5" y="461.5"/><use href="#m" x="358.5" y="457.5"/><use href="#m" x="358.5" y="464.5"/><use href="#m" x="359.5" y="465.5"/><use href="#m" x="359.5" y="468.5"/><use href="#m" x="360.5" y="465.5"/><use href="#m" x="361.5" y="467.5"/><use href="#m" x="361.5" y="471.5"/><use href="#m" x="362.5" y="468.5"/><use href="#m" x="362.5" y="471.5"/><use href="#m" x="363.5" y="472.5"/><use href="#m" x="364.5" y="471.5"/><use href="#m" x="364.5" y="477.5"/><use href="#m" x="365.5" y="475.5"/><use href="#m" x="365.5" y="478.5"/><use href="#m" x="366.5" y="479.5"/><use href="#m" x="367.5" y="478.5"/><use href="#m" x="367.5" y="481.5"/><use href="#m" x="368.5" y="481.5"/><use href="#m" x="368.5" y="484.5"/><use href="#m" x="369.5" y="485.5"/><use href="#m" x="370.5" y="485.5"/><use href="#m" x="370.5" y="490.5"/><use href="#m" x="371.5" y="489.5"/><use href="#m" x="371.5" y="492.5"/><use href="#m" x="372.5" y="488.5"/><use href="#m" x="373.5" y="489.5"/><use href="#m" x="373.5" y="496.5"/><use href="#m" x="374.5" y="491.5"/><use href="#m" x="375.5" y="497.5"/><use href="#m" x="375.5" y="500.5"/><use href="#m" x="376.5" y="501.5"/><use href="#m" x="376.5" y="496.5"/><use href="#m" x="377.5" y="499.5"/><use href="#m" x="378.5" y="501.5"/><use href="#m" x="378.5" y="497.5"/><use href="#m" x="379.5" y="502.5"/><use href="#m" x="379.5" y="506.5"/><use href="#m" x="380.5" y="504.5"/><use href="#m" x="381.5" y="505.5"/><use href="#m" x="381.5" y="510.5"/><use href="#m" x="382.5" y="515.5"/><use href="#m" x="382.5" y="508.5"/><use href="#m" x="383.5" y="508.5"/><use href="#m" x="384.5" y="514.5"/><use href="#m" x="384.5" y="517.5"/><use href="#m" x="385.5" y="513.5"/><use href="#m" x="385.5" y="513.5"/><use href="#m" x="386.5" y="519.5"/><use href="#m" x="387.5" y="520.5"/><use href="#m" x="387.5" y="518.5"/><use href="#m" x="388.5" y="518.5"/><use href="#m" x="388.5" y="522.5"/><use href="#m" x="389.5" y="516.5"/><use href="#m" x="390.5" y="520.5"/><use href="#m" x="390.5" y="521.5"/><use href="#m" x="391.5" y="523.5"/><use href="#m" x="391.5" y="525.5"/><use href="#m" x="392.5" y="524.5"/><use href="#m" x="393.5" y="524.5"/><use href="#m" x="393.5" y="530.5"/><use href="#m" x="394.5" y="532.5"/><use href="#m" x="395.5" y="532.5"/><use href="#m" x="395.5" y="533.5"/><use href="#m" x="396.5" y="538.5"/><use href="#m" x="396.5" y="533.5"/><use href="#m" x="397.5" y="531.5"/><use href="#m" x="398.5" y="535.5"/><use href="#m" x="398.5" y="539.5"/><use href="#m" x="399.5" y="542.5"/><use href="#m" x="399.5" y="544.5"/><use href="#m" x="400.5" y="540.5"/><use href="#m" x="401.5" y="535.5"/><use href="#m" x="401.5" y="537.5"/><use href="#m" x="402.5" y="540.5"/><use href="#m" x="402.5" y="540.5"/><use href="#m" x="403.5" y="542.5"/><use href="#m" x="404.5" y="550.5"/><use href="#m" x="404.5" y="551.5"/><use href="#m" x="405.5" y="546.5"/><use href="#m" x="405.5" y="550.5"/><use href="#m" x="406.5" y="542.5"/><use href="#m" x="407.5" y="543.5"/><use href="#m" x="407.5" y="544.5"/><use href="#m" x="408.5" y="555.5"/><use href="#m" x="408.5" y="547.5"/><use href="#m" x="409.5" y="558.5"/><use href="#m" x="410.5" y="557.5"/><use href="#m" x="410.5" y="558.5"/><use href="#m" x="411.5" y="556.5"/><use href="#m" x="412.5" y="557.5"/><use href="#m" x="412.5" y="557.5"/><use href="#m" x="413.5" y="558.5"/><use href="#m" x="413.5" y="560.5"/><use href="#m" x="414.5" y="564.5"/><use href="#m" x="415.5" y="560.5"/><use href="#m" x="415.5" y="561.5"/><use href="#m" x="416.5" y="564.5"/><use href="#m" x="416.5" y="572.5"/><use href="#m" x="417.5" y="561.5"/><use href="#m" x="418.5" y="569.5"/><use href="#m" x="418.5" y="559.5"/><use href="#m" x="419.5" y="565.5"/><use href="#m" x="419.5" y="567.5"/><use href="#m" x="420.5" y="575.5"/><use href="#m" x="421.5" y="567.5"/><use href="#m" x="421.5" y="576.5"/><use href="#m" x="422.5" y="567.5"/><use href="#m" x="422.5" y="573.5"/><use href="#m" x="423.5" y="575.5"/><use href="#m" x="424.5" y="572.5"/><use href="#m" x="424.5" y="572.5"/><use href="#m" x="425.5" y="567.5"/><use href="#m" x="425.5" y="566.5"/><use href="#m" x="426.5" y="568.5"/><use href="#m" x="427.5" y="572.5"/><use href="#m" x="427.5" y="577.5"/><use href="#m" x="428.5" y="575.5"/><use href="#m" x="428.5" y="577.5"/><use href="#m" x="429.5" y="595.5"/><use href="#m" x="430.5" y="579.5"/><use href="#m" x="430.5" y="590.5"/><use href="#m" x="431.5" y="571.5"/><use href="#m" x="432.5" y="589.5"/><use href="#m" x="432.5" y="596.5"/><use href="#m" x="433.5" y="576.5"/><use href="#m" x="433.5" y="579.5"/><use href="#m" x="434.5" y="579.5"/><use href="#m" x="435.5" y="585.5"/><use href="#m" x="435.5" y="586.5"/><use href="#m" x="436.5" y="574.5"/><use href="#m" x="436.5" y="580.5"/><use href="#m" x="437.5" y="598.5"/><use href="#m" x="438.5" y="592.5"/><use href="#m" x="438.5" y="585.5"/><use href="#m" x="439.5" y="587.5"/><use href="#m" x="439.5" y="592.5"/><use href="#m" x="440.5" y="579.5"/><use href="#m" x="441.5" y="584.5"/><use href="#m" x="441.5" y="594.5"/><use href="#m" x="442.5" y="606.5"/><use href="#m" x="442.5" y="589.5"/><use href="#m" x="443.5" y="589.5"/><use href="#m" x="444.5" y="602.5"/><use href="#m" x="444.5" y="595.5"/><use href="#m" x="445.5" y="596.5"/><use href="#m" x="445.5" y="601.5"/><use href="#m" x="446.5" y="611.5"/><use href="#m" x="447.5" y="583.5"/><use href="#m" x="447.5" y="591.5"/><use href="#m" x="448.5" y="609.5"/><use href="#m" x="449.5" y="612.5"/><use href="#m" x="449.5" y="606.5"/><use href="#m" x="450.5" y="606.5"/><use href="#m" x="450.5" y="595.5"/><use href="#m" x="451.5" y="606.5"/><use href="#m" x="452.5" y="601.5"/><use href="#m" x="452.5" y="597.5"/><use href="#m" x="453.5" y="617.5"/><use href="#m" x="453.5" y="601.5"/><use href="#m" x="454.5" y="623.5"/><use href="#m" x="455.5" y="627.5"/><use href="#m" x="455.5" y="597.5"/><use href="#m" x="456.5" y="594.5"/><use href="#m" x="456.5" y="615.5"/><use href="#m" x="457.5" y="610.5"/><use href="#m" x="458.5" y="598.5"/><use href="#m" x="458.5" y="596.5"/><use href="#m" x="459.5" y="609.5"/><use href="#m" x="459.5" y="607.5"/><use href="#m" x="460.5" y="633.5"/><use href="#m" x="461.5" y="621.5"/><use href="#m" x="461.5" y="612.5"/><use href="#m" x="462.5" y="619.5"/><use href="#m" x="462.5" y="614.5"/><use href="#m" x="463.5" y="610.5"/><use href="#m" x="464.5" y="611.5"/><use href="#m" x="464.5" y="621.5"/><use href="#m" x="465.5" y="597.5"/><use href="#m" x="465.5" y="615.5"/><use href="#m" x="466.5" y="615.5"/><use href="#m" x="467.5" y="632.5"/><use href="#m" x="467.5" y="614.5"/><use href="#m" x="468.5" y="621.5"/><use href="#m" x="469.5" y="620.5"/><use href="#m" x="469.5" y="626.5"/><use href="#m" x="470.5" y="620.5"/><use href="#m" x="470.5" y="638.5"/><use href="#m" x="471.5" y="615.5"/><use href="#m" x="472.5" y="627.5"/><use href="#m" x="472.5" y="608.5"/><use href="#m" x="473.5" y="644.5"/><use href="#m" x="473.5" y="626.5"/><use href="#m" x="474.5" y="623.5"/><use href="#m" x="475.5" y="612.5"/><use href="#m" x="475.5" y="620.5"/><use href="#m" x="476.5" y="638.5"/><use href="#m" x="476.5" y="623.5"/><use href="#m" x="477.5" y="623.5"/><use href="#m" x="478.5" y="626.5"/><use href="#m" x="478.5" y="600.5"/><use href="#m" x="479.5" y="629.5"/><use href="#m" x="479.5" y="622.5"/><use href="#m" x="480.5" y="624.5"/><use href="#m" x="481.5" y="645.5"/><use href="#m" x="481.5" y="633.5"/><use href="#m" x="482.5" y="629.5"/><use href="#m" x="482.5" y="619.5"/><use href="#m" x="483.5" y="641.5"/><use href="#m" x="484.5" y="654.5"/><use href="#m" x="484.5" y="644.5"/><use href="#m" x="485.5" y="639.5"/><use href="#m" x="486.5" y="613.5"/><use href="#m" x="486.5" y="628.5"/><use href="#m" x="487.5" y="648.5"/><use href="#m" x="487.5" y="635.5"/><use href="#m" x="488.5" y="623.5"/><use href="#m" x="489.5" y="645.5"/><use href="#m" x="489.5" y="624.5"/><use href="#m" x="490.5" y="639.5"/><use href="#m" x="490.5" y="645.5"/><use href="#m" x="491.5" y="628.5"/><use href="#m" x="492.5" y="648.5"/><use href="#m" x="492.5" y="641.5"/><use href="#m" x="493.5" y="635.5"/><use href="#m" x="493.5" y="641.5"/><use href="#m" x="494.5" y="661.5"/><use href="#m" x="495.5" y="648.5"/><use href="#m" x="495.5" y="638.5"/><use href="#m" x="496.5" y="636.5"/><use href="#m" x="496.5" y="665.5"/><use href="#m" x="497.5" y="648.5"/><use href="#m" x="498.5" y="652.5"/><use href="#m" x="498.5" y="654.5"/><use href="#m" x="499.5" y="647.5"/><use href="#m" x="499.5" y="647.5"/><use href="#m" x="500.5" y="648.5"/><use href="#m" x="501.5" y="647.5"/><use href="#m" x="501.5" y="669.5"/><use href="#m" x="502.5" y="650.5"/><use href="#m" x="503.5" y="642.5"/><use href="#m" x="503.5" y="639.5"/><use href="#m" x="504.5" y="636.5"/><use href="#m" x="504.5" y="665.5"/><use href="#m" x="505.5" y="663.5"/><use href="#m" x="506.5" y="638.5"/><use href="#m" x="506.5" y="628.5"/><use href="#m" x="507.5" y="641.5"/><use href="#m" x="507.5" y="674.5"/><use href="#m" x="508.5" y="633.5"/><use href="#m" x="509.5" y="659.5"/><use href="#m" x="509.5" y="659.5"/><use href="#m" x="510.5" y="659.5"/><use href="#m" x="510.5" y="657.5"/><use href="#m" x="511.5" y="648.5"/><use href="#m" x="512.5" y="659.5"/><use href="#m" x="512.5" y="655.5"/><use href="#m" x="513.5" y="639.5"/><use href="#m" x="513.5" y="652.5"/><use href="#m" x="514.5" y="641.5"/><use href="#m" x="515.5" y="644.5"/><use href="#m" x="515.5" y="642.5"/><use href="#m" x="516.5" y="676.5"/><use href="#m" x="516.5" y="635.5"/><use href="#m" x="517.5" y="661.5"/><use href="#m" x="518.5" y="657.5"/><use href="#m" x="518.5" y="647.5"/><use href="#m" x="519.5" y="650.5"/><use href="#m" x="519.5" y="657.5"/><use href="#m" x="520.5" y="633.5"/><use href="#m" x="521.5" y="665.5"/><use href="#m" x="521.5" y="654.5"/><use href="#m" x="522.5" y="654.5"/><use href="#m" x="523.5" y="648.5"/><use href="#m" x="523.5" y="645.5"/><use href="#m" x="524.5" y="665.5"/><use href="#m" x="524.5" y="695.5"/><use href="#m" x="525.5" y="652.5"/><use href="#m" x="526.5" y="657.5"/><use href="#m" x="526.5" y="654.5"/><use href="#m" x="527.5" y="659.5"/><use href="#m" x="527.5" y="665.5"/><use href="#m" x="528.5" y="667.5"/><use href="#m" x="529.5" y="661.5"/><use href="#m" x="529.5" y="669.5"/><use href="#m" x="530.5" y="645.5"/><use href="#m" x="530.5" y="661.5"/><use href="#m" x="531.5" y="650.5"/><use href="#m" x="532.5" y="657.5"/><use href="#m" x="532.5" y="676.5"/><use href="#m" x="533.5" y="681.5"/><use href="#m" x="533.5" y="665.5"/><use href="#m" x="534.5" y="661.5"/><use href="#m" x="535.5" y="661.5"/><use href="#m" x="535.5" y="665.5"/><use href="#m" x="536.5" y="652.5"/><use href="#m" x="536.5" y="654.5"/><use href="#m" x="537.5" y="657.5"/><use href="#m" x="538.5" y="650.5"/><use href="#m" x="538.5" y="635.5"/><use href="#m" x="539.5" y="661.5"/><use href="#m" x="540.5" y="681.5"/><use href="#m" x="540.5" y="678.5"/><use href="#m" x="541.5" y="684.5"/><use href="#m" x="541.5" y="663.5"/><use href="#m" x="542.5" y="665.5"/><use href="#m" x="543.5" y="645.5"/><use href="#m" x="543.5" y="655.5"/><use href="#m" x="544.5" y="681.5"/><use href="#m" x="544.5" y="669.5"/><use href="#m" x="545.5" y="689.5"/><use href="#m" x="546.5" y="654.5"/><use href="#m" x="546.5" y="681.5"/><use href="#m" x="547.5" y="663.5"/><use href="#m" x="547.5" y="657.5"/><use href="#m" x="548.5" y="676.5"/><use href="#m" x="549.5" y="674.5"/><use href="#m" x="549.5" y="678.5"/><use href="#m" x="550.5" y="676.5"/><use href="#m" x="550.5" y="674.5"/><use href="#m" x="551.5" y="657.5"/><use href="#m" x="552.5" y="678.5"/><use href="#m" x="552.5" y="669.5"/><use href="#m" x="553.5" y="659.5"/><use href="#m" x="553.5" y="695.5"/><use href="#m" x="554.5" y="681.5"/><use href="#m" x="555.5" y="647.5"/><use href="#m" x="555.5" y="669.5"/><use href="#m" x="556.5" y="663.5"/><use href="#m" x="556.5" y="652.5"/><use href="#m" x="557.5" y="669.5"/><use href="#m" x="558.5" y="669.5"/><use href="#m" x="558.5" y="667.5"/><use href="#m" x="559.5" y="671.5"/><use href="#m" x="560.5" y="676.5"/><use href="#m" x="560.5" y="671.5"/><use href="#m" x="561.5" y="686.5"/><use href="#m" x="561.5" y="657.5"/><use href="#m" x="562.5" y="678.5"/><use href="#m" x="563.5" y="684.5"/><use href="#m" x="563.5" y="684.5"/><use href="#m" x="564.5" y="657.5"/><use href="#m" x="564.5" y="686.5"/><use href="#m" x="565.5" y="684.5"/><use href="#m" x="566.5" y="686.5"/><use href="#m" x="566.5" y="689.5"/><use href="#m" x="567.5" y="712.5"/><use href="#m" x="567.5" y="689.5"/><use href="#m" x="568.5" y="684.5"/><use href="#m" x="569.5" y="695.5"/><use href="#m" x="569.5" y="667.5"/><use href="#m" x="570.5" y="708.5"/><use href="#m" x="570.5" y="681.5"/><use href="#m" x="571.5" y="676.5"/><use href="#m" x="572.5" y="671.5"/><use href="#m" x="572.5" y="659.5"/><use href="#m" x="573.5" y="667.5"/><use href="#m" x="573.5" y="678.5"/><use href="#m" x="574.5" y="671.5"/><use href="#m" x="575.5" y="686.5"/><use href="#m" x="575.5" y="671.5"/><use href="#m" x="576.5" y="665.5"/><use href="#m" x="577.5" y="671.5"/><use href="#m" x="577.5" y="669.5"/><use href="#m" x="578.5" y="684.5"/><use href="#m" x="578.5" y="678.5"/><use href="#m" x="579.5" y="678.5"/><use href="#m" x="580.5" y="686.5"/><use href="#m" x="580.5" y="684.5"/><use href="#m" x="581.5" y="695.5"/><use href="#m" x="581.5" y="692.5"/><use href="#m" x="582.5" y="671.5"/><use href="#m" x="583.5" y="689.5"/><use href="#m" x="583.5" y="712.5"/><use href="#m" x="584.5" y="669.5"/><use href="#m" x="584.5" y="729.5"/><use href="#m" x="585.5" y="686.5"/><use href="#m" x="586.5" y="695.5"/><use href="#m" x="586.5" y="681.5"/><use href="#m" x="587.5" y="667.5"/><use href="#m" x="587.5" y="698.5"/><use href="#m" x="588.5" y="681.5"/><use href="#m" x="589.5" y="701.5"/><use href="#m" x="589.5" y="678.5"/><use href="#m" x="590.5" y="678.5"/><use href="#m" x="590.5" y="689.5"/><use href="#m" x="591.5" y="678.5"/><use href="#m" x="592.5" y="684.5"/><use href="#m" x="592.5" y="705.5"/><use href="#m" x="593.5" y="684.5"/><use href="#m" x="593.5" y="678.5"/><use href="#m" x="594.5" y="712.5"/><use href="#m" x="595.5" y="674.5"/><use href="#m" x="595.5" y="698.5"/><use href="#m" x="596.5" y="689.5"/><use href="#m" x="597.5" y="701.5"/><use href="#m" x="597.5" y="678.5"/><use href="#m" x="598.5" y="686.5"/><use href="#m" x="598.5" y="692.5"/><use href="#m" x="599.5" y="716.5"/><use href="#m" x="600.5" y="674.5"/><use href="#m" x="600.5" y="674.5"/><use href="#m" x="601.5" y="716.5"/><use href="#m" x="601.5" y="708.5"/><use href="#m" x="602.5" y="667.5"/><use href="#m" x="603.5" y="686.5"/><use href="#m" x="603.5" y="678.5"/><use href="#m" x="604.5" y="686.5"/><use href="#m" x="604.5" y="701.5"/><use href="#m" x="605.5" y="678.5"/><use href="#m" x="606.5" y="698.5"/><use href="#m" x="606.5" y="695.5"/><use href="#m" x="607.5" y="692.5"/><use href="#m" x="607.5" y="684.5"/><use href="#m" x="608.5" y="689.5"/><use href="#m" x="609.5" y="674.5"/><use href="#m" x="609.5" y="686.5"/><use href="#m" x="610.5" y="686.5"/><use href="#m" x="610.5" y="701.5"/><use href="#m" x="611.5" y="678.5"/><use href="#m" x="612.5" y="686.5"/><use href="#m" x="612.5" y="678.5"/><use href="#m" x="613.5" y="676.5"/><use href="#m" x="614.5" y="724.5"/><use href="#m" x="614.5" y="716.5"/><use href="#m" x="615.5" y="701.5"/><use href="#m" x="615.5" y="686.5"/><use href="#m" x="616.5" y="692.5"/><use href="#m" x="617.5" y="705.5"/><use href="#m" x="617.5" y="692.5"/><use href="#m" x="618.5" y="692.5"/><use href="#m" x="618.5" y="712.5"/><use href="#m" x="619.5" y="695.5"/><use href="#m" x="620.5" y="724.5"/><use href="#m" x="620.5" y="671.5"/><use href="#m" x="621.5" y="671.5"/><use href="#m" x="621.5" y="671.5"/><use href="#m" x="622.5" y="712.5"/><use href="#m" x="623.5" y="701.5"/><use href="#m" x="623.5" y="692.5"/><use href="#m" x="624.5" y="712.5"/><use href="#m" x="624.5" y="705.5"/><use href="#m" x="625.5" y="686.5"/><use href="#m" x="626.5" y="667.5"/><use href="#m" x="626.5" y="705.5"/><use href="#m" x="627.5" y="681.5"/><use href="#m" x="627.5" y="667.5"/><use href="#m" x="628.5" y="701.5"/><use href="#m" x="629.5" y="716.5"/><use href="#m" x="629.5" y="689.5"/><use href="#m" x="630.5" y="701.5"/><use href="#m" x="631.5" y="692.5"/><use href="#m" x="631.5" y="689.5"/><use href="#m" x="632.5" y="698.5"/><use href="#m" x="632.5" y="701.5"/><use href="#m" x="633.5" y="724.5"/><use href="#m" x="634.5" y="689.5"/><use href="#m" x="634.5" y="689.5"/><use href="#m" x="635.5" y="712.5"/><use href="#m" x="635.5" y="681.5"/><use href="#m" x="636.5" y="716.5"/><use href="#m" x="637.5" y="692.5"/><use href="#m" x="637.5" y="705.5"/><use href="#m" x="638.5" y="671.5"/><use href="#m" x="638.5" y="689.5"/><use href="#m" x="639.5" y="712.5"/><use href="#m" x="640.5" y="716.5"/><use href="#m" x="640.5" y="712.5"/><use href="#m" x="641.5" y="698.5"/><use href="#m" x="641.5" y="671.5"/><use href="#m" x="642.5" y="692.5"/><use href="#m" x="643.5" y="686.5"/><use href="#m" x="643.5" y="716.5"/><use href="#m" x="644.5" y="751.5"/><use href="#m" x="644.5" y="701.5"/><use href="#m" x="645.5" y="698.5"/><use href="#m" x="646.5" y="692.5"/><use href="#m" x="646.5" y="689.5"/><use href="#m" x="647.5" y="739.5"/><use href="#m" x="647.5" y="712.5"/><use href="#m" x="648.5" y="695.5"/><use href="#m" x="649.5" y="676.5"/><use href="#m" x="649.5" y="678.5"/><use href="#m" x="650.5" y="705.5"/><use href="#m" x="651.5" y="698.5"/><use href="#m" x="651.5" y="708.5"/><use href="#m" x="652.5" y="701.5"/><use href="#m" x="652.5" y="758.5"/><use href="#m" x="653.5" y="724.5"/><use href="#m" x="654.5" y="686.5"/><use href="#m" x="654.5" y="712.5"/><use href="#m" x="655.5" y="751.5"/><use href="#m" x="655.5" y="716.5"/><use href="#m" x="656.5" y="684.5"/><use href="#m" x="657.5" y="689.5"/><use href="#m" x="657.5" y="698.5"/><use href="#m" x="658.5" y="678.5"/><use href="#m" x="658.5" y="701.5"/><use href="#m" x="659.5" y="708.5"/><use href="#m" x="660.5" y="695.5"/><use href="#m" x="660.5" y="712.5"/><use href="#m" x="661.5" y="724.5"/><use href="#m" x="661.5" y="734.5"/><use href="#m" x="662.5" y="708.5"/><use href="#m" x="663.5" y="720.5"/><use href="#m" x="663.5" y="716.5"/><use href="#m" x="664.5" y="695.5"/><use href="#m" x="664.5" y="708.5"/><use href="#m" x="665.5" y="729.5"/><use href="#m" x="666.5" y="758.5"/><use href="#m" x="666.5" y="698.5"/><use href="#m" x="667.5" y="701.5"/><use href="#m" x="668.5" y="705.5"/><use href="#m" x="668.5" y="705.5"/><use href="#m" x="669.5" y="720.5"/><use href="#m" x="669.5" y="712.5"/><use href="#m" x="670.5" y="739.5"/><use href="#m" x="671.5" y="695.5"/><use href="#m" x="671.5" y="708.5"/><use href="#m" x="672.5" y="712.5"/><use href="#m" x="672.5" y="705.5"/><use href="#m" x="673.5" y="720.5"/><use href="#m" x="674.5" y="716.5"/><use href="#m" x="674.5" y="751.5"/><use href="#m" x="675.5" y="720.5"/><use href="#m" x="675.5" y="708.5"/><use href="#m" x="676.5" y="724.5"/><use href="#m" x="677.5" y="712.5"/><use href="#m" x="677.5" y="684.5"/><use href="#m" x="678.5" y="695.5"/><use href="#m" x="678.5" y="695.5"/><use href="#m" x="679.5" y="695.5"/><use href="#m" x="680.5" y="720.5"/><use href="#m" x="680.5" y="708.5"/><use href="#m" x="681.5" y="712.5"/><use href="#m" x="681.5" y="745.5"/><use href="#m" x="682.5" y="698.5"/><use href="#m" x="683.5" y="716.5"/><use href="#m" x="683.5" y="701.5"/><use href="#m" x="684.5" y="705.5"/><use href="#m" x="684.5" y="712.5"/><use href="#m" x="685.5" y="739.5"/><use href="#m" x="686.5" y="773.5"/><use href="#m" x="686.5" y="701.5"/><use href="#m" x="687.5" y="708.5"/><use href="#m" x="688.5" y="716.5"/><use href="#m" x="688.5" y="734.5"/><use href="#m" x="689.5" y="684.5"/><use href="#m" x="689.5" y="712.5"/><use href="#m" x="690.5" y="678.5"/><use href="#m" x="691.5" y="701.5"/><use href="#m" x="691.5" y="739.5"/><use href="#m" x="692.5" y="708.5"/><use href="#m" x="692.5" y="720.5"/><use href="#m" x="693.5" y="701.5"/><use href="#m" x="694.5" y="676.5"/><use href="#m" x="694.5" y="716.5"/><use href="#m" x="695.5" y="701.5"/><use href="#m" x="695.5" y="708.5"/><use href="#m" x="696.5" y="686.5"/><use href="#m" x="697.5" y="705.5"/><use href="#m" x="697.5" y="720.5"/><use href="#m" x="698.5" y="720.5"/><use href="#m" x="698.5" y="695.5"/><use href="#m" x="699.5" y="708.5"/><use href="#m" x="700.5" y="712.5"/><use href="#m" x="700.5" y="705.5"/><use href="#m" x="701.5" y="684.5"/><use href="#m" x="701.5" y="734.5"/><use href="#m" x="702.5" y="701.5"/><use href="#m" x="703.5" y="698.5"/><use href="#m" x="703.5" y="724.5"/><use href="#m" x="704.5" y="698.5"/><use href="#m" x="705.5" y="708.5"/><use href="#m" x="705.5" y="701.5"/><use href="#m" x="706.5" y="739.5"/><use href="#m" x="706.5" y="712.5"/><use href="#m" x="707.5" y="684.5"/><use href="#m" x="708.5" y="720.5"/><use href="#m" x="708.5" y="712.5"/><use href="#m" x="709.5" y="698.5"/><use href="#m" x="709.5" y="716.5"/><use href="#m" x="710.5" y="692.5"/><use href="#m" x="711.5" y="689.5"/><use href="#m" x="711.5" y="708.5"/><use href="#m" x="712.5" y="698.5"/><use href="#m" x="712.5" y="729.5"/><use href="#m" x="713.5" y="712.5"/><use href="#m" x="714.5" y="681.5"/><use href="#m" x="714.5" y="716.5"/><use href="#m" x="715.5" y="701.5"/><use href="#m" x="715.5" y="698.5"/><use href="#m" x="716.5" y="708.5"/><use href="#m" x="717.5" y="739.5"/><use href="#m" x="717.5" y="698.5"/><use href="#m" x="718.5" y="729.5"/><use href="#m" x="718.5" y="712.5"/><use href="#m" x="719.5" y="686.5"/><use href="#m" x="720.5" y="701.5"/><use href="#m" x="720.5" y="684.5"/><use href="#m" x="721.5" y="720.5"/><use href="#m" x="721.5" y="684.5"/><use href="#m" x="722.5" y="729.5"/><use href="#m" x="723.5" y="739.5"/><use href="#m" x="723.5" y="701.5"/><use href="#m" x="724.5" y="724.5"/><use href="#m" x="725.5" y="716.5"/><use href="#m" x="725.5" y="739.5"/><use href="#m" x="726.5" y="745.5"/><use href="#m" x="726.5" y="705.5"/><use href="#m" x="727.5" y="751.5"/><use href="#m" x="728.5" y="705.5"/><use href="#m" x="728.5" y="724.5"/><use href="#m" x="729.5" y="708.5"/><use href="#m" x="729.5" y="716.5"/><use href="#m" x="730.5" y="739.5"/><use href="#m" x="731.5" y="695.5"/><use href="#m" x="731.5" y="739.5"/><use href="#m" x="732.5" y="720.5"/><use href="#m" x="732.5" y="724.5"/><use href="#m" x="733.5" y="712.5"/><use href="#m" x="734.5" y="701.5"/><use href="#m" x="734.5" y="739.5"/><use href="#m" x="735.5" y="720.5"/><use href="#m" x="735.5" y="705.5"/><use href="#m" x="736.5" y="701.5"/><use href="#m" x="737.5" y="724.5"/><use href="#m" x="737.5" y="708.5"/><use href="#m" x="738.5" y="724.5"/><use href="#m" x="738.5" y="773.5"/><use href="#m" x="739.5" y="689.5"/><use href="#m" x="740.5" y="671.5"/><use href="#m" x="740.5" y="681.5"/><use href="#m" x="741.5" y="716.5"/><use href="#m" x="742.5" y="698.5"/><use href="#m" x="742.5" y="701.5"/><use href="#m" x="743.5" y="716.5"/><use href="#m" x="743.5" y="686.5"/><use href="#m" x="744.5" y="698.5"/><use href="#m" x="745.5" y="705.5"/><use href="#m" x="745.5" y="698.5"/><use href="#m" x="746.5" y="724.5"/><use href="#m" x="746.5" y="701.5"/><use href="#m" x="747.5" y="724.5"/><use href="#m" x="748.5" y="751.5"/><use href="#m" x="748.5" y="739.5"/><use href="#m" x="749.5" y="701.5"/><use href="#m" x="749.5" y="705.5"/><use href="#m" x="750.5" y="716.5"/><use href="#m" x="751.5" y="701.5"/><use href="#m" x="751.5" y="681.5"/><use href="#m" x="752.5" y="720.5"/><use href="#m" x="752.5" y="716.5"/><use href="#m" x="753.5" y="708.5"/><use href="#m" x="754.5" y="698.5"/><use href="#m" x="754.5" y="716.5"/><use href="#m" x="755.5" y="712.5"/><use href="#m" x="755.5" y="692.5"/><use href="#m" x="756.5" y="695.5"/><use href="#m" x="757.5" y="716.5"/><use href="#m" x="757.5" y="712.5"/><use href="#m" x="758.5" y="698.5"/><use href="#m" x="758.5" y="708.5"/><use href="#m" x="759.5" y="695.5"/><use href="#m" x="760.5" y="729.5"/><use href="#m" x="760.5" y="698.5"/><use href="#m" x="761.5" y="745.5"/><use href="#m" x="762.5" y="724.5"/><use href="#m" x="762.5" y="745.5"/><use href="#m" x="763.5" y="692.5"/><use href="#m" x="763.5" y="729.5"/><use href="#m" x="764.5" y="712.5"/><use href="#m" x="765.5" y="716.5"/><use href="#m" x="765.5" y="712.5"/><use href="#m" x="766.5" y="751.5"/><use href="#m" x="766.5" y="708.5"/><use href="#m" x="767.5" y="689.5"/><use href="#m" x="768.5" y="729.5"/><use href="#m" x="768.5" y="705.5"/><use href="#m" x="769.5" y="720.5"/><use href="#m" x="769.5" y="701.5"/><use href="#m" x="770.5" y="708.5"/><use href="#m" x="771.5" y="720.5"/><use href="#m" x="771.5" y="724.5"/><use href="#m" x="772.5" y="720.5"/><use href="#m" x="772.5" y="705.5"/><use href="#m" x="773.5" y="708.5"/><use href="#m" x="774.5" y="692.5"/><use href="#m" x="774.5" y="708.5"/><use href="#m" x="775.5" y="724.5"/><use href="#m" x="775.5" y="724.5"/><use href="#m" x="776.5" y="701.5"/><use href="#m" x="777.5" y="712.5"/><use href="#m" x="777.5" y="695.5"/><use href="#m" x="778.5" y="729.5"/><use href="#m" x="779.5" y="708.5"/><use href="#m" x="779.5" y="734.5"/><use href="#m" x="780.5" y="745.5"/><use href="#m" x="780.5" y="758.5"/><use href="#m" x="781.5" y="712.5"/><use href="#m" x="782.5" y="720.5"/><use href="#m" x="782.5" y="701.5"/><use href="#m" x="783.5" y="724.5"/><use href="#m" x="783.5" y="698.5"/><use href="#m" x="784.5" y="734.5"/><use href="#m" x="785.5" y="712.5"/><use href="#m" x="785.5" y="739.5"/><use href="#m" x="786.5" y="701.5"/><use href="#m" x="786.5" y="689.5"/><use href="#m" x="787.5" y="689.5"/><use href="#m" x="788.5" y="739.5"/><use href="#m" x="788.5" y="729.5"/><use href="#m" x="789.5" y="698.5"/><use href="#m" x="789.5" y="692.5"/><use href="#m" x="790.5" y="712.5"/><use href="#m" x="791.5" y="724.5"/><use href="#m" x="791.5" y="729.5"/><use href="#m" x="792.5" y="758.5"/><use href="#m" x="792.5" y="734.5"/><use href="#m" x="793.5" y="705.5"/><use href="#m" x="794.5" y="701.5"/><use href="#m" x="794.5" y="712.5"/><use href="#m" x="795.5" y="716.5"/><use href="#m" x="796.5" y="720.5"/><use href="#m" x="796.5" y="734.5"/><use href="#m" x="797.5" y="724.5"/><use href="#m" x="797.5" y="720.5"/><use href="#m" x="798.5" y="729.5"/><use href="#m" x="799.5" y="708.5"/><use href="#m" x="799.5" y="739.5"/><use href="#m" x="800.5" y="684.5"/><use href="#m" x="800.5" y="705.5"/><use href="#m" x="801.5" y="720.5"/><use href="#m" x="802.5" y="782.5"/><use href="#m" x="802.5" y="695.5"/><use href="#m" x="803.5" y="734.5"/><use href="#m" x="803.5" y="745.5"/><use href="#m" x="804.5" y="739.5"/><use href="#m" x="805.5" y="705.5"/><use href="#m" x="805.5" y="734.5"/><use href="#m" x="806.5" y="734.5"/><use href="#m" x="806.5" y="708.5"/><use href="#m" x="807.5" y="734.5"/><use href="#m" x="808.5" y="701.5"/><use href="#m" x="808.5" y="701.5"/><use href="#m" x="809.5" y="689.5"/><use href="#m" x="809.5" y="708.5"/><use href="#m" x="810.5" y="745.5"/><use href="#m" x="811.5" y="708.5"/><use href="#m" x="811.5" y="716.5"/><use href="#m" x="812.5" y="708.5"/><use href="#m" x="812.5" y="692.5"/><use href="#m" x="813.5" y="729.5"/><use href="#m" x="814.5" y="729.5"/><use href="#m" x="814.5" y="720.5"/><use href="#m" x="815.5" y="692.5"/><use href="#m" x="816.5" y="729.5"/><use href="#m" x="816.5" y="720.5"/><use href="#m" x="817.5" y="745.5"/><use href="#m" x="817.5" y="712.5"/><use href="#m" x="818.5" y="758.5"/><use href="#m" x="819.5" y="701.5"/><use href="#m" x="819.5" y="705.5"/><use href="#m" x="820.5" y="729.5"/><use href="#m" x="820.5" y="689.5"/><use href="#m" x="821.5" y="708.5"/><use href="#m" x="822.5" y="712.5"/><use href="#m" x="822.5" y="734.5"/><use href="#m" x="823.5" y="734.5"/><use href="#m" x="823.5" y="724.5"/><use href="#m" x="824.5" y="724.5"/><use href="#m" x="825.5" y="716.5"/><use href="#m" x="825.5" y="734.5"/><use href="#m" x="826.5" y="734.5"/><use href="#m" x="826.5" y="720.5"/><use href="#m" x="827.5" y="729.5"/><use href="#m" x="828.5" y="708.5"/><use href="#m" x="828.5" y="676.5"/><use href="#m" x="829.5" y="705.5"/><use href="#m" x="829.5" y="734.5"/><use href="#m" x="830.5" y="695.5"/><use href="#m" x="831.5" y="720.5"/><use href="#m" x="831.5" y="716.5"/><use href="#m" x="832.5" y="698.5"/><use href="#m" x="833.5" y="716.5"/><use href="#m" x="833.5" y="705.5"/><use href="#m" x="834.5" y="739.5"/><use href="#m" x="834.5" y="729.5"/><use href="#m" x="835.5" y="729.5"/><use href="#m" x="836.5" y="701.5"/><use href="#m" x="836.5" y="729.5"/><use href="#m" x="837.5" y="712.5"/><use href="#m" x="837.5" y="701.5"/><use href="#m" x="838.5" y="708.5"/><use href="#m" x="839.5" y="729.5"/><use href="#m" x="839.5" y="689.5"/><use href="#m" x="840.5" y="698.5"/><use href="#m" x="840.5" y="765.5"/><use href="#m" x="841.5" y="729.5"/><use href="#m" x="842.5" y="724.5"/><use href="#m" x="842.5" y="720.5"/><use href="#m" x="843.5" y="712.5"/><use href="#m" x="843.5" y="695.5"/><use href="#m" x="844.5" y="720.5"/><use href="#m" x="845.5" y="729.5"/><use href="#m" x="845.5" y="701.5"/><use href="#m" x="846.5" y="724.5"/><use href="#m" x="846.5" y="724.5"/><use href="#m" x="847.5" y="712.5"/><use href="#m" x="848.5" y="708.5"/><use href="#m" x="848.5" y="734.5"/><use href="#m" x="849.5" y="724.5"/><use href="#m" x="849.5" y="686.5"/><use href="#m" x="850.5" y="705.5"/><use href="#m" x="851.5" y="716.5"/><use href="#m" x="851.5" y="739.5"/><use href="#m" x="852.5" y="751.5"/><use href="#m" x="853.5" y="708.5"/><use href="#m" x="853.5" y="686.5"/><use href="#m" x="854.5" y="739.5"/><use href="#m" x="854.5" y="701.5"/><use href="#m" x="855.5" y="751.5"/><use href="#m" x="856.5" y="708.5"/><use href="#m" x="856.5" y="734.5"/><use href="#m" x="857.5" y="708.5"/><use href="#m" x="857.5" y="751.5"/><use href="#m" x="858.5" y="705.5"/><use href="#m" x="859.5" y="712.5"/><use href="#m" x="859.5" y="773.5"/><use href="#m" x="860.5" y="698.5"/><use href="#m" x="860.5" y="705.5"/><use href="#m" x="861.5" y="720.5"/><use href="#m" x="862.5" y="751.5"/><use href="#m" x="862.5" y="720.5"/><use href="#m" x="863.5" y="708.5"/><use href="#m" x="863.5" y="720.5"/><use href="#m" x="864.5" y="739.5"/><use href="#m" x="865.5" y="689.5"/><use href="#m" x="865.5" y="705.5"/><use href="#m" x="866.5" y="689.5"/><use href="#m" x="866.5" y="724.5"/><use href="#m" x="867.5" y="689.5"/><use href="#m" x="868.5" y="708.5"/><use href="#m" x="868.5" y="692.5"/><use href="#m" x="869.5" y="734.5"/><use href="#m" x="870.5" y="698.5"/><use href="#m" x="870.5" y="720.5"/><use href="#m" x="871.5" y="745.5"/><use href="#m" x="871.5" y="734.5"/><use href="#m" x="872.5" y="695.5"/><use href="#m" x="873.5" y="739.5"/><use href="#m" x="873.5" y="729.5"/><use href="#m" x="874.5" y="705.5"/><use href="#m" x="874.5" y="734.5"/><use href="#m" x="875.5" y="734.5"/><use href="#m" x="876.5" y="739.5"/><use href="#m" x="876.5" y="729.5"/><use href="#m" x="877.5" y="729.5"/></g></g><path d="M197.9 845.5V837.5M197.9 36.5V44.5M246.4 845.5V831M246.4 36.5V51M294.9 845.5V837.5M294.9 36.5V44.5M343.5 845.5V831M343.5 36.5V51M392 845.5V837.5M392 36.5V44.5M440.5 845.5V831M440.5 36.5V51M489.1 845.5V837.5M489.1 36.5V44.5M537.6 845.5V831M537.6 36.5V51M586.1 845.5V837.5M586.1 36.5V44.5M634.6 845.5V831M634.6 36.5V51M683.2 845.5V837.5M683.2 36.5V44.5M731.7 845.5V831M731.7 36.5V51M780.2 845.5V837.5M780.2 36.5V44.5M828.8 845.5V831M828.8 36.5V51M173.5 89.9H188M877 89.9H862.5M173.5 265.6H188M877 265.6H862.5M173.5 212.7H181.5M877 212.7H869M173.5 181.7H181.5M877 181.7H869M173.5 159.8H181.5M877 159.8H869M173.5 142.8H181.5M877 142.8H869M173.5 128.9H181.5M877 128.9H869M173.5 117.1H181.5M877 117.1H869M173.5 106.9H181.5M877 106.9H869M173.5 97.9H181.5M877 97.9H869M173.5 441.2H188M877 441.2H862.5M173.5 388.3H181.5M877 388.3H869M173.5 357.4H181.5M877 357.4H869M173.5 335.4H181.5M877 335.4H869M173.5 318.4H181.5M877 318.4H869M173.5 304.5H181.5M877 304.5H869M173.5 292.8H181.5M877 292.8H869M173.5 282.6H181.5M877 282.6H869M173.5 273.6H181.5M877 273.6H869M173.5 616.9H188M877 616.9H862.5M173.5 564H181.5M877 564H869M173.5 533H181.5M877 533H869M173.5 511.1H181.5M877 511.1H869M173.5 494.1H181.5M877 494.1H869M173.5 480.2H181.5M877 480.2H869M173.5 468.4H181.5M877 468.4H869M173.5 458.2H181.5M877 458.2H869M173.5 449.2H181.5M877 449.2H869M173.5 792.5H188M877 792.5H862.5M173.5 739.6H181.5M877 739.6H869M173.5 708.7H181.5M877 708.7H869M173.5 686.7H181.5M877 686.7H869M173.5 669.7H181.5M877 669.7H869M173.5 655.8H181.5M877 655.8H869M173.5 644.1H181.5M877 644.1H869M173.5 633.9H181.5M877 633.9H869M173.5 624.9H181.5M877 624.9H869M173.5 831.5H181.5M877 831.5H869M173.5 819.7H181.5M877 819.7H869M173.5 809.5H181.5M877 809.5H869M173.5 800.5H181.5M877 800.5H869M1181.6 36.5V51M1181.6 432.5V418M1181.6 450V464.5M1181.6 845.5V831M1298.8 36.5V44.5M1298.8 432.5V424.5M1298.8 450V458M1298.8 845.5V837.5M1416 36.5V51M1416 432.5V418M1416 450V464.5M1416 845.5V831M1533.2 36.5V44.5M1533.2 432.5V424.5M1533.2 450V458M1533.2 845.5V837.5M1650.4 36.5V51M1650.4 432.5V418M1650.4 450V464.5M1650.4 845.5V831M1064.5 366.5H1072.5M1767.5 366.5H1759.5M1064.5 300.5H1079M1767.5 300.5H1753M1064.5 234.5H1072.5M1767.5 234.5H1759.5M1064.5 168.5H1079M1767.5 168.5H1753M1064.5 102.5H1072.5M1767.5 102.5H1759.5M1064.5 779.6H1079M1767.5 779.6H1753M1064.5 713.7H1072.5M1767.5 713.7H1759.5M1064.5 647.7H1079M1767.5 647.7H1753M1064.5 581.8H1072.5M1767.5 581.8H1759.5M1064.5 515.9H1079M1767.5 515.9H1753" stroke="#000" stroke-width="2.6" fill="none"/><rect x="173.5" y="36.5" width="703.5" height="809.0" fill="none" stroke="#000" stroke-width="3"/><rect x="1064.5" y="36.5" width="703.0" height="396.0" fill="none" stroke="#000" stroke-width="3"/><rect x="1064.5" y="450.0" width="703.0" height="395.5" fill="none" stroke="#000" stroke-width="3"/><text x="245.8" y="894" font-size="45.5" text-anchor="middle" >0</text><text x="342.9" y="894" font-size="45.5" text-anchor="middle" >2</text><text x="439.9" y="894" font-size="45.5" text-anchor="middle" >4</text><text x="537" y="894" font-size="45.5" text-anchor="middle" >6</text><text x="634" y="894" font-size="45.5" text-anchor="middle" >8</text><text x="731.1" y="894" font-size="45.5" text-anchor="middle" >10</text><text x="828.2" y="894" font-size="45.5" text-anchor="middle" >12</text><text x="144.8" y="105.9" font-size="45.5" text-anchor="end" >10</text><text x="144.8" y="81.4" font-size="26" text-anchor="start" >0</text><text x="136.2" y="281.6" font-size="45.5" text-anchor="end" >10</text><text x="136.2" y="257.1" font-size="26" text-anchor="start" >-1</text><text x="136.2" y="457.2" font-size="45.5" text-anchor="end" >10</text><text x="136.2" y="432.7" font-size="26" text-anchor="start" >-2</text><text x="136.2" y="632.9" font-size="45.5" text-anchor="end" >10</text><text x="136.2" y="608.4" font-size="26" text-anchor="start" >-3</text><text x="136.2" y="808.5" font-size="45.5" text-anchor="end" >10</text><text x="136.2" y="784" font-size="26" text-anchor="start" >-4</text><text x="1180.8" y="893.8" font-size="45.5" text-anchor="middle" >2.2</text><text x="1415.2" y="893.8" font-size="45.5" text-anchor="middle" >2.4</text><text x="1649.6" y="893.8" font-size="45.5" text-anchor="middle" >2.6</text><text x="1049.3" y="444.5" font-size="45.5" text-anchor="end" >0.0</text><text x="1049.3" y="312.5" font-size="45.5" text-anchor="end" >1.0</text><text x="1049.3" y="180.5" font-size="45.5" text-anchor="end" >2.0</text><text x="1049.3" y="48.5" font-size="45.5" text-anchor="end" >3.0</text><text x="1049.3" y="791.1" font-size="45.5" text-anchor="end" >1.4</text><text x="1049.3" y="659.2" font-size="45.5" text-anchor="end" >1.6</text><text x="1049.3" y="527.4" font-size="45.5" text-anchor="end" >1.8</text><text x="531.8" y="962" font-size="51.4" text-anchor="middle" >Time (ns)</text><text transform="translate(53,452.7) rotate(-90)" font-size="51" text-anchor="middle">Counts/channel (12.5 ps)</text><text transform="translate(954.5,235.7) rotate(-90)" font-size="51.4" text-anchor="middle">Void radius (Å)</text><g transform="translate(956.4,735.8) rotate(-90)" font-size="51"><text x="0" y="0">Q</text><text x="38" y="19.6" font-size="29">1</text><text x="68.3" y="0">(Å</text><text x="119" y="-27.6" font-size="29">-1</text><text x="145" y="0">)</text></g><text x="1244.8" y="965.5" font-size="50.4">Density (g/cm<tspan dx="-0.5" dy="-25.7" font-size="30">3</tspan><tspan dx="2.2" dy="25.7">)</tspan></text><text x="188" y="81.5" font-size="39.5" text-anchor="start" >(a)</text><text x="1694" y="85.8" font-size="39.5" text-anchor="start" >(b)</text><text x="1071.5" y="499" font-size="39.5" text-anchor="start" >(c)</text><text x="520.5" y="92.2" font-size="40">2.20 g/cm<tspan dx="1" dy="-21" font-size="24">3</tspan><tspan dy="21"> (0 GPa)</tspan></text><text x="520.5" y="148.8" font-size="40">2.26 g/cm<tspan dx="1" dy="-21" font-size="24">3</tspan><tspan dy="21"> (4 GPa)</tspan></text><text x="520.5" y="205.2" font-size="40">2.41 g/cm<tspan dx="1" dy="-21" font-size="24">3</tspan><tspan dy="21"> (6 GPa)</tspan></text><text x="520.5" y="261.6" font-size="40">2.67 g/cm<tspan dx="1" dy="-21" font-size="24">3</tspan><tspan dy="21"> (8 GPa)</tspan></text><g fill="none" stroke-width="2" shape-rendering="crispEdges"><circle cx="466" cy="78.5" r="7.2" stroke="#f00"/><path d="M457 141L466.5 126.5L476 141Z" stroke="#0f0"/><path d="M457 187.5L476 187.5L466.5 203Z" stroke="#00f" stroke-width="1.8"/><path d="M457.4 249.4L466.5 240.3L475.6 249.4L466.5 258.5Z" stroke="#f0f"/></g><g clip-path="url(#clipB)"><path d="M1179 74.2V85.5M1179 115.5V126.8" stroke="#00f" stroke-width="1.2" fill="none" shape-rendering="crispEdges"/><path d="M1172.5 74.2h13M1172.5 126.8h13" stroke="#00f" stroke-width="1.6" fill="none" shape-rendering="crispEdges"/><circle cx="1179" cy="100.5" r="13.5" stroke="#00f" stroke-width="5" fill="none"/><path d="M1245.4 86.2V97.5M1245.4 127.5V138.8" stroke="#00f" stroke-width="1.2" fill="none" shape-rendering="crispEdges"/><path d="M1238.9 86.2h13M1238.9 138.8h13" stroke="#00f" stroke-width="1.6" fill="none" shape-rendering="crispEdges"/><circle cx="1245.4" cy="112.5" r="13.5" stroke="#00f" stroke-width="5" fill="none"/><path d="M1422.4 133.6V144.9M1422.4 174.9V186.2" stroke="#00f" stroke-width="1.2" fill="none" shape-rendering="crispEdges"/><path d="M1415.9 133.6h13M1415.9 186.2h13" stroke="#00f" stroke-width="1.6" fill="none" shape-rendering="crispEdges"/><circle cx="1422.4" cy="159.9" r="13.5" stroke="#00f" stroke-width="5" fill="none"/><path d="M1731.8 238.9V250.2M1731.8 280.2V291.5" stroke="#00f" stroke-width="1.2" fill="none" shape-rendering="crispEdges"/><path d="M1725.3 238.9h13M1725.3 291.5h13" stroke="#00f" stroke-width="1.6" fill="none" shape-rendering="crispEdges"/><circle cx="1731.8" cy="265.2" r="13.5" stroke="#00f" stroke-width="5" fill="none"/><path d="M1063 61.2L1757 268" stroke="#00f" stroke-width="4.2" stroke-dasharray="13.6 16" fill="none"/></g><g clip-path="url(#clipC)"><circle cx="1179" cy="693.4" r="13.4" stroke="#00f" stroke-width="4.6" fill="none"/><circle cx="1245.6" cy="673.4" r="13.4" stroke="#00f" stroke-width="4.6" fill="none"/><circle cx="1421.8" cy="621.5" r="13.4" stroke="#00f" stroke-width="4.6" fill="none"/><circle cx="1732" cy="502.4" r="13.4" stroke="#00f" stroke-width="4.6" fill="none"/><path d="M1063 736.9L1757 498.7" stroke="#00f" stroke-width="4.2" stroke-dasharray="13.8 16.2" fill="none"/><path d="M1179 664.5V680.5M1179 714.5V730.5" stroke="#f00" stroke-width="3" fill="none" shape-rendering="crispEdges"/><path d="M1171.5 664.5h15M1171.5 730.5h15" stroke="#f00" stroke-width="2.8" fill="none" shape-rendering="crispEdges"/><path d="M1162.8 697.5l16.2 -15.8l16.2 15.8l-16.2 15.8z" stroke="#f00" stroke-width="5" fill="none" stroke-linejoin="miter"/><path d="M1246 649.8V665.8M1246 699.8V715.8" stroke="#f00" stroke-width="3" fill="none" shape-rendering="crispEdges"/><path d="M1238.5 649.8h15M1238.5 715.8h15" stroke="#f00" stroke-width="2.8" fill="none" shape-rendering="crispEdges"/><path d="M1229.8 682.8l16.2 -15.8l16.2 15.8l-16.2 15.8z" stroke="#f00" stroke-width="5" fill="none" stroke-linejoin="miter"/><path d="M1422.6 590.2V606.2M1422.6 640.2V656.2" stroke="#f00" stroke-width="3" fill="none" shape-rendering="crispEdges"/><path d="M1415.1 590.2h15M1415.1 656.2h15" stroke="#f00" stroke-width="2.8" fill="none" shape-rendering="crispEdges"/><path d="M1406.4 623.2l16.2 -15.8l16.2 15.8l-16.2 15.8z" stroke="#f00" stroke-width="5" fill="none" stroke-linejoin="miter"/><path d="M1732.6 459.2V475.2M1732.6 509.2V525.2" stroke="#f00" stroke-width="3" fill="none" shape-rendering="crispEdges"/><path d="M1725.1 459.2h15M1725.1 525.2h15" stroke="#f00" stroke-width="2.8" fill="none" shape-rendering="crispEdges"/><path d="M1716.4 492.2l16.2 -15.8l16.2 15.8l-16.2 15.8z" stroke="#f00" stroke-width="5" fill="none" stroke-linejoin="miter"/></g>
</svg>
</body></html>
